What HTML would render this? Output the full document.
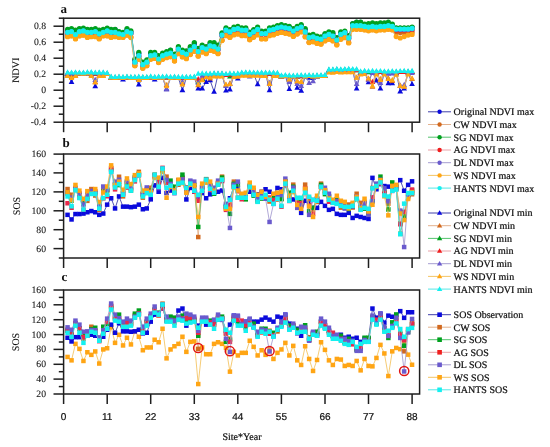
<!DOCTYPE html>
<html><head><meta charset="utf-8"><title>NDVI and SOS comparison</title>
<style>
html,body{margin:0;padding:0;background:#fff;}
body{width:550px;height:447px;overflow:hidden;}
svg{display:block;text-rendering:geometricPrecision;}
.yt{font-family:"Liberation Serif",serif;font-size:9.7px;fill:#111;stroke:#111;stroke-width:0.08px;text-anchor:end;}
.xt{font-family:"Liberation Sans",sans-serif;font-size:10px;fill:#111;stroke:#111;stroke-width:0.22px;text-anchor:middle;}
.lg{font-family:"Liberation Serif",serif;font-size:10px;fill:#111;stroke:#111;stroke-width:0.22px;}
.al{font-family:"Liberation Serif",serif;font-size:10px;fill:#111;stroke:#111;stroke-width:0.08px;text-anchor:middle;}
.xl{font-family:"Liberation Serif",serif;font-size:10px;fill:#111;stroke:#111;stroke-width:0.22px;text-anchor:middle;}
.pl{font-family:"Liberation Serif",serif;font-size:13px;font-weight:bold;fill:#111;}
</style></head>
<body>
<svg width="550" height="447" viewBox="0 0 550 447">
<g>
<rect width="550" height="447" fill="#fff"/>
<g>
<polyline points="67.6,73.4 71.5,82.0 75.5,73.5 79.4,73.7 83.4,73.7 87.4,73.3 91.3,73.3 95.3,86.2 99.2,73.5 103.2,73.4 107.2,73.9 111.1,77.8 115.1,78.0 119.0,77.8 123.0,79.5 127.0,77.6 130.9,77.9 134.9,78.0 138.8,84.5 142.8,77.9 146.8,77.9 150.7,77.5 154.7,79.6 158.6,77.9 162.6,77.7 166.6,89.0 170.5,78.0 174.5,77.8 178.4,77.9 182.4,90.3 186.4,77.9 190.3,78.1 194.3,77.7 198.2,88.4 202.2,88.4 206.2,81.9 210.1,80.3 214.1,91.7 218.0,74.4 222.0,74.4 226.0,90.6 229.9,89.5 233.9,74.7 237.8,78.6 241.8,73.6 245.8,73.5 249.7,75.1 253.7,73.7 257.6,84.2 261.6,73.8 265.6,73.7 269.5,90.3 273.5,73.8 277.4,73.9 281.4,76.4 285.4,76.1 289.3,89.1 293.3,76.6 297.2,87.8 301.2,90.8 305.2,76.4 309.1,77.7 313.1,78.1 317.0,76.3 321.0,76.2 325.0,76.0 328.9,70.4 332.9,70.5 336.8,70.0 340.8,70.4 344.8,70.1 348.7,70.0 352.7,70.1 356.6,88.6 360.6,72.4 364.6,71.9 368.5,82.3 372.5,71.9 376.4,80.5 380.4,88.6 384.4,72.4 388.3,83.2 392.3,83.2 396.2,72.5 400.2,91.4 404.2,88.6 408.1,72.3 412.1,84.1" fill="none" stroke="#2a2aa0" stroke-width="0.8" stroke-linejoin="round"/>
<g fill="#0a0adc"><path d="M67.6,70.2L70.4,75.4L64.7,75.4Z"/><path d="M71.5,78.8L74.4,84.0L68.7,84.0Z"/><path d="M75.5,70.3L78.3,75.5L72.6,75.5Z"/><path d="M79.4,70.4L82.3,75.6L76.6,75.6Z"/><path d="M83.4,70.5L86.3,75.7L80.5,75.7Z"/><path d="M87.4,70.1L90.2,75.3L84.5,75.3Z"/><path d="M91.3,70.1L94.2,75.3L88.5,75.3Z"/><path d="M95.3,83.0L98.1,88.2L92.4,88.2Z"/><path d="M99.2,70.2L102.1,75.4L96.4,75.4Z"/><path d="M103.2,70.2L106.1,75.4L100.3,75.4Z"/><path d="M107.2,70.7L110.0,75.9L104.3,75.9Z"/><path d="M111.1,74.6L114.0,79.8L108.3,79.8Z"/><path d="M115.1,74.8L117.9,80.0L112.2,80.0Z"/><path d="M119.0,74.6L121.9,79.8L116.2,79.8Z"/><path d="M123.0,76.3L125.9,81.5L120.1,81.5Z"/><path d="M127.0,74.4L129.8,79.6L124.1,79.6Z"/><path d="M130.9,74.7L133.8,79.9L128.1,79.9Z"/><path d="M134.9,74.8L137.7,80.0L132.0,80.0Z"/><path d="M138.8,81.3L141.7,86.5L136.0,86.5Z"/><path d="M142.8,74.7L145.7,79.9L139.9,79.9Z"/><path d="M146.8,74.7L149.6,79.9L143.9,79.9Z"/><path d="M150.7,74.3L153.6,79.5L147.9,79.5Z"/><path d="M154.7,76.3L157.5,81.5L151.8,81.5Z"/><path d="M158.6,74.6L161.5,79.8L155.8,79.8Z"/><path d="M162.6,74.5L165.5,79.7L159.7,79.7Z"/><path d="M166.6,85.8L169.4,91.0L163.7,91.0Z"/><path d="M170.5,74.8L173.4,80.0L167.7,80.0Z"/><path d="M174.5,74.6L177.3,79.8L171.6,79.8Z"/><path d="M178.4,74.7L181.3,79.9L175.6,79.9Z"/><path d="M182.4,87.1L185.3,92.3L179.5,92.3Z"/><path d="M186.4,74.7L189.2,79.9L183.5,79.9Z"/><path d="M190.3,74.8L193.2,80.0L187.5,80.0Z"/><path d="M194.3,74.5L197.1,79.7L191.4,79.7Z"/><path d="M198.2,85.2L201.1,90.4L195.4,90.4Z"/><path d="M202.2,85.2L205.1,90.4L199.3,90.4Z"/><path d="M206.2,78.7L209.0,83.9L203.3,83.9Z"/><path d="M210.1,77.1L213.0,82.3L207.3,82.3Z"/><path d="M214.1,88.5L216.9,93.7L211.2,93.7Z"/><path d="M218.0,71.2L220.9,76.4L215.2,76.4Z"/><path d="M222.0,71.2L224.9,76.4L219.1,76.4Z"/><path d="M226.0,87.4L228.8,92.6L223.1,92.6Z"/><path d="M229.9,86.3L232.8,91.5L227.1,91.5Z"/><path d="M233.9,71.5L236.7,76.7L231.0,76.7Z"/><path d="M237.8,75.4L240.7,80.6L235.0,80.6Z"/><path d="M241.8,70.4L244.7,75.6L238.9,75.6Z"/><path d="M245.8,70.3L248.6,75.5L242.9,75.5Z"/><path d="M249.7,71.9L252.6,77.1L246.9,77.1Z"/><path d="M253.7,70.4L256.5,75.6L250.8,75.6Z"/><path d="M257.6,81.0L260.5,86.2L254.8,86.2Z"/><path d="M261.6,70.6L264.5,75.8L258.7,75.8Z"/><path d="M265.6,70.5L268.4,75.7L262.7,75.7Z"/><path d="M269.5,87.1L272.4,92.3L266.7,92.3Z"/><path d="M273.5,70.6L276.3,75.8L270.6,75.8Z"/><path d="M277.4,70.7L280.3,75.9L274.6,75.9Z"/><path d="M281.4,73.2L284.3,78.4L278.5,78.4Z"/><path d="M285.4,72.9L288.2,78.1L282.5,78.1Z"/><path d="M289.3,85.9L292.2,91.1L286.5,91.1Z"/><path d="M293.3,73.4L296.1,78.6L290.4,78.6Z"/><path d="M297.2,84.6L300.1,89.8L294.4,89.8Z"/><path d="M301.2,87.6L304.1,92.8L298.3,92.8Z"/><path d="M305.2,73.2L308.0,78.4L302.3,78.4Z"/><path d="M309.1,74.5L312.0,79.7L306.3,79.7Z"/><path d="M313.1,74.9L315.9,80.1L310.2,80.1Z"/><path d="M317.0,73.1L319.9,78.3L314.2,78.3Z"/><path d="M321.0,72.9L323.9,78.1L318.1,78.1Z"/><path d="M325.0,72.8L327.8,78.0L322.1,78.0Z"/><path d="M328.9,67.2L331.8,72.4L326.1,72.4Z"/><path d="M332.9,67.3L335.7,72.5L330.0,72.5Z"/><path d="M336.8,66.7L339.7,71.9L334.0,71.9Z"/><path d="M340.8,67.2L343.7,72.4L337.9,72.4Z"/><path d="M344.8,66.9L347.6,72.1L341.9,72.1Z"/><path d="M348.7,66.8L351.6,72.0L345.9,72.0Z"/><path d="M352.7,66.9L355.5,72.1L349.8,72.1Z"/><path d="M356.6,85.4L359.5,90.6L353.8,90.6Z"/><path d="M360.6,69.2L363.5,74.4L357.7,74.4Z"/><path d="M364.6,68.7L367.4,73.9L361.7,73.9Z"/><path d="M368.5,79.1L371.4,84.3L365.7,84.3Z"/><path d="M372.5,68.7L375.3,73.9L369.6,73.9Z"/><path d="M376.4,77.3L379.3,82.5L373.6,82.5Z"/><path d="M380.4,85.4L383.3,90.6L377.5,90.6Z"/><path d="M384.4,69.2L387.2,74.4L381.5,74.4Z"/><path d="M388.3,80.0L391.2,85.2L385.5,85.2Z"/><path d="M392.3,80.0L395.1,85.2L389.4,85.2Z"/><path d="M396.2,69.3L399.1,74.5L393.4,74.5Z"/><path d="M400.2,88.2L403.1,93.4L397.3,93.4Z"/><path d="M404.2,85.4L407.0,90.6L401.3,90.6Z"/><path d="M408.1,69.0L411.0,74.2L405.3,74.2Z"/><path d="M412.1,80.9L414.9,86.1L409.2,86.1Z"/></g>
<polyline points="67.6,75.4 71.5,77.0 75.5,75.5 79.4,73.7 83.4,73.7 87.4,73.3 91.3,75.3 95.3,82.0 99.2,75.5 103.2,75.4 107.2,73.9 111.1,77.8 115.1,78.0 119.0,77.8 123.0,77.9 127.0,77.6 130.9,77.9 134.9,78.0 138.8,80.0 142.8,77.9 146.8,77.9 150.7,77.5 154.7,78.0 158.6,77.9 162.6,77.7 166.6,85.1 170.5,78.0 174.5,77.8 178.4,77.9 182.4,83.1 186.4,77.9 190.3,78.1 194.3,77.7 198.2,85.3 202.2,79.6 206.2,74.9 210.1,78.4 214.1,74.4 218.0,74.4 222.0,74.4 226.0,85.3 229.9,83.5 233.9,74.7 237.8,74.5 241.8,73.6 245.8,73.5 249.7,73.5 253.7,73.7 257.6,73.7 261.6,73.8 265.6,73.7 269.5,83.7 273.5,73.8 277.4,73.9 281.4,76.4 285.4,76.1 289.3,79.4 293.3,76.6 297.2,81.4 301.2,82.0 305.2,76.4 309.1,76.1 313.1,76.5 317.0,76.3 321.0,76.2 325.0,76.0 328.9,70.4 332.9,70.5 336.8,70.0 340.8,70.4 344.8,70.1 348.7,70.0 352.7,70.1 356.6,77.6 360.6,72.4 364.6,71.9 368.5,78.7 372.5,86.8 376.4,72.3 380.4,79.1 384.4,72.4 388.3,78.3 392.3,80.9 396.2,72.5 400.2,85.7 404.2,86.4 408.1,72.3 412.1,78.9" fill="none" stroke="#e0a880" stroke-width="0.8" stroke-linejoin="round"/>
<g fill="#d2691e"><path d="M67.6,72.2L70.4,77.4L64.7,77.4Z"/><path d="M71.5,73.8L74.4,79.0L68.7,79.0Z"/><path d="M75.5,72.3L78.3,77.5L72.6,77.5Z"/><path d="M79.4,70.4L82.3,75.6L76.6,75.6Z"/><path d="M83.4,70.5L86.3,75.7L80.5,75.7Z"/><path d="M87.4,70.1L90.2,75.3L84.5,75.3Z"/><path d="M91.3,72.1L94.2,77.3L88.5,77.3Z"/><path d="M95.3,78.8L98.1,84.0L92.4,84.0Z"/><path d="M99.2,72.2L102.1,77.4L96.4,77.4Z"/><path d="M103.2,72.2L106.1,77.4L100.3,77.4Z"/><path d="M107.2,70.7L110.0,75.9L104.3,75.9Z"/><path d="M111.1,74.6L114.0,79.8L108.3,79.8Z"/><path d="M115.1,74.8L117.9,80.0L112.2,80.0Z"/><path d="M119.0,74.6L121.9,79.8L116.2,79.8Z"/><path d="M123.0,74.7L125.9,79.9L120.1,79.9Z"/><path d="M127.0,74.4L129.8,79.6L124.1,79.6Z"/><path d="M130.9,74.7L133.8,79.9L128.1,79.9Z"/><path d="M134.9,74.8L137.7,80.0L132.0,80.0Z"/><path d="M138.8,76.8L141.7,82.0L136.0,82.0Z"/><path d="M142.8,74.7L145.7,79.9L139.9,79.9Z"/><path d="M146.8,74.7L149.6,79.9L143.9,79.9Z"/><path d="M150.7,74.3L153.6,79.5L147.9,79.5Z"/><path d="M154.7,74.7L157.5,79.9L151.8,79.9Z"/><path d="M158.6,74.6L161.5,79.8L155.8,79.8Z"/><path d="M162.6,74.5L165.5,79.7L159.7,79.7Z"/><path d="M166.6,81.9L169.4,87.1L163.7,87.1Z"/><path d="M170.5,74.8L173.4,80.0L167.7,80.0Z"/><path d="M174.5,74.6L177.3,79.8L171.6,79.8Z"/><path d="M178.4,74.7L181.3,79.9L175.6,79.9Z"/><path d="M182.4,79.9L185.3,85.1L179.5,85.1Z"/><path d="M186.4,74.7L189.2,79.9L183.5,79.9Z"/><path d="M190.3,74.8L193.2,80.0L187.5,80.0Z"/><path d="M194.3,74.5L197.1,79.7L191.4,79.7Z"/><path d="M198.2,82.0L201.1,87.2L195.4,87.2Z"/><path d="M202.2,76.4L205.1,81.6L199.3,81.6Z"/><path d="M206.2,71.6L209.0,76.8L203.3,76.8Z"/><path d="M210.1,75.2L213.0,80.4L207.3,80.4Z"/><path d="M214.1,71.1L216.9,76.3L211.2,76.3Z"/><path d="M218.0,71.2L220.9,76.4L215.2,76.4Z"/><path d="M222.0,71.2L224.9,76.4L219.1,76.4Z"/><path d="M226.0,82.1L228.8,87.3L223.1,87.3Z"/><path d="M229.9,80.3L232.8,85.5L227.1,85.5Z"/><path d="M233.9,71.5L236.7,76.7L231.0,76.7Z"/><path d="M237.8,71.3L240.7,76.5L235.0,76.5Z"/><path d="M241.8,70.4L244.7,75.6L238.9,75.6Z"/><path d="M245.8,70.3L248.6,75.5L242.9,75.5Z"/><path d="M249.7,70.3L252.6,75.5L246.9,75.5Z"/><path d="M253.7,70.4L256.5,75.6L250.8,75.6Z"/><path d="M257.6,70.4L260.5,75.6L254.8,75.6Z"/><path d="M261.6,70.6L264.5,75.8L258.7,75.8Z"/><path d="M265.6,70.5L268.4,75.7L262.7,75.7Z"/><path d="M269.5,80.4L272.4,85.6L266.7,85.6Z"/><path d="M273.5,70.6L276.3,75.8L270.6,75.8Z"/><path d="M277.4,70.7L280.3,75.9L274.6,75.9Z"/><path d="M281.4,73.2L284.3,78.4L278.5,78.4Z"/><path d="M285.4,72.9L288.2,78.1L282.5,78.1Z"/><path d="M289.3,76.2L292.2,81.4L286.5,81.4Z"/><path d="M293.3,73.4L296.1,78.6L290.4,78.6Z"/><path d="M297.2,78.2L300.1,83.4L294.4,83.4Z"/><path d="M301.2,78.8L304.1,84.0L298.3,84.0Z"/><path d="M305.2,73.2L308.0,78.4L302.3,78.4Z"/><path d="M309.1,72.9L312.0,78.1L306.3,78.1Z"/><path d="M313.1,73.3L315.9,78.5L310.2,78.5Z"/><path d="M317.0,73.1L319.9,78.3L314.2,78.3Z"/><path d="M321.0,72.9L323.9,78.1L318.1,78.1Z"/><path d="M325.0,72.8L327.8,78.0L322.1,78.0Z"/><path d="M328.9,67.2L331.8,72.4L326.1,72.4Z"/><path d="M332.9,67.3L335.7,72.5L330.0,72.5Z"/><path d="M336.8,66.7L339.7,71.9L334.0,71.9Z"/><path d="M340.8,67.2L343.7,72.4L337.9,72.4Z"/><path d="M344.8,66.9L347.6,72.1L341.9,72.1Z"/><path d="M348.7,66.8L351.6,72.0L345.9,72.0Z"/><path d="M352.7,66.9L355.5,72.1L349.8,72.1Z"/><path d="M356.6,74.4L359.5,79.6L353.8,79.6Z"/><path d="M360.6,69.2L363.5,74.4L357.7,74.4Z"/><path d="M364.6,68.7L367.4,73.9L361.7,73.9Z"/><path d="M368.5,75.4L371.4,80.6L365.7,80.6Z"/><path d="M372.5,83.5L375.3,88.7L369.6,88.7Z"/><path d="M376.4,69.1L379.3,74.3L373.6,74.3Z"/><path d="M380.4,75.9L383.3,81.1L377.5,81.1Z"/><path d="M384.4,69.2L387.2,74.4L381.5,74.4Z"/><path d="M388.3,75.0L391.2,80.2L385.5,80.2Z"/><path d="M392.3,77.7L395.1,82.9L389.4,82.9Z"/><path d="M396.2,69.3L399.1,74.5L393.4,74.5Z"/><path d="M400.2,82.4L403.1,87.6L397.3,87.6Z"/><path d="M404.2,83.2L407.0,88.4L401.3,88.4Z"/><path d="M408.1,69.0L411.0,74.2L405.3,74.2Z"/><path d="M412.1,75.7L414.9,80.9L409.2,80.9Z"/></g>
<polyline points="67.6,73.4 71.5,73.6 75.5,73.5 79.4,73.7 83.4,73.7 87.4,73.3 91.3,73.3 95.3,73.8 99.2,73.5 103.2,73.4 107.2,73.9 111.1,77.8 115.1,78.0 119.0,77.8 123.0,77.9 127.0,77.6 130.9,77.9 134.9,78.0 138.8,77.8 142.8,77.9 146.8,77.9 150.7,77.5 154.7,78.0 158.6,77.9 162.6,77.7 166.6,77.5 170.5,78.0 174.5,77.8 178.4,77.9 182.4,78.0 186.4,77.9 190.3,78.1 194.3,77.7 198.2,81.9 202.2,79.0 206.2,74.9 210.1,74.8 214.1,74.4 218.0,74.4 222.0,74.4 226.0,74.9 229.9,76.5 233.9,74.7 237.8,74.5 241.8,73.6 245.8,73.5 249.7,73.5 253.7,73.7 257.6,73.7 261.6,73.8 265.6,73.7 269.5,73.9 273.5,73.8 277.4,73.9 281.4,76.4 285.4,76.1 289.3,76.5 293.3,76.6 297.2,76.5 301.2,76.3 305.2,76.4 309.1,76.1 313.1,76.5 317.0,76.3 321.0,76.2 325.0,76.0 328.9,70.4 332.9,70.5 336.8,70.0 340.8,70.4 344.8,70.1 348.7,70.0 352.7,70.1 356.6,70.4 360.6,72.4 364.6,71.9 368.5,72.3 372.5,71.9 376.4,72.3 380.4,72.1 384.4,72.4 388.3,72.5 392.3,72.2 396.2,72.5 400.2,72.1 404.2,71.9 408.1,72.3 412.1,71.9" fill="none" stroke="#40bc5c" stroke-width="0.8" stroke-linejoin="round"/>
<g fill="#00a01e"><path d="M67.6,70.2L70.4,75.4L64.7,75.4Z"/><path d="M71.5,70.4L74.4,75.6L68.7,75.6Z"/><path d="M75.5,70.3L78.3,75.5L72.6,75.5Z"/><path d="M79.4,70.4L82.3,75.6L76.6,75.6Z"/><path d="M83.4,70.5L86.3,75.7L80.5,75.7Z"/><path d="M87.4,70.1L90.2,75.3L84.5,75.3Z"/><path d="M91.3,70.1L94.2,75.3L88.5,75.3Z"/><path d="M95.3,70.6L98.1,75.8L92.4,75.8Z"/><path d="M99.2,70.2L102.1,75.4L96.4,75.4Z"/><path d="M103.2,70.2L106.1,75.4L100.3,75.4Z"/><path d="M107.2,70.7L110.0,75.9L104.3,75.9Z"/><path d="M111.1,74.6L114.0,79.8L108.3,79.8Z"/><path d="M115.1,74.8L117.9,80.0L112.2,80.0Z"/><path d="M119.0,74.6L121.9,79.8L116.2,79.8Z"/><path d="M123.0,74.7L125.9,79.9L120.1,79.9Z"/><path d="M127.0,74.4L129.8,79.6L124.1,79.6Z"/><path d="M130.9,74.7L133.8,79.9L128.1,79.9Z"/><path d="M134.9,74.8L137.7,80.0L132.0,80.0Z"/><path d="M138.8,74.6L141.7,79.8L136.0,79.8Z"/><path d="M142.8,74.7L145.7,79.9L139.9,79.9Z"/><path d="M146.8,74.7L149.6,79.9L143.9,79.9Z"/><path d="M150.7,74.3L153.6,79.5L147.9,79.5Z"/><path d="M154.7,74.7L157.5,79.9L151.8,79.9Z"/><path d="M158.6,74.6L161.5,79.8L155.8,79.8Z"/><path d="M162.6,74.5L165.5,79.7L159.7,79.7Z"/><path d="M166.6,74.3L169.4,79.5L163.7,79.5Z"/><path d="M170.5,74.8L173.4,80.0L167.7,80.0Z"/><path d="M174.5,74.6L177.3,79.8L171.6,79.8Z"/><path d="M178.4,74.7L181.3,79.9L175.6,79.9Z"/><path d="M182.4,74.8L185.3,80.0L179.5,80.0Z"/><path d="M186.4,74.7L189.2,79.9L183.5,79.9Z"/><path d="M190.3,74.8L193.2,80.0L187.5,80.0Z"/><path d="M194.3,74.5L197.1,79.7L191.4,79.7Z"/><path d="M198.2,78.7L201.1,83.9L195.4,83.9Z"/><path d="M202.2,75.8L205.1,81.0L199.3,81.0Z"/><path d="M206.2,71.6L209.0,76.8L203.3,76.8Z"/><path d="M210.1,71.6L213.0,76.8L207.3,76.8Z"/><path d="M214.1,71.1L216.9,76.3L211.2,76.3Z"/><path d="M218.0,71.2L220.9,76.4L215.2,76.4Z"/><path d="M222.0,71.2L224.9,76.4L219.1,76.4Z"/><path d="M226.0,71.7L228.8,76.9L223.1,76.9Z"/><path d="M229.9,73.3L232.8,78.5L227.1,78.5Z"/><path d="M233.9,71.5L236.7,76.7L231.0,76.7Z"/><path d="M237.8,71.3L240.7,76.5L235.0,76.5Z"/><path d="M241.8,70.4L244.7,75.6L238.9,75.6Z"/><path d="M245.8,70.3L248.6,75.5L242.9,75.5Z"/><path d="M249.7,70.3L252.6,75.5L246.9,75.5Z"/><path d="M253.7,70.4L256.5,75.6L250.8,75.6Z"/><path d="M257.6,70.4L260.5,75.6L254.8,75.6Z"/><path d="M261.6,70.6L264.5,75.8L258.7,75.8Z"/><path d="M265.6,70.5L268.4,75.7L262.7,75.7Z"/><path d="M269.5,70.6L272.4,75.8L266.7,75.8Z"/><path d="M273.5,70.6L276.3,75.8L270.6,75.8Z"/><path d="M277.4,70.7L280.3,75.9L274.6,75.9Z"/><path d="M281.4,73.2L284.3,78.4L278.5,78.4Z"/><path d="M285.4,72.9L288.2,78.1L282.5,78.1Z"/><path d="M289.3,73.3L292.2,78.5L286.5,78.5Z"/><path d="M293.3,73.4L296.1,78.6L290.4,78.6Z"/><path d="M297.2,73.3L300.1,78.5L294.4,78.5Z"/><path d="M301.2,73.1L304.1,78.3L298.3,78.3Z"/><path d="M305.2,73.2L308.0,78.4L302.3,78.4Z"/><path d="M309.1,72.9L312.0,78.1L306.3,78.1Z"/><path d="M313.1,73.3L315.9,78.5L310.2,78.5Z"/><path d="M317.0,73.1L319.9,78.3L314.2,78.3Z"/><path d="M321.0,72.9L323.9,78.1L318.1,78.1Z"/><path d="M325.0,72.8L327.8,78.0L322.1,78.0Z"/><path d="M328.9,67.2L331.8,72.4L326.1,72.4Z"/><path d="M332.9,67.3L335.7,72.5L330.0,72.5Z"/><path d="M336.8,66.7L339.7,71.9L334.0,71.9Z"/><path d="M340.8,67.2L343.7,72.4L337.9,72.4Z"/><path d="M344.8,66.9L347.6,72.1L341.9,72.1Z"/><path d="M348.7,66.8L351.6,72.0L345.9,72.0Z"/><path d="M352.7,66.9L355.5,72.1L349.8,72.1Z"/><path d="M356.6,67.1L359.5,72.3L353.8,72.3Z"/><path d="M360.6,69.2L363.5,74.4L357.7,74.4Z"/><path d="M364.6,68.7L367.4,73.9L361.7,73.9Z"/><path d="M368.5,69.0L371.4,74.2L365.7,74.2Z"/><path d="M372.5,68.7L375.3,73.9L369.6,73.9Z"/><path d="M376.4,69.1L379.3,74.3L373.6,74.3Z"/><path d="M380.4,68.9L383.3,74.1L377.5,74.1Z"/><path d="M384.4,69.2L387.2,74.4L381.5,74.4Z"/><path d="M388.3,69.3L391.2,74.5L385.5,74.5Z"/><path d="M392.3,69.0L395.1,74.2L389.4,74.2Z"/><path d="M396.2,69.3L399.1,74.5L393.4,74.5Z"/><path d="M400.2,68.9L403.1,74.1L397.3,74.1Z"/><path d="M404.2,68.7L407.0,73.9L401.3,73.9Z"/><path d="M408.1,69.0L411.0,74.2L405.3,74.2Z"/><path d="M412.1,68.7L414.9,73.9L409.2,73.9Z"/></g>
<polyline points="67.6,73.4 71.5,73.6 75.5,73.5 79.4,73.7 83.4,73.7 87.4,73.3 91.3,73.3 95.3,73.8 99.2,73.5 103.2,73.4 107.2,73.9 111.1,77.8 115.1,78.0 119.0,77.8 123.0,77.9 127.0,77.6 130.9,77.9 134.9,78.0 138.8,77.8 142.8,77.9 146.8,77.9 150.7,77.5 154.7,78.0 158.6,77.9 162.6,77.7 166.6,77.5 170.5,78.0 174.5,77.8 178.4,77.9 182.4,78.0 186.4,77.9 190.3,78.1 194.3,77.7 198.2,79.2 202.2,78.0 206.2,74.9 210.1,74.8 214.1,74.4 218.0,74.4 222.0,74.4 226.0,74.9 229.9,74.6 233.9,74.7 237.8,74.5 241.8,73.6 245.8,73.5 249.7,73.5 253.7,73.7 257.6,73.7 261.6,73.8 265.6,73.7 269.5,73.9 273.5,73.8 277.4,73.9 281.4,76.4 285.4,76.1 289.3,76.5 293.3,76.6 297.2,76.5 301.2,76.3 305.2,76.4 309.1,76.1 313.1,76.5 317.0,76.3 321.0,76.2 325.0,76.0 328.9,70.4 332.9,70.5 336.8,70.0 340.8,70.4 344.8,70.1 348.7,70.0 352.7,70.1 356.6,70.4 360.6,72.4 364.6,71.9 368.5,79.5 372.5,82.0 376.4,72.3 380.4,72.1 384.4,72.4 388.3,72.5 392.3,72.2 396.2,72.5 400.2,72.1 404.2,71.9 408.1,72.3 412.1,71.9" fill="none" stroke="#e6969e" stroke-width="0.8" stroke-linejoin="round"/>
<g fill="#f01e1e"><path d="M67.6,70.2L70.4,75.4L64.7,75.4Z"/><path d="M71.5,70.4L74.4,75.6L68.7,75.6Z"/><path d="M75.5,70.3L78.3,75.5L72.6,75.5Z"/><path d="M79.4,70.4L82.3,75.6L76.6,75.6Z"/><path d="M83.4,70.5L86.3,75.7L80.5,75.7Z"/><path d="M87.4,70.1L90.2,75.3L84.5,75.3Z"/><path d="M91.3,70.1L94.2,75.3L88.5,75.3Z"/><path d="M95.3,70.6L98.1,75.8L92.4,75.8Z"/><path d="M99.2,70.2L102.1,75.4L96.4,75.4Z"/><path d="M103.2,70.2L106.1,75.4L100.3,75.4Z"/><path d="M107.2,70.7L110.0,75.9L104.3,75.9Z"/><path d="M111.1,74.6L114.0,79.8L108.3,79.8Z"/><path d="M115.1,74.8L117.9,80.0L112.2,80.0Z"/><path d="M119.0,74.6L121.9,79.8L116.2,79.8Z"/><path d="M123.0,74.7L125.9,79.9L120.1,79.9Z"/><path d="M127.0,74.4L129.8,79.6L124.1,79.6Z"/><path d="M130.9,74.7L133.8,79.9L128.1,79.9Z"/><path d="M134.9,74.8L137.7,80.0L132.0,80.0Z"/><path d="M138.8,74.6L141.7,79.8L136.0,79.8Z"/><path d="M142.8,74.7L145.7,79.9L139.9,79.9Z"/><path d="M146.8,74.7L149.6,79.9L143.9,79.9Z"/><path d="M150.7,74.3L153.6,79.5L147.9,79.5Z"/><path d="M154.7,74.7L157.5,79.9L151.8,79.9Z"/><path d="M158.6,74.6L161.5,79.8L155.8,79.8Z"/><path d="M162.6,74.5L165.5,79.7L159.7,79.7Z"/><path d="M166.6,74.3L169.4,79.5L163.7,79.5Z"/><path d="M170.5,74.8L173.4,80.0L167.7,80.0Z"/><path d="M174.5,74.6L177.3,79.8L171.6,79.8Z"/><path d="M178.4,74.7L181.3,79.9L175.6,79.9Z"/><path d="M182.4,74.8L185.3,80.0L179.5,80.0Z"/><path d="M186.4,74.7L189.2,79.9L183.5,79.9Z"/><path d="M190.3,74.8L193.2,80.0L187.5,80.0Z"/><path d="M194.3,74.5L197.1,79.7L191.4,79.7Z"/><path d="M198.2,76.0L201.1,81.2L195.4,81.2Z"/><path d="M202.2,74.8L205.1,80.0L199.3,80.0Z"/><path d="M206.2,71.6L209.0,76.8L203.3,76.8Z"/><path d="M210.1,71.6L213.0,76.8L207.3,76.8Z"/><path d="M214.1,71.1L216.9,76.3L211.2,76.3Z"/><path d="M218.0,71.2L220.9,76.4L215.2,76.4Z"/><path d="M222.0,71.2L224.9,76.4L219.1,76.4Z"/><path d="M226.0,71.7L228.8,76.9L223.1,76.9Z"/><path d="M229.9,71.3L232.8,76.5L227.1,76.5Z"/><path d="M233.9,71.5L236.7,76.7L231.0,76.7Z"/><path d="M237.8,71.3L240.7,76.5L235.0,76.5Z"/><path d="M241.8,70.4L244.7,75.6L238.9,75.6Z"/><path d="M245.8,70.3L248.6,75.5L242.9,75.5Z"/><path d="M249.7,70.3L252.6,75.5L246.9,75.5Z"/><path d="M253.7,70.4L256.5,75.6L250.8,75.6Z"/><path d="M257.6,70.4L260.5,75.6L254.8,75.6Z"/><path d="M261.6,70.6L264.5,75.8L258.7,75.8Z"/><path d="M265.6,70.5L268.4,75.7L262.7,75.7Z"/><path d="M269.5,70.6L272.4,75.8L266.7,75.8Z"/><path d="M273.5,70.6L276.3,75.8L270.6,75.8Z"/><path d="M277.4,70.7L280.3,75.9L274.6,75.9Z"/><path d="M281.4,73.2L284.3,78.4L278.5,78.4Z"/><path d="M285.4,72.9L288.2,78.1L282.5,78.1Z"/><path d="M289.3,73.3L292.2,78.5L286.5,78.5Z"/><path d="M293.3,73.4L296.1,78.6L290.4,78.6Z"/><path d="M297.2,73.3L300.1,78.5L294.4,78.5Z"/><path d="M301.2,73.1L304.1,78.3L298.3,78.3Z"/><path d="M305.2,73.2L308.0,78.4L302.3,78.4Z"/><path d="M309.1,72.9L312.0,78.1L306.3,78.1Z"/><path d="M313.1,73.3L315.9,78.5L310.2,78.5Z"/><path d="M317.0,73.1L319.9,78.3L314.2,78.3Z"/><path d="M321.0,72.9L323.9,78.1L318.1,78.1Z"/><path d="M325.0,72.8L327.8,78.0L322.1,78.0Z"/><path d="M328.9,67.2L331.8,72.4L326.1,72.4Z"/><path d="M332.9,67.3L335.7,72.5L330.0,72.5Z"/><path d="M336.8,66.7L339.7,71.9L334.0,71.9Z"/><path d="M340.8,67.2L343.7,72.4L337.9,72.4Z"/><path d="M344.8,66.9L347.6,72.1L341.9,72.1Z"/><path d="M348.7,66.8L351.6,72.0L345.9,72.0Z"/><path d="M352.7,66.9L355.5,72.1L349.8,72.1Z"/><path d="M356.6,67.1L359.5,72.3L353.8,72.3Z"/><path d="M360.6,69.2L363.5,74.4L357.7,74.4Z"/><path d="M364.6,68.7L367.4,73.9L361.7,73.9Z"/><path d="M368.5,76.3L371.4,81.5L365.7,81.5Z"/><path d="M372.5,78.8L375.3,84.0L369.6,84.0Z"/><path d="M376.4,69.1L379.3,74.3L373.6,74.3Z"/><path d="M380.4,68.9L383.3,74.1L377.5,74.1Z"/><path d="M384.4,69.2L387.2,74.4L381.5,74.4Z"/><path d="M388.3,69.3L391.2,74.5L385.5,74.5Z"/><path d="M392.3,69.0L395.1,74.2L389.4,74.2Z"/><path d="M396.2,69.3L399.1,74.5L393.4,74.5Z"/><path d="M400.2,68.9L403.1,74.1L397.3,74.1Z"/><path d="M404.2,68.7L407.0,73.9L401.3,73.9Z"/><path d="M408.1,69.0L411.0,74.2L405.3,74.2Z"/><path d="M412.1,68.7L414.9,73.9L409.2,73.9Z"/></g>
<polyline points="67.6,73.4 71.5,73.6 75.5,73.5 79.4,73.7 83.4,73.7 87.4,73.3 91.3,73.3 95.3,80.0 99.2,73.5 103.2,73.4 107.2,73.9 111.1,77.8 115.1,78.0 119.0,77.8 123.0,77.9 127.0,77.6 130.9,77.9 134.9,78.0 138.8,77.8 142.8,77.9 146.8,77.9 150.7,77.5 154.7,78.0 158.6,77.9 162.6,77.7 166.6,89.5 170.5,78.0 174.5,77.8 178.4,77.9 182.4,82.0 186.4,77.9 190.3,78.1 194.3,77.7 198.2,83.0 202.2,75.8 206.2,76.1 210.1,76.0 214.1,75.6 218.0,75.5 222.0,75.6 226.0,86.0 229.9,84.0 233.9,75.9 237.8,75.7 241.8,74.8 245.8,74.7 249.7,76.5 253.7,74.9 257.6,74.9 261.6,75.0 265.6,74.9 269.5,83.0 273.5,75.0 277.4,75.1 281.4,76.4 285.4,76.1 289.3,82.0 293.3,76.6 297.2,84.0 301.2,86.0 305.2,76.4 309.1,82.9 313.1,81.3 317.0,76.3 321.0,76.2 325.0,76.0 328.9,71.6 332.9,71.7 336.8,71.2 340.8,71.6 344.8,71.3 348.7,71.2 352.7,71.3 356.6,84.0 360.6,73.6 364.6,73.1 368.5,80.0 372.5,73.1 376.4,73.5 380.4,83.0 384.4,73.6 388.3,73.7 392.3,73.4 396.2,73.7 400.2,86.0 404.2,85.0 408.1,73.5 412.1,73.1" fill="none" stroke="#9c92cc" stroke-width="0.8" stroke-linejoin="round"/>
<g fill="#6a5acd"><path d="M67.6,70.2L70.4,75.4L64.7,75.4Z"/><path d="M71.5,70.4L74.4,75.6L68.7,75.6Z"/><path d="M75.5,70.3L78.3,75.5L72.6,75.5Z"/><path d="M79.4,70.4L82.3,75.6L76.6,75.6Z"/><path d="M83.4,70.5L86.3,75.7L80.5,75.7Z"/><path d="M87.4,70.1L90.2,75.3L84.5,75.3Z"/><path d="M91.3,70.1L94.2,75.3L88.5,75.3Z"/><path d="M95.3,76.8L98.1,82.0L92.4,82.0Z"/><path d="M99.2,70.2L102.1,75.4L96.4,75.4Z"/><path d="M103.2,70.2L106.1,75.4L100.3,75.4Z"/><path d="M107.2,70.7L110.0,75.9L104.3,75.9Z"/><path d="M111.1,74.6L114.0,79.8L108.3,79.8Z"/><path d="M115.1,74.8L117.9,80.0L112.2,80.0Z"/><path d="M119.0,74.6L121.9,79.8L116.2,79.8Z"/><path d="M123.0,74.7L125.9,79.9L120.1,79.9Z"/><path d="M127.0,74.4L129.8,79.6L124.1,79.6Z"/><path d="M130.9,74.7L133.8,79.9L128.1,79.9Z"/><path d="M134.9,74.8L137.7,80.0L132.0,80.0Z"/><path d="M138.8,74.6L141.7,79.8L136.0,79.8Z"/><path d="M142.8,74.7L145.7,79.9L139.9,79.9Z"/><path d="M146.8,74.7L149.6,79.9L143.9,79.9Z"/><path d="M150.7,74.3L153.6,79.5L147.9,79.5Z"/><path d="M154.7,74.7L157.5,79.9L151.8,79.9Z"/><path d="M158.6,74.6L161.5,79.8L155.8,79.8Z"/><path d="M162.6,74.5L165.5,79.7L159.7,79.7Z"/><path d="M166.6,86.3L169.4,91.5L163.7,91.5Z"/><path d="M170.5,74.8L173.4,80.0L167.7,80.0Z"/><path d="M174.5,74.6L177.3,79.8L171.6,79.8Z"/><path d="M178.4,74.7L181.3,79.9L175.6,79.9Z"/><path d="M182.4,78.8L185.3,84.0L179.5,84.0Z"/><path d="M186.4,74.7L189.2,79.9L183.5,79.9Z"/><path d="M190.3,74.8L193.2,80.0L187.5,80.0Z"/><path d="M194.3,74.5L197.1,79.7L191.4,79.7Z"/><path d="M198.2,79.8L201.1,85.0L195.4,85.0Z"/><path d="M202.2,72.5L205.1,77.7L199.3,77.7Z"/><path d="M206.2,72.8L209.0,78.0L203.3,78.0Z"/><path d="M210.1,72.8L213.0,78.0L207.3,78.0Z"/><path d="M214.1,72.3L216.9,77.5L211.2,77.5Z"/><path d="M218.0,72.3L220.9,77.5L215.2,77.5Z"/><path d="M222.0,72.4L224.9,77.6L219.1,77.6Z"/><path d="M226.0,82.8L228.8,88.0L223.1,88.0Z"/><path d="M229.9,80.8L232.8,86.0L227.1,86.0Z"/><path d="M233.9,72.7L236.7,77.9L231.0,77.9Z"/><path d="M237.8,72.5L240.7,77.7L235.0,77.7Z"/><path d="M241.8,71.6L244.7,76.8L238.9,76.8Z"/><path d="M245.8,71.5L248.6,76.7L242.9,76.7Z"/><path d="M249.7,73.3L252.6,78.5L246.9,78.5Z"/><path d="M253.7,71.6L256.5,76.8L250.8,76.8Z"/><path d="M257.6,71.6L260.5,76.8L254.8,76.8Z"/><path d="M261.6,71.8L264.5,77.0L258.7,77.0Z"/><path d="M265.6,71.7L268.4,76.9L262.7,76.9Z"/><path d="M269.5,79.8L272.4,85.0L266.7,85.0Z"/><path d="M273.5,71.8L276.3,77.0L270.6,77.0Z"/><path d="M277.4,71.9L280.3,77.1L274.6,77.1Z"/><path d="M281.4,73.2L284.3,78.4L278.5,78.4Z"/><path d="M285.4,72.9L288.2,78.1L282.5,78.1Z"/><path d="M289.3,78.8L292.2,84.0L286.5,84.0Z"/><path d="M293.3,73.4L296.1,78.6L290.4,78.6Z"/><path d="M297.2,80.8L300.1,86.0L294.4,86.0Z"/><path d="M301.2,82.8L304.1,88.0L298.3,88.0Z"/><path d="M305.2,73.2L308.0,78.4L302.3,78.4Z"/><path d="M309.1,79.7L312.0,84.9L306.3,84.9Z"/><path d="M313.1,78.1L315.9,83.3L310.2,83.3Z"/><path d="M317.0,73.1L319.9,78.3L314.2,78.3Z"/><path d="M321.0,72.9L323.9,78.1L318.1,78.1Z"/><path d="M325.0,72.8L327.8,78.0L322.1,78.0Z"/><path d="M328.9,68.4L331.8,73.6L326.1,73.6Z"/><path d="M332.9,68.5L335.7,73.7L330.0,73.7Z"/><path d="M336.8,67.9L339.7,73.1L334.0,73.1Z"/><path d="M340.8,68.4L343.7,73.6L337.9,73.6Z"/><path d="M344.8,68.1L347.6,73.3L341.9,73.3Z"/><path d="M348.7,68.0L351.6,73.2L345.9,73.2Z"/><path d="M352.7,68.1L355.5,73.3L349.8,73.3Z"/><path d="M356.6,80.8L359.5,86.0L353.8,86.0Z"/><path d="M360.6,70.4L363.5,75.6L357.7,75.6Z"/><path d="M364.6,69.9L367.4,75.1L361.7,75.1Z"/><path d="M368.5,76.8L371.4,82.0L365.7,82.0Z"/><path d="M372.5,69.9L375.3,75.1L369.6,75.1Z"/><path d="M376.4,70.3L379.3,75.5L373.6,75.5Z"/><path d="M380.4,79.8L383.3,85.0L377.5,85.0Z"/><path d="M384.4,70.4L387.2,75.6L381.5,75.6Z"/><path d="M388.3,70.5L391.2,75.7L385.5,75.7Z"/><path d="M392.3,70.2L395.1,75.4L389.4,75.4Z"/><path d="M396.2,70.5L399.1,75.7L393.4,75.7Z"/><path d="M400.2,82.8L403.1,88.0L397.3,88.0Z"/><path d="M404.2,81.8L407.0,87.0L401.3,87.0Z"/><path d="M408.1,70.2L411.0,75.4L405.3,75.4Z"/><path d="M412.1,69.9L414.9,75.1L409.2,75.1Z"/></g>
<polyline points="67.6,76.0 71.5,78.0 75.5,76.1 79.4,73.7 83.4,73.7 87.4,73.3 91.3,75.9 95.3,82.5 99.2,76.1 103.2,76.0 107.2,73.9 111.1,77.8 115.1,78.0 119.0,77.8 123.0,77.9 127.0,77.6 130.9,77.9 134.9,78.0 138.8,80.0 142.8,77.9 146.8,77.9 150.7,77.5 154.7,78.0 158.6,77.9 162.6,77.7 166.6,86.2 170.5,78.0 174.5,77.8 178.4,77.9 182.4,84.5 186.4,77.9 190.3,78.1 194.3,77.7 198.2,84.6 202.2,80.3 206.2,77.1 210.1,77.5 214.1,76.6 218.0,76.6 222.0,76.6 226.0,84.6 229.9,84.1 233.9,76.9 237.8,76.7 241.8,75.8 245.8,75.7 249.7,75.7 253.7,75.9 257.6,75.9 261.6,76.0 265.6,75.9 269.5,84.0 273.5,76.0 277.4,76.1 281.4,76.4 285.4,76.1 289.3,79.6 293.3,76.6 297.2,81.3 301.2,82.0 305.2,76.4 309.1,76.1 313.1,76.5 317.0,76.3 321.0,76.2 325.0,76.0 328.9,72.6 332.9,72.7 336.8,72.2 340.8,72.6 344.8,72.3 348.7,72.2 352.7,72.3 356.6,77.7 360.6,74.6 364.6,74.1 368.5,78.6 372.5,85.9 376.4,74.5 380.4,80.0 384.4,74.6 388.3,79.0 392.3,80.0 396.2,74.7 400.2,85.9 404.2,86.8 408.1,74.5 412.1,78.6" fill="none" stroke="#f2be52" stroke-width="0.8" stroke-linejoin="round"/>
<g fill="#ffa514"><path d="M67.6,72.8L70.4,78.0L64.7,78.0Z"/><path d="M71.5,74.8L74.4,80.0L68.7,80.0Z"/><path d="M75.5,72.9L78.3,78.1L72.6,78.1Z"/><path d="M79.4,70.4L82.3,75.6L76.6,75.6Z"/><path d="M83.4,70.5L86.3,75.7L80.5,75.7Z"/><path d="M87.4,70.1L90.2,75.3L84.5,75.3Z"/><path d="M91.3,72.7L94.2,77.9L88.5,77.9Z"/><path d="M95.3,79.3L98.1,84.5L92.4,84.5Z"/><path d="M99.2,72.8L102.1,78.0L96.4,78.0Z"/><path d="M103.2,72.8L106.1,78.0L100.3,78.0Z"/><path d="M107.2,70.7L110.0,75.9L104.3,75.9Z"/><path d="M111.1,74.6L114.0,79.8L108.3,79.8Z"/><path d="M115.1,74.8L117.9,80.0L112.2,80.0Z"/><path d="M119.0,74.6L121.9,79.8L116.2,79.8Z"/><path d="M123.0,74.7L125.9,79.9L120.1,79.9Z"/><path d="M127.0,74.4L129.8,79.6L124.1,79.6Z"/><path d="M130.9,74.7L133.8,79.9L128.1,79.9Z"/><path d="M134.9,74.8L137.7,80.0L132.0,80.0Z"/><path d="M138.8,76.8L141.7,82.0L136.0,82.0Z"/><path d="M142.8,74.7L145.7,79.9L139.9,79.9Z"/><path d="M146.8,74.7L149.6,79.9L143.9,79.9Z"/><path d="M150.7,74.3L153.6,79.5L147.9,79.5Z"/><path d="M154.7,74.7L157.5,79.9L151.8,79.9Z"/><path d="M158.6,74.6L161.5,79.8L155.8,79.8Z"/><path d="M162.6,74.5L165.5,79.7L159.7,79.7Z"/><path d="M166.6,83.0L169.4,88.2L163.7,88.2Z"/><path d="M170.5,74.8L173.4,80.0L167.7,80.0Z"/><path d="M174.5,74.6L177.3,79.8L171.6,79.8Z"/><path d="M178.4,74.7L181.3,79.9L175.6,79.9Z"/><path d="M182.4,81.3L185.3,86.5L179.5,86.5Z"/><path d="M186.4,74.7L189.2,79.9L183.5,79.9Z"/><path d="M190.3,74.8L193.2,80.0L187.5,80.0Z"/><path d="M194.3,74.5L197.1,79.7L191.4,79.7Z"/><path d="M198.2,81.4L201.1,86.6L195.4,86.6Z"/><path d="M202.2,77.1L205.1,82.3L199.3,82.3Z"/><path d="M206.2,73.8L209.0,79.0L203.3,79.0Z"/><path d="M210.1,74.3L213.0,79.5L207.3,79.5Z"/><path d="M214.1,73.3L216.9,78.5L211.2,78.5Z"/><path d="M218.0,73.4L220.9,78.6L215.2,78.6Z"/><path d="M222.0,73.4L224.9,78.6L219.1,78.6Z"/><path d="M226.0,81.4L228.8,86.6L223.1,86.6Z"/><path d="M229.9,80.9L232.8,86.1L227.1,86.1Z"/><path d="M233.9,73.7L236.7,78.9L231.0,78.9Z"/><path d="M237.8,73.5L240.7,78.7L235.0,78.7Z"/><path d="M241.8,72.6L244.7,77.8L238.9,77.8Z"/><path d="M245.8,72.5L248.6,77.7L242.9,77.7Z"/><path d="M249.7,72.5L252.6,77.7L246.9,77.7Z"/><path d="M253.7,72.6L256.5,77.8L250.8,77.8Z"/><path d="M257.6,72.6L260.5,77.8L254.8,77.8Z"/><path d="M261.6,72.8L264.5,78.0L258.7,78.0Z"/><path d="M265.6,72.7L268.4,77.9L262.7,77.9Z"/><path d="M269.5,80.8L272.4,86.0L266.7,86.0Z"/><path d="M273.5,72.8L276.3,78.0L270.6,78.0Z"/><path d="M277.4,72.9L280.3,78.1L274.6,78.1Z"/><path d="M281.4,73.2L284.3,78.4L278.5,78.4Z"/><path d="M285.4,72.9L288.2,78.1L282.5,78.1Z"/><path d="M289.3,76.4L292.2,81.6L286.5,81.6Z"/><path d="M293.3,73.4L296.1,78.6L290.4,78.6Z"/><path d="M297.2,78.1L300.1,83.3L294.4,83.3Z"/><path d="M301.2,78.8L304.1,84.0L298.3,84.0Z"/><path d="M305.2,73.2L308.0,78.4L302.3,78.4Z"/><path d="M309.1,72.9L312.0,78.1L306.3,78.1Z"/><path d="M313.1,73.3L315.9,78.5L310.2,78.5Z"/><path d="M317.0,73.1L319.9,78.3L314.2,78.3Z"/><path d="M321.0,72.9L323.9,78.1L318.1,78.1Z"/><path d="M325.0,72.8L327.8,78.0L322.1,78.0Z"/><path d="M328.9,69.4L331.8,74.6L326.1,74.6Z"/><path d="M332.9,69.5L335.7,74.7L330.0,74.7Z"/><path d="M336.8,68.9L339.7,74.1L334.0,74.1Z"/><path d="M340.8,69.4L343.7,74.6L337.9,74.6Z"/><path d="M344.8,69.1L347.6,74.3L341.9,74.3Z"/><path d="M348.7,69.0L351.6,74.2L345.9,74.2Z"/><path d="M352.7,69.1L355.5,74.3L349.8,74.3Z"/><path d="M356.6,74.5L359.5,79.7L353.8,79.7Z"/><path d="M360.6,71.4L363.5,76.6L357.7,76.6Z"/><path d="M364.6,70.9L367.4,76.1L361.7,76.1Z"/><path d="M368.5,75.4L371.4,80.6L365.7,80.6Z"/><path d="M372.5,82.7L375.3,87.9L369.6,87.9Z"/><path d="M376.4,71.3L379.3,76.5L373.6,76.5Z"/><path d="M380.4,76.8L383.3,82.0L377.5,82.0Z"/><path d="M384.4,71.4L387.2,76.6L381.5,76.6Z"/><path d="M388.3,75.8L391.2,81.0L385.5,81.0Z"/><path d="M392.3,76.8L395.1,82.0L389.4,82.0Z"/><path d="M396.2,71.5L399.1,76.7L393.4,76.7Z"/><path d="M400.2,82.7L403.1,87.9L397.3,87.9Z"/><path d="M404.2,83.6L407.0,88.8L401.3,88.8Z"/><path d="M408.1,71.2L411.0,76.4L405.3,76.4Z"/><path d="M412.1,75.4L414.9,80.6L409.2,80.6Z"/></g>
<polyline points="67.6,72.4 71.5,72.6 75.5,72.5 79.4,72.7 83.4,72.7 87.4,72.3 91.3,72.3 95.3,72.8 99.2,72.5 103.2,72.4 107.2,72.9 111.1,76.8 115.1,77.0 119.0,76.8 123.0,76.9 127.0,76.6 130.9,76.9 134.9,77.0 138.8,76.8 142.8,76.9 146.8,76.9 150.7,76.5 154.7,77.0 158.6,76.9 162.6,76.7 166.6,76.5 170.5,77.0 174.5,76.8 178.4,76.9 182.4,77.0 186.4,76.9 190.3,77.1 194.3,76.7 198.2,73.8 202.2,73.6 206.2,73.9 210.1,73.8 214.1,73.4 218.0,73.4 222.0,73.4 226.0,73.9 229.9,73.6 233.9,73.7 237.8,73.5 241.8,72.6 245.8,72.5 249.7,72.5 253.7,72.7 257.6,72.7 261.6,72.8 265.6,72.7 269.5,72.9 273.5,72.8 277.4,72.9 281.4,75.4 285.4,75.1 289.3,75.5 293.3,75.6 297.2,75.5 301.2,75.3 305.2,75.4 309.1,75.1 313.1,75.5 317.0,75.3 321.0,75.2 325.0,75.0 328.9,69.4 332.9,69.5 336.8,69.0 340.8,69.4 344.8,69.1 348.7,69.0 352.7,69.1 356.6,69.4 360.6,71.4 364.6,70.9 368.5,71.3 372.5,70.9 376.4,71.3 380.4,71.1 384.4,71.4 388.3,71.5 392.3,71.2 396.2,71.5 400.2,71.1 404.2,70.9 408.1,71.3 412.1,70.9" fill="none" stroke="#40e4e4" stroke-width="0.8" stroke-linejoin="round"/>
<g fill="#14f0f0"><path d="M67.6,69.2L70.4,74.4L64.7,74.4Z"/><path d="M71.5,69.4L74.4,74.6L68.7,74.6Z"/><path d="M75.5,69.3L78.3,74.5L72.6,74.5Z"/><path d="M79.4,69.4L82.3,74.6L76.6,74.6Z"/><path d="M83.4,69.5L86.3,74.7L80.5,74.7Z"/><path d="M87.4,69.1L90.2,74.3L84.5,74.3Z"/><path d="M91.3,69.1L94.2,74.3L88.5,74.3Z"/><path d="M95.3,69.6L98.1,74.8L92.4,74.8Z"/><path d="M99.2,69.2L102.1,74.4L96.4,74.4Z"/><path d="M103.2,69.2L106.1,74.4L100.3,74.4Z"/><path d="M107.2,69.7L110.0,74.9L104.3,74.9Z"/><path d="M111.1,73.6L114.0,78.8L108.3,78.8Z"/><path d="M115.1,73.8L117.9,79.0L112.2,79.0Z"/><path d="M119.0,73.6L121.9,78.8L116.2,78.8Z"/><path d="M123.0,73.7L125.9,78.9L120.1,78.9Z"/><path d="M127.0,73.4L129.8,78.6L124.1,78.6Z"/><path d="M130.9,73.7L133.8,78.9L128.1,78.9Z"/><path d="M134.9,73.8L137.7,79.0L132.0,79.0Z"/><path d="M138.8,73.6L141.7,78.8L136.0,78.8Z"/><path d="M142.8,73.7L145.7,78.9L139.9,78.9Z"/><path d="M146.8,73.7L149.6,78.9L143.9,78.9Z"/><path d="M150.7,73.3L153.6,78.5L147.9,78.5Z"/><path d="M154.7,73.7L157.5,78.9L151.8,78.9Z"/><path d="M158.6,73.6L161.5,78.8L155.8,78.8Z"/><path d="M162.6,73.5L165.5,78.7L159.7,78.7Z"/><path d="M166.6,73.3L169.4,78.5L163.7,78.5Z"/><path d="M170.5,73.8L173.4,79.0L167.7,79.0Z"/><path d="M174.5,73.6L177.3,78.8L171.6,78.8Z"/><path d="M178.4,73.7L181.3,78.9L175.6,78.9Z"/><path d="M182.4,73.8L185.3,79.0L179.5,79.0Z"/><path d="M186.4,73.7L189.2,78.9L183.5,78.9Z"/><path d="M190.3,73.8L193.2,79.0L187.5,79.0Z"/><path d="M194.3,73.5L197.1,78.7L191.4,78.7Z"/><path d="M198.2,70.6L201.1,75.8L195.4,75.8Z"/><path d="M202.2,70.3L205.1,75.5L199.3,75.5Z"/><path d="M206.2,70.6L209.0,75.8L203.3,75.8Z"/><path d="M210.1,70.6L213.0,75.8L207.3,75.8Z"/><path d="M214.1,70.1L216.9,75.3L211.2,75.3Z"/><path d="M218.0,70.2L220.9,75.4L215.2,75.4Z"/><path d="M222.0,70.2L224.9,75.4L219.1,75.4Z"/><path d="M226.0,70.7L228.8,75.9L223.1,75.9Z"/><path d="M229.9,70.3L232.8,75.5L227.1,75.5Z"/><path d="M233.9,70.5L236.7,75.7L231.0,75.7Z"/><path d="M237.8,70.3L240.7,75.5L235.0,75.5Z"/><path d="M241.8,69.4L244.7,74.6L238.9,74.6Z"/><path d="M245.8,69.3L248.6,74.5L242.9,74.5Z"/><path d="M249.7,69.3L252.6,74.5L246.9,74.5Z"/><path d="M253.7,69.4L256.5,74.6L250.8,74.6Z"/><path d="M257.6,69.4L260.5,74.6L254.8,74.6Z"/><path d="M261.6,69.6L264.5,74.8L258.7,74.8Z"/><path d="M265.6,69.5L268.4,74.7L262.7,74.7Z"/><path d="M269.5,69.6L272.4,74.8L266.7,74.8Z"/><path d="M273.5,69.6L276.3,74.8L270.6,74.8Z"/><path d="M277.4,69.7L280.3,74.9L274.6,74.9Z"/><path d="M281.4,72.2L284.3,77.4L278.5,77.4Z"/><path d="M285.4,71.9L288.2,77.1L282.5,77.1Z"/><path d="M289.3,72.3L292.2,77.5L286.5,77.5Z"/><path d="M293.3,72.4L296.1,77.6L290.4,77.6Z"/><path d="M297.2,72.3L300.1,77.5L294.4,77.5Z"/><path d="M301.2,72.1L304.1,77.3L298.3,77.3Z"/><path d="M305.2,72.2L308.0,77.4L302.3,77.4Z"/><path d="M309.1,71.9L312.0,77.1L306.3,77.1Z"/><path d="M313.1,72.3L315.9,77.5L310.2,77.5Z"/><path d="M317.0,72.1L319.9,77.3L314.2,77.3Z"/><path d="M321.0,71.9L323.9,77.1L318.1,77.1Z"/><path d="M325.0,71.8L327.8,77.0L322.1,77.0Z"/><path d="M328.9,66.2L331.8,71.4L326.1,71.4Z"/><path d="M332.9,66.3L335.7,71.5L330.0,71.5Z"/><path d="M336.8,65.7L339.7,70.9L334.0,70.9Z"/><path d="M340.8,66.2L343.7,71.4L337.9,71.4Z"/><path d="M344.8,65.9L347.6,71.1L341.9,71.1Z"/><path d="M348.7,65.8L351.6,71.0L345.9,71.0Z"/><path d="M352.7,65.9L355.5,71.1L349.8,71.1Z"/><path d="M356.6,66.1L359.5,71.3L353.8,71.3Z"/><path d="M360.6,68.2L363.5,73.4L357.7,73.4Z"/><path d="M364.6,67.7L367.4,72.9L361.7,72.9Z"/><path d="M368.5,68.0L371.4,73.2L365.7,73.2Z"/><path d="M372.5,67.7L375.3,72.9L369.6,72.9Z"/><path d="M376.4,68.1L379.3,73.3L373.6,73.3Z"/><path d="M380.4,67.9L383.3,73.1L377.5,73.1Z"/><path d="M384.4,68.2L387.2,73.4L381.5,73.4Z"/><path d="M388.3,68.3L391.2,73.5L385.5,73.5Z"/><path d="M392.3,68.0L395.1,73.2L389.4,73.2Z"/><path d="M396.2,68.3L399.1,73.5L393.4,73.5Z"/><path d="M400.2,67.9L403.1,73.1L397.3,73.1Z"/><path d="M404.2,67.7L407.0,72.9L401.3,72.9Z"/><path d="M408.1,68.0L411.0,73.2L405.3,73.2Z"/><path d="M412.1,67.7L414.9,72.9L409.2,72.9Z"/></g>
<polyline points="67.6,30.6 71.5,29.9 75.5,31.3 79.4,29.9 83.4,29.2 87.4,30.6 91.3,30.6 95.3,29.9 99.2,31.3 103.2,30.6 107.2,29.2 111.1,30.6 115.1,29.7 119.0,32.8 123.0,33.5 127.0,29.9 130.9,32.1 134.9,60.2 138.8,53.6 142.8,63.4 146.8,61.0 150.7,53.6 154.7,53.6 158.6,56.9 162.6,54.4 166.6,52.8 170.5,50.3 174.5,55.3 178.4,47.9 182.4,51.2 186.4,52.0 190.3,47.9 194.3,43.8 198.2,49.5 202.2,46.2 206.2,47.9 210.1,43.8 214.1,43.8 218.0,46.2 222.0,34.0 226.0,29.1 229.9,30.8 233.9,28.3 237.8,27.5 241.8,29.1 245.8,29.1 249.7,33.2 253.7,30.8 257.6,28.3 261.6,32.4 265.6,32.4 269.5,29.1 273.5,28.3 277.4,26.7 281.4,25.9 285.4,26.7 289.3,27.5 293.3,29.9 297.2,27.5 301.2,25.7 305.2,29.8 309.1,36.3 313.1,35.5 317.0,37.2 321.0,38.0 325.0,34.7 328.9,33.1 332.9,33.9 336.8,38.8 340.8,33.1 344.8,32.2 348.7,36.7 352.7,23.8 356.6,22.3 360.6,22.3 364.6,25.4 368.5,24.7 372.5,24.0 376.4,24.7 380.4,24.0 384.4,24.0 388.3,23.2 392.3,25.4 396.2,28.4 400.2,28.4 404.2,28.4 408.1,28.4 412.1,27.7" fill="none" stroke="#2a2aa0" stroke-width="0.8" stroke-linejoin="round"/>
<g fill="#0a0adc"><circle cx="67.6" cy="30.6" r="2.60"/><circle cx="71.5" cy="29.9" r="2.60"/><circle cx="75.5" cy="31.3" r="2.60"/><circle cx="79.4" cy="29.9" r="2.60"/><circle cx="83.4" cy="29.2" r="2.60"/><circle cx="87.4" cy="30.6" r="2.60"/><circle cx="91.3" cy="30.6" r="2.60"/><circle cx="95.3" cy="29.9" r="2.60"/><circle cx="99.2" cy="31.3" r="2.60"/><circle cx="103.2" cy="30.6" r="2.60"/><circle cx="107.2" cy="29.2" r="2.60"/><circle cx="111.1" cy="30.6" r="2.60"/><circle cx="115.1" cy="29.7" r="2.60"/><circle cx="119.0" cy="32.8" r="2.60"/><circle cx="123.0" cy="33.5" r="2.60"/><circle cx="127.0" cy="29.9" r="2.60"/><circle cx="130.9" cy="32.1" r="2.60"/><circle cx="134.9" cy="60.2" r="2.60"/><circle cx="138.8" cy="53.6" r="2.60"/><circle cx="142.8" cy="63.4" r="2.60"/><circle cx="146.8" cy="61.0" r="2.60"/><circle cx="150.7" cy="53.6" r="2.60"/><circle cx="154.7" cy="53.6" r="2.60"/><circle cx="158.6" cy="56.9" r="2.60"/><circle cx="162.6" cy="54.4" r="2.60"/><circle cx="166.6" cy="52.8" r="2.60"/><circle cx="170.5" cy="50.3" r="2.60"/><circle cx="174.5" cy="55.3" r="2.60"/><circle cx="178.4" cy="47.9" r="2.60"/><circle cx="182.4" cy="51.2" r="2.60"/><circle cx="186.4" cy="52.0" r="2.60"/><circle cx="190.3" cy="47.9" r="2.60"/><circle cx="194.3" cy="43.8" r="2.60"/><circle cx="198.2" cy="49.5" r="2.60"/><circle cx="202.2" cy="46.2" r="2.60"/><circle cx="206.2" cy="47.9" r="2.60"/><circle cx="210.1" cy="43.8" r="2.60"/><circle cx="214.1" cy="43.8" r="2.60"/><circle cx="218.0" cy="46.2" r="2.60"/><circle cx="222.0" cy="34.0" r="2.60"/><circle cx="226.0" cy="29.1" r="2.60"/><circle cx="229.9" cy="30.8" r="2.60"/><circle cx="233.9" cy="28.3" r="2.60"/><circle cx="237.8" cy="27.5" r="2.60"/><circle cx="241.8" cy="29.1" r="2.60"/><circle cx="245.8" cy="29.1" r="2.60"/><circle cx="249.7" cy="33.2" r="2.60"/><circle cx="253.7" cy="30.8" r="2.60"/><circle cx="257.6" cy="28.3" r="2.60"/><circle cx="261.6" cy="32.4" r="2.60"/><circle cx="265.6" cy="32.4" r="2.60"/><circle cx="269.5" cy="29.1" r="2.60"/><circle cx="273.5" cy="28.3" r="2.60"/><circle cx="277.4" cy="26.7" r="2.60"/><circle cx="281.4" cy="25.9" r="2.60"/><circle cx="285.4" cy="26.7" r="2.60"/><circle cx="289.3" cy="27.5" r="2.60"/><circle cx="293.3" cy="29.9" r="2.60"/><circle cx="297.2" cy="27.5" r="2.60"/><circle cx="301.2" cy="25.7" r="2.60"/><circle cx="305.2" cy="29.8" r="2.60"/><circle cx="309.1" cy="36.3" r="2.60"/><circle cx="313.1" cy="35.5" r="2.60"/><circle cx="317.0" cy="37.2" r="2.60"/><circle cx="321.0" cy="38.0" r="2.60"/><circle cx="325.0" cy="34.7" r="2.60"/><circle cx="328.9" cy="33.1" r="2.60"/><circle cx="332.9" cy="33.9" r="2.60"/><circle cx="336.8" cy="38.8" r="2.60"/><circle cx="340.8" cy="33.1" r="2.60"/><circle cx="344.8" cy="32.2" r="2.60"/><circle cx="348.7" cy="36.7" r="2.60"/><circle cx="352.7" cy="23.8" r="2.60"/><circle cx="356.6" cy="22.3" r="2.60"/><circle cx="360.6" cy="22.3" r="2.60"/><circle cx="364.6" cy="25.4" r="2.60"/><circle cx="368.5" cy="24.7" r="2.60"/><circle cx="372.5" cy="24.0" r="2.60"/><circle cx="376.4" cy="24.7" r="2.60"/><circle cx="380.4" cy="24.0" r="2.60"/><circle cx="384.4" cy="24.0" r="2.60"/><circle cx="388.3" cy="23.2" r="2.60"/><circle cx="392.3" cy="25.4" r="2.60"/><circle cx="396.2" cy="28.4" r="2.60"/><circle cx="400.2" cy="28.4" r="2.60"/><circle cx="404.2" cy="28.4" r="2.60"/><circle cx="408.1" cy="28.4" r="2.60"/><circle cx="412.1" cy="27.7" r="2.60"/></g>
<polyline points="67.6,36.3 71.5,35.6 75.5,38.5 79.4,35.6 83.4,34.8 87.4,37.0 91.3,36.3 95.3,36.3 99.2,38.5 103.2,35.6 107.2,35.6 111.1,37.0 115.1,36.3 119.0,37.0 123.0,37.0 127.0,34.8 130.9,37.0 134.9,65.4 138.8,58.9 142.8,67.9 146.8,65.4 150.7,58.9 154.7,58.1 158.6,62.2 162.6,58.9 166.6,57.3 170.5,56.4 174.5,60.7 178.4,53.3 182.4,56.6 186.4,58.3 190.3,54.2 194.3,50.9 198.2,55.8 202.2,51.7 206.2,53.3 210.1,50.1 214.1,50.9 218.0,53.3 222.0,40.2 226.0,35.3 229.9,37.0 233.9,34.5 237.8,33.7 241.8,35.3 245.8,35.3 249.7,39.4 253.7,37.0 257.6,34.5 261.6,38.6 265.6,38.6 269.5,35.3 273.5,34.5 277.4,32.9 281.4,32.1 285.4,32.9 289.3,33.7 293.3,36.1 297.2,33.7 301.2,31.6 305.2,36.5 309.1,42.2 313.1,41.4 317.0,43.0 321.0,43.8 325.0,40.6 328.9,38.9 332.9,40.6 336.8,44.6 340.8,38.9 344.8,37.3 348.7,42.5 352.7,28.9 356.6,28.9 360.6,28.9 364.6,29.6 368.5,30.4 372.5,29.6 376.4,30.4 380.4,29.6 384.4,29.6 388.3,28.9 392.3,29.6 396.2,32.6 400.2,32.6 404.2,32.6 408.1,32.6 412.1,31.9" fill="none" stroke="#e0a880" stroke-width="0.8" stroke-linejoin="round"/>
<g fill="#d2691e"><circle cx="67.6" cy="36.3" r="2.60"/><circle cx="71.5" cy="35.6" r="2.60"/><circle cx="75.5" cy="38.5" r="2.60"/><circle cx="79.4" cy="35.6" r="2.60"/><circle cx="83.4" cy="34.8" r="2.60"/><circle cx="87.4" cy="37.0" r="2.60"/><circle cx="91.3" cy="36.3" r="2.60"/><circle cx="95.3" cy="36.3" r="2.60"/><circle cx="99.2" cy="38.5" r="2.60"/><circle cx="103.2" cy="35.6" r="2.60"/><circle cx="107.2" cy="35.6" r="2.60"/><circle cx="111.1" cy="37.0" r="2.60"/><circle cx="115.1" cy="36.3" r="2.60"/><circle cx="119.0" cy="37.0" r="2.60"/><circle cx="123.0" cy="37.0" r="2.60"/><circle cx="127.0" cy="34.8" r="2.60"/><circle cx="130.9" cy="37.0" r="2.60"/><circle cx="134.9" cy="65.4" r="2.60"/><circle cx="138.8" cy="58.9" r="2.60"/><circle cx="142.8" cy="67.9" r="2.60"/><circle cx="146.8" cy="65.4" r="2.60"/><circle cx="150.7" cy="58.9" r="2.60"/><circle cx="154.7" cy="58.1" r="2.60"/><circle cx="158.6" cy="62.2" r="2.60"/><circle cx="162.6" cy="58.9" r="2.60"/><circle cx="166.6" cy="57.3" r="2.60"/><circle cx="170.5" cy="56.4" r="2.60"/><circle cx="174.5" cy="60.7" r="2.60"/><circle cx="178.4" cy="53.3" r="2.60"/><circle cx="182.4" cy="56.6" r="2.60"/><circle cx="186.4" cy="58.3" r="2.60"/><circle cx="190.3" cy="54.2" r="2.60"/><circle cx="194.3" cy="50.9" r="2.60"/><circle cx="198.2" cy="55.8" r="2.60"/><circle cx="202.2" cy="51.7" r="2.60"/><circle cx="206.2" cy="53.3" r="2.60"/><circle cx="210.1" cy="50.1" r="2.60"/><circle cx="214.1" cy="50.9" r="2.60"/><circle cx="218.0" cy="53.3" r="2.60"/><circle cx="222.0" cy="40.2" r="2.60"/><circle cx="226.0" cy="35.3" r="2.60"/><circle cx="229.9" cy="37.0" r="2.60"/><circle cx="233.9" cy="34.5" r="2.60"/><circle cx="237.8" cy="33.7" r="2.60"/><circle cx="241.8" cy="35.3" r="2.60"/><circle cx="245.8" cy="35.3" r="2.60"/><circle cx="249.7" cy="39.4" r="2.60"/><circle cx="253.7" cy="37.0" r="2.60"/><circle cx="257.6" cy="34.5" r="2.60"/><circle cx="261.6" cy="38.6" r="2.60"/><circle cx="265.6" cy="38.6" r="2.60"/><circle cx="269.5" cy="35.3" r="2.60"/><circle cx="273.5" cy="34.5" r="2.60"/><circle cx="277.4" cy="32.9" r="2.60"/><circle cx="281.4" cy="32.1" r="2.60"/><circle cx="285.4" cy="32.9" r="2.60"/><circle cx="289.3" cy="33.7" r="2.60"/><circle cx="293.3" cy="36.1" r="2.60"/><circle cx="297.2" cy="33.7" r="2.60"/><circle cx="301.2" cy="31.6" r="2.60"/><circle cx="305.2" cy="36.5" r="2.60"/><circle cx="309.1" cy="42.2" r="2.60"/><circle cx="313.1" cy="41.4" r="2.60"/><circle cx="317.0" cy="43.0" r="2.60"/><circle cx="321.0" cy="43.8" r="2.60"/><circle cx="325.0" cy="40.6" r="2.60"/><circle cx="328.9" cy="38.9" r="2.60"/><circle cx="332.9" cy="40.6" r="2.60"/><circle cx="336.8" cy="44.6" r="2.60"/><circle cx="340.8" cy="38.9" r="2.60"/><circle cx="344.8" cy="37.3" r="2.60"/><circle cx="348.7" cy="42.5" r="2.60"/><circle cx="352.7" cy="28.9" r="2.60"/><circle cx="356.6" cy="28.9" r="2.60"/><circle cx="360.6" cy="28.9" r="2.60"/><circle cx="364.6" cy="29.6" r="2.60"/><circle cx="368.5" cy="30.4" r="2.60"/><circle cx="372.5" cy="29.6" r="2.60"/><circle cx="376.4" cy="30.4" r="2.60"/><circle cx="380.4" cy="29.6" r="2.60"/><circle cx="384.4" cy="29.6" r="2.60"/><circle cx="388.3" cy="28.9" r="2.60"/><circle cx="392.3" cy="29.6" r="2.60"/><circle cx="396.2" cy="32.6" r="2.60"/><circle cx="400.2" cy="32.6" r="2.60"/><circle cx="404.2" cy="32.6" r="2.60"/><circle cx="408.1" cy="32.6" r="2.60"/><circle cx="412.1" cy="31.9" r="2.60"/></g>
<polyline points="67.6,29.4 71.5,28.7 75.5,30.1 79.4,28.7 83.4,28.0 87.4,29.4 91.3,29.4 95.3,28.7 99.2,30.1 103.2,29.4 107.2,28.0 111.1,29.4 115.1,29.4 119.0,31.6 123.0,32.3 127.0,28.7 130.9,30.9 134.9,59.0 138.8,52.4 142.8,62.2 146.8,59.8 150.7,52.4 154.7,52.4 158.6,55.7 162.6,53.2 166.6,51.6 170.5,50.0 174.5,54.1 178.4,46.7 182.4,50.0 186.4,50.8 190.3,46.7 194.3,42.6 198.2,48.3 202.2,45.0 206.2,46.7 210.1,42.6 214.1,42.6 218.0,45.0 222.0,32.8 226.0,27.9 229.9,29.6 233.9,27.1 237.8,26.3 241.8,27.9 245.8,27.9 249.7,32.0 253.7,29.6 257.6,27.1 261.6,31.2 265.6,31.2 269.5,27.9 273.5,27.1 277.4,25.5 281.4,24.7 285.4,25.5 289.3,26.3 293.3,28.7 297.2,26.3 301.2,24.5 305.2,28.6 309.1,35.1 313.1,34.3 317.0,36.0 321.0,36.8 325.0,33.5 328.9,31.9 332.9,32.7 336.8,37.6 340.8,31.9 344.8,31.0 348.7,35.5 352.7,23.5 356.6,22.0 360.6,22.0 364.6,24.2 368.5,23.5 372.5,22.8 376.4,23.5 380.4,22.8 384.4,22.8 388.3,22.0 392.3,24.2 396.2,27.8 400.2,27.8 404.2,27.8 408.1,27.8 412.1,27.1" fill="none" stroke="#40bc5c" stroke-width="0.8" stroke-linejoin="round"/>
<g fill="#00a01e"><circle cx="67.6" cy="29.4" r="2.60"/><circle cx="71.5" cy="28.7" r="2.60"/><circle cx="75.5" cy="30.1" r="2.60"/><circle cx="79.4" cy="28.7" r="2.60"/><circle cx="83.4" cy="28.0" r="2.60"/><circle cx="87.4" cy="29.4" r="2.60"/><circle cx="91.3" cy="29.4" r="2.60"/><circle cx="95.3" cy="28.7" r="2.60"/><circle cx="99.2" cy="30.1" r="2.60"/><circle cx="103.2" cy="29.4" r="2.60"/><circle cx="107.2" cy="28.0" r="2.60"/><circle cx="111.1" cy="29.4" r="2.60"/><circle cx="115.1" cy="29.4" r="2.60"/><circle cx="119.0" cy="31.6" r="2.60"/><circle cx="123.0" cy="32.3" r="2.60"/><circle cx="127.0" cy="28.7" r="2.60"/><circle cx="130.9" cy="30.9" r="2.60"/><circle cx="134.9" cy="59.0" r="2.60"/><circle cx="138.8" cy="52.4" r="2.60"/><circle cx="142.8" cy="62.2" r="2.60"/><circle cx="146.8" cy="59.8" r="2.60"/><circle cx="150.7" cy="52.4" r="2.60"/><circle cx="154.7" cy="52.4" r="2.60"/><circle cx="158.6" cy="55.7" r="2.60"/><circle cx="162.6" cy="53.2" r="2.60"/><circle cx="166.6" cy="51.6" r="2.60"/><circle cx="170.5" cy="50.0" r="2.60"/><circle cx="174.5" cy="54.1" r="2.60"/><circle cx="178.4" cy="46.7" r="2.60"/><circle cx="182.4" cy="50.0" r="2.60"/><circle cx="186.4" cy="50.8" r="2.60"/><circle cx="190.3" cy="46.7" r="2.60"/><circle cx="194.3" cy="42.6" r="2.60"/><circle cx="198.2" cy="48.3" r="2.60"/><circle cx="202.2" cy="45.0" r="2.60"/><circle cx="206.2" cy="46.7" r="2.60"/><circle cx="210.1" cy="42.6" r="2.60"/><circle cx="214.1" cy="42.6" r="2.60"/><circle cx="218.0" cy="45.0" r="2.60"/><circle cx="222.0" cy="32.8" r="2.60"/><circle cx="226.0" cy="27.9" r="2.60"/><circle cx="229.9" cy="29.6" r="2.60"/><circle cx="233.9" cy="27.1" r="2.60"/><circle cx="237.8" cy="26.3" r="2.60"/><circle cx="241.8" cy="27.9" r="2.60"/><circle cx="245.8" cy="27.9" r="2.60"/><circle cx="249.7" cy="32.0" r="2.60"/><circle cx="253.7" cy="29.6" r="2.60"/><circle cx="257.6" cy="27.1" r="2.60"/><circle cx="261.6" cy="31.2" r="2.60"/><circle cx="265.6" cy="31.2" r="2.60"/><circle cx="269.5" cy="27.9" r="2.60"/><circle cx="273.5" cy="27.1" r="2.60"/><circle cx="277.4" cy="25.5" r="2.60"/><circle cx="281.4" cy="24.7" r="2.60"/><circle cx="285.4" cy="25.5" r="2.60"/><circle cx="289.3" cy="26.3" r="2.60"/><circle cx="293.3" cy="28.7" r="2.60"/><circle cx="297.2" cy="26.3" r="2.60"/><circle cx="301.2" cy="24.5" r="2.60"/><circle cx="305.2" cy="28.6" r="2.60"/><circle cx="309.1" cy="35.1" r="2.60"/><circle cx="313.1" cy="34.3" r="2.60"/><circle cx="317.0" cy="36.0" r="2.60"/><circle cx="321.0" cy="36.8" r="2.60"/><circle cx="325.0" cy="33.5" r="2.60"/><circle cx="328.9" cy="31.9" r="2.60"/><circle cx="332.9" cy="32.7" r="2.60"/><circle cx="336.8" cy="37.6" r="2.60"/><circle cx="340.8" cy="31.9" r="2.60"/><circle cx="344.8" cy="31.0" r="2.60"/><circle cx="348.7" cy="35.5" r="2.60"/><circle cx="352.7" cy="23.5" r="2.60"/><circle cx="356.6" cy="22.0" r="2.60"/><circle cx="360.6" cy="22.0" r="2.60"/><circle cx="364.6" cy="24.2" r="2.60"/><circle cx="368.5" cy="23.5" r="2.60"/><circle cx="372.5" cy="22.8" r="2.60"/><circle cx="376.4" cy="23.5" r="2.60"/><circle cx="380.4" cy="22.8" r="2.60"/><circle cx="384.4" cy="22.8" r="2.60"/><circle cx="388.3" cy="22.0" r="2.60"/><circle cx="392.3" cy="24.2" r="2.60"/><circle cx="396.2" cy="27.8" r="2.60"/><circle cx="400.2" cy="27.8" r="2.60"/><circle cx="404.2" cy="27.8" r="2.60"/><circle cx="408.1" cy="27.8" r="2.60"/><circle cx="412.1" cy="27.1" r="2.60"/></g>
<polyline points="67.6,32.9 71.5,32.2 75.5,35.1 79.4,32.2 83.4,31.5 87.4,32.9 91.3,32.9 95.3,32.2 99.2,34.4 103.2,32.9 107.2,31.5 111.1,32.9 115.1,32.9 119.0,34.4 123.0,35.1 127.0,32.2 130.9,33.6 134.9,62.8 138.8,56.3 142.8,65.3 146.8,62.8 150.7,56.3 154.7,55.5 158.6,59.6 162.6,56.3 166.6,54.7 170.5,53.8 174.5,57.1 178.4,49.7 182.4,53.0 186.4,54.7 190.3,50.6 194.3,47.3 198.2,52.2 202.2,48.1 206.2,49.7 210.1,46.5 214.1,47.3 218.0,49.7 222.0,35.7 226.0,30.8 229.9,32.5 233.9,30.0 237.8,29.2 241.8,30.8 245.8,30.8 249.7,34.9 253.7,32.5 257.6,30.0 261.6,34.1 265.6,34.1 269.5,30.8 273.5,30.0 277.4,28.4 281.4,27.6 285.4,28.4 289.3,29.2 293.3,31.6 297.2,29.2 301.2,27.6 305.2,32.5 309.1,38.2 313.1,37.4 317.0,39.0 321.0,39.8 325.0,36.6 328.9,34.9 332.9,36.6 336.8,40.6 340.8,34.9 344.8,33.3 348.7,38.5 352.7,26.3 356.6,26.3 360.6,26.3 364.6,27.0 368.5,27.7 372.5,27.0 376.4,27.7 380.4,27.0 384.4,27.0 388.3,26.3 392.3,27.0 396.2,30.0 400.2,30.0 404.2,30.0 408.1,30.0 412.1,29.3" fill="none" stroke="#e6969e" stroke-width="0.8" stroke-linejoin="round"/>
<g fill="#f01e1e"><circle cx="67.6" cy="32.9" r="2.60"/><circle cx="71.5" cy="32.2" r="2.60"/><circle cx="75.5" cy="35.1" r="2.60"/><circle cx="79.4" cy="32.2" r="2.60"/><circle cx="83.4" cy="31.5" r="2.60"/><circle cx="87.4" cy="32.9" r="2.60"/><circle cx="91.3" cy="32.9" r="2.60"/><circle cx="95.3" cy="32.2" r="2.60"/><circle cx="99.2" cy="34.4" r="2.60"/><circle cx="103.2" cy="32.9" r="2.60"/><circle cx="107.2" cy="31.5" r="2.60"/><circle cx="111.1" cy="32.9" r="2.60"/><circle cx="115.1" cy="32.9" r="2.60"/><circle cx="119.0" cy="34.4" r="2.60"/><circle cx="123.0" cy="35.1" r="2.60"/><circle cx="127.0" cy="32.2" r="2.60"/><circle cx="130.9" cy="33.6" r="2.60"/><circle cx="134.9" cy="62.8" r="2.60"/><circle cx="138.8" cy="56.3" r="2.60"/><circle cx="142.8" cy="65.3" r="2.60"/><circle cx="146.8" cy="62.8" r="2.60"/><circle cx="150.7" cy="56.3" r="2.60"/><circle cx="154.7" cy="55.5" r="2.60"/><circle cx="158.6" cy="59.6" r="2.60"/><circle cx="162.6" cy="56.3" r="2.60"/><circle cx="166.6" cy="54.7" r="2.60"/><circle cx="170.5" cy="53.8" r="2.60"/><circle cx="174.5" cy="57.1" r="2.60"/><circle cx="178.4" cy="49.7" r="2.60"/><circle cx="182.4" cy="53.0" r="2.60"/><circle cx="186.4" cy="54.7" r="2.60"/><circle cx="190.3" cy="50.6" r="2.60"/><circle cx="194.3" cy="47.3" r="2.60"/><circle cx="198.2" cy="52.2" r="2.60"/><circle cx="202.2" cy="48.1" r="2.60"/><circle cx="206.2" cy="49.7" r="2.60"/><circle cx="210.1" cy="46.5" r="2.60"/><circle cx="214.1" cy="47.3" r="2.60"/><circle cx="218.0" cy="49.7" r="2.60"/><circle cx="222.0" cy="35.7" r="2.60"/><circle cx="226.0" cy="30.8" r="2.60"/><circle cx="229.9" cy="32.5" r="2.60"/><circle cx="233.9" cy="30.0" r="2.60"/><circle cx="237.8" cy="29.2" r="2.60"/><circle cx="241.8" cy="30.8" r="2.60"/><circle cx="245.8" cy="30.8" r="2.60"/><circle cx="249.7" cy="34.9" r="2.60"/><circle cx="253.7" cy="32.5" r="2.60"/><circle cx="257.6" cy="30.0" r="2.60"/><circle cx="261.6" cy="34.1" r="2.60"/><circle cx="265.6" cy="34.1" r="2.60"/><circle cx="269.5" cy="30.8" r="2.60"/><circle cx="273.5" cy="30.0" r="2.60"/><circle cx="277.4" cy="28.4" r="2.60"/><circle cx="281.4" cy="27.6" r="2.60"/><circle cx="285.4" cy="28.4" r="2.60"/><circle cx="289.3" cy="29.2" r="2.60"/><circle cx="293.3" cy="31.6" r="2.60"/><circle cx="297.2" cy="29.2" r="2.60"/><circle cx="301.2" cy="27.6" r="2.60"/><circle cx="305.2" cy="32.5" r="2.60"/><circle cx="309.1" cy="38.2" r="2.60"/><circle cx="313.1" cy="37.4" r="2.60"/><circle cx="317.0" cy="39.0" r="2.60"/><circle cx="321.0" cy="39.8" r="2.60"/><circle cx="325.0" cy="36.6" r="2.60"/><circle cx="328.9" cy="34.9" r="2.60"/><circle cx="332.9" cy="36.6" r="2.60"/><circle cx="336.8" cy="40.6" r="2.60"/><circle cx="340.8" cy="34.9" r="2.60"/><circle cx="344.8" cy="33.3" r="2.60"/><circle cx="348.7" cy="38.5" r="2.60"/><circle cx="352.7" cy="26.3" r="2.60"/><circle cx="356.6" cy="26.3" r="2.60"/><circle cx="360.6" cy="26.3" r="2.60"/><circle cx="364.6" cy="27.0" r="2.60"/><circle cx="368.5" cy="27.7" r="2.60"/><circle cx="372.5" cy="27.0" r="2.60"/><circle cx="376.4" cy="27.7" r="2.60"/><circle cx="380.4" cy="27.0" r="2.60"/><circle cx="384.4" cy="27.0" r="2.60"/><circle cx="388.3" cy="26.3" r="2.60"/><circle cx="392.3" cy="27.0" r="2.60"/><circle cx="396.2" cy="30.0" r="2.60"/><circle cx="400.2" cy="30.0" r="2.60"/><circle cx="404.2" cy="30.0" r="2.60"/><circle cx="408.1" cy="30.0" r="2.60"/><circle cx="412.1" cy="29.3" r="2.60"/></g>
<polyline points="67.6,32.6 71.5,31.9 75.5,34.8 79.4,31.9 83.4,31.2 87.4,32.6 91.3,32.6 95.3,31.9 99.2,34.1 103.2,32.6 107.2,31.2 111.1,32.6 115.1,32.6 119.0,34.1 123.0,34.8 127.0,31.9 130.9,33.3 134.9,62.5 138.8,56.0 142.8,65.0 146.8,62.5 150.7,56.0 154.7,55.2 158.6,59.3 162.6,56.0 166.6,54.4 170.5,53.5 174.5,56.8 178.4,49.4 182.4,52.7 186.4,54.4 190.3,50.3 194.3,47.0 198.2,51.9 202.2,47.8 206.2,49.4 210.1,46.2 214.1,47.0 218.0,49.4 222.0,35.4 226.0,30.5 229.9,32.2 233.9,29.7 237.8,28.9 241.8,30.5 245.8,30.5 249.7,34.6 253.7,32.2 257.6,29.7 261.6,33.8 265.6,33.8 269.5,30.5 273.5,29.7 277.4,28.1 281.4,27.3 285.4,28.1 289.3,28.9 293.3,31.3 297.2,28.9 301.2,27.3 305.2,32.2 309.1,37.9 313.1,37.1 317.0,38.7 321.0,39.5 325.0,36.3 328.9,34.6 332.9,36.3 336.8,40.3 340.8,34.6 344.8,33.0 348.7,38.2 352.7,26.0 356.6,26.0 360.6,26.0 364.6,26.7 368.5,27.4 372.5,26.7 376.4,27.4 380.4,26.7 384.4,26.7 388.3,26.0 392.3,26.7 396.2,29.5 400.2,29.5 404.2,29.5 408.1,29.5 412.1,28.8" fill="none" stroke="#9c92cc" stroke-width="0.8" stroke-linejoin="round"/>
<g fill="#6a5acd"><circle cx="67.6" cy="32.6" r="2.60"/><circle cx="71.5" cy="31.9" r="2.60"/><circle cx="75.5" cy="34.8" r="2.60"/><circle cx="79.4" cy="31.9" r="2.60"/><circle cx="83.4" cy="31.2" r="2.60"/><circle cx="87.4" cy="32.6" r="2.60"/><circle cx="91.3" cy="32.6" r="2.60"/><circle cx="95.3" cy="31.9" r="2.60"/><circle cx="99.2" cy="34.1" r="2.60"/><circle cx="103.2" cy="32.6" r="2.60"/><circle cx="107.2" cy="31.2" r="2.60"/><circle cx="111.1" cy="32.6" r="2.60"/><circle cx="115.1" cy="32.6" r="2.60"/><circle cx="119.0" cy="34.1" r="2.60"/><circle cx="123.0" cy="34.8" r="2.60"/><circle cx="127.0" cy="31.9" r="2.60"/><circle cx="130.9" cy="33.3" r="2.60"/><circle cx="134.9" cy="62.5" r="2.60"/><circle cx="138.8" cy="56.0" r="2.60"/><circle cx="142.8" cy="65.0" r="2.60"/><circle cx="146.8" cy="62.5" r="2.60"/><circle cx="150.7" cy="56.0" r="2.60"/><circle cx="154.7" cy="55.2" r="2.60"/><circle cx="158.6" cy="59.3" r="2.60"/><circle cx="162.6" cy="56.0" r="2.60"/><circle cx="166.6" cy="54.4" r="2.60"/><circle cx="170.5" cy="53.5" r="2.60"/><circle cx="174.5" cy="56.8" r="2.60"/><circle cx="178.4" cy="49.4" r="2.60"/><circle cx="182.4" cy="52.7" r="2.60"/><circle cx="186.4" cy="54.4" r="2.60"/><circle cx="190.3" cy="50.3" r="2.60"/><circle cx="194.3" cy="47.0" r="2.60"/><circle cx="198.2" cy="51.9" r="2.60"/><circle cx="202.2" cy="47.8" r="2.60"/><circle cx="206.2" cy="49.4" r="2.60"/><circle cx="210.1" cy="46.2" r="2.60"/><circle cx="214.1" cy="47.0" r="2.60"/><circle cx="218.0" cy="49.4" r="2.60"/><circle cx="222.0" cy="35.4" r="2.60"/><circle cx="226.0" cy="30.5" r="2.60"/><circle cx="229.9" cy="32.2" r="2.60"/><circle cx="233.9" cy="29.7" r="2.60"/><circle cx="237.8" cy="28.9" r="2.60"/><circle cx="241.8" cy="30.5" r="2.60"/><circle cx="245.8" cy="30.5" r="2.60"/><circle cx="249.7" cy="34.6" r="2.60"/><circle cx="253.7" cy="32.2" r="2.60"/><circle cx="257.6" cy="29.7" r="2.60"/><circle cx="261.6" cy="33.8" r="2.60"/><circle cx="265.6" cy="33.8" r="2.60"/><circle cx="269.5" cy="30.5" r="2.60"/><circle cx="273.5" cy="29.7" r="2.60"/><circle cx="277.4" cy="28.1" r="2.60"/><circle cx="281.4" cy="27.3" r="2.60"/><circle cx="285.4" cy="28.1" r="2.60"/><circle cx="289.3" cy="28.9" r="2.60"/><circle cx="293.3" cy="31.3" r="2.60"/><circle cx="297.2" cy="28.9" r="2.60"/><circle cx="301.2" cy="27.3" r="2.60"/><circle cx="305.2" cy="32.2" r="2.60"/><circle cx="309.1" cy="37.9" r="2.60"/><circle cx="313.1" cy="37.1" r="2.60"/><circle cx="317.0" cy="38.7" r="2.60"/><circle cx="321.0" cy="39.5" r="2.60"/><circle cx="325.0" cy="36.3" r="2.60"/><circle cx="328.9" cy="34.6" r="2.60"/><circle cx="332.9" cy="36.3" r="2.60"/><circle cx="336.8" cy="40.3" r="2.60"/><circle cx="340.8" cy="34.6" r="2.60"/><circle cx="344.8" cy="33.0" r="2.60"/><circle cx="348.7" cy="38.2" r="2.60"/><circle cx="352.7" cy="26.0" r="2.60"/><circle cx="356.6" cy="26.0" r="2.60"/><circle cx="360.6" cy="26.0" r="2.60"/><circle cx="364.6" cy="26.7" r="2.60"/><circle cx="368.5" cy="27.4" r="2.60"/><circle cx="372.5" cy="26.7" r="2.60"/><circle cx="376.4" cy="27.4" r="2.60"/><circle cx="380.4" cy="26.7" r="2.60"/><circle cx="384.4" cy="26.7" r="2.60"/><circle cx="388.3" cy="26.0" r="2.60"/><circle cx="392.3" cy="26.7" r="2.60"/><circle cx="396.2" cy="29.5" r="2.60"/><circle cx="400.2" cy="29.5" r="2.60"/><circle cx="404.2" cy="29.5" r="2.60"/><circle cx="408.1" cy="29.5" r="2.60"/><circle cx="412.1" cy="28.8" r="2.60"/></g>
<polyline points="67.6,36.7 71.5,36.0 75.5,38.9 79.4,36.0 83.4,35.2 87.4,37.4 91.3,36.7 95.3,36.7 99.2,38.9 103.2,36.0 107.2,36.0 111.1,37.4 115.1,36.7 119.0,37.4 123.0,37.4 127.0,35.2 130.9,37.4 134.9,65.8 138.8,59.3 142.8,68.3 146.8,65.8 150.7,59.3 154.7,58.5 158.6,62.6 162.6,59.3 166.6,57.7 170.5,56.8 174.5,61.1 178.4,53.7 182.4,57.0 186.4,58.7 190.3,54.6 194.3,51.3 198.2,56.2 202.2,52.1 206.2,53.7 210.1,50.5 214.1,51.3 218.0,53.7 222.0,40.6 226.0,35.7 229.9,37.4 233.9,34.9 237.8,34.1 241.8,35.7 245.8,35.7 249.7,39.8 253.7,37.4 257.6,34.9 261.6,39.0 265.6,39.0 269.5,35.7 273.5,34.9 277.4,33.3 281.4,32.5 285.4,33.3 289.3,34.1 293.3,36.5 297.2,34.1 301.2,32.0 305.2,36.9 309.1,42.6 313.1,41.8 317.0,43.4 321.0,44.2 325.0,41.0 328.9,39.3 332.9,41.0 336.8,45.0 340.8,39.3 344.8,37.7 348.7,42.9 352.7,29.3 356.6,29.3 360.6,29.3 364.6,30.0 368.5,30.8 372.5,30.0 376.4,30.8 380.4,30.0 384.4,30.0 388.3,29.3 392.3,30.0 396.2,36.6 400.2,38.0 404.2,36.6 408.1,35.1 412.1,34.4" fill="none" stroke="#f2be52" stroke-width="0.8" stroke-linejoin="round"/>
<g fill="#ffa514"><circle cx="67.6" cy="36.7" r="2.60"/><circle cx="71.5" cy="36.0" r="2.60"/><circle cx="75.5" cy="38.9" r="2.60"/><circle cx="79.4" cy="36.0" r="2.60"/><circle cx="83.4" cy="35.2" r="2.60"/><circle cx="87.4" cy="37.4" r="2.60"/><circle cx="91.3" cy="36.7" r="2.60"/><circle cx="95.3" cy="36.7" r="2.60"/><circle cx="99.2" cy="38.9" r="2.60"/><circle cx="103.2" cy="36.0" r="2.60"/><circle cx="107.2" cy="36.0" r="2.60"/><circle cx="111.1" cy="37.4" r="2.60"/><circle cx="115.1" cy="36.7" r="2.60"/><circle cx="119.0" cy="37.4" r="2.60"/><circle cx="123.0" cy="37.4" r="2.60"/><circle cx="127.0" cy="35.2" r="2.60"/><circle cx="130.9" cy="37.4" r="2.60"/><circle cx="134.9" cy="65.8" r="2.60"/><circle cx="138.8" cy="59.3" r="2.60"/><circle cx="142.8" cy="68.3" r="2.60"/><circle cx="146.8" cy="65.8" r="2.60"/><circle cx="150.7" cy="59.3" r="2.60"/><circle cx="154.7" cy="58.5" r="2.60"/><circle cx="158.6" cy="62.6" r="2.60"/><circle cx="162.6" cy="59.3" r="2.60"/><circle cx="166.6" cy="57.7" r="2.60"/><circle cx="170.5" cy="56.8" r="2.60"/><circle cx="174.5" cy="61.1" r="2.60"/><circle cx="178.4" cy="53.7" r="2.60"/><circle cx="182.4" cy="57.0" r="2.60"/><circle cx="186.4" cy="58.7" r="2.60"/><circle cx="190.3" cy="54.6" r="2.60"/><circle cx="194.3" cy="51.3" r="2.60"/><circle cx="198.2" cy="56.2" r="2.60"/><circle cx="202.2" cy="52.1" r="2.60"/><circle cx="206.2" cy="53.7" r="2.60"/><circle cx="210.1" cy="50.5" r="2.60"/><circle cx="214.1" cy="51.3" r="2.60"/><circle cx="218.0" cy="53.7" r="2.60"/><circle cx="222.0" cy="40.6" r="2.60"/><circle cx="226.0" cy="35.7" r="2.60"/><circle cx="229.9" cy="37.4" r="2.60"/><circle cx="233.9" cy="34.9" r="2.60"/><circle cx="237.8" cy="34.1" r="2.60"/><circle cx="241.8" cy="35.7" r="2.60"/><circle cx="245.8" cy="35.7" r="2.60"/><circle cx="249.7" cy="39.8" r="2.60"/><circle cx="253.7" cy="37.4" r="2.60"/><circle cx="257.6" cy="34.9" r="2.60"/><circle cx="261.6" cy="39.0" r="2.60"/><circle cx="265.6" cy="39.0" r="2.60"/><circle cx="269.5" cy="35.7" r="2.60"/><circle cx="273.5" cy="34.9" r="2.60"/><circle cx="277.4" cy="33.3" r="2.60"/><circle cx="281.4" cy="32.5" r="2.60"/><circle cx="285.4" cy="33.3" r="2.60"/><circle cx="289.3" cy="34.1" r="2.60"/><circle cx="293.3" cy="36.5" r="2.60"/><circle cx="297.2" cy="34.1" r="2.60"/><circle cx="301.2" cy="32.0" r="2.60"/><circle cx="305.2" cy="36.9" r="2.60"/><circle cx="309.1" cy="42.6" r="2.60"/><circle cx="313.1" cy="41.8" r="2.60"/><circle cx="317.0" cy="43.4" r="2.60"/><circle cx="321.0" cy="44.2" r="2.60"/><circle cx="325.0" cy="41.0" r="2.60"/><circle cx="328.9" cy="39.3" r="2.60"/><circle cx="332.9" cy="41.0" r="2.60"/><circle cx="336.8" cy="45.0" r="2.60"/><circle cx="340.8" cy="39.3" r="2.60"/><circle cx="344.8" cy="37.7" r="2.60"/><circle cx="348.7" cy="42.9" r="2.60"/><circle cx="352.7" cy="29.3" r="2.60"/><circle cx="356.6" cy="29.3" r="2.60"/><circle cx="360.6" cy="29.3" r="2.60"/><circle cx="364.6" cy="30.0" r="2.60"/><circle cx="368.5" cy="30.8" r="2.60"/><circle cx="372.5" cy="30.0" r="2.60"/><circle cx="376.4" cy="30.8" r="2.60"/><circle cx="380.4" cy="30.0" r="2.60"/><circle cx="384.4" cy="30.0" r="2.60"/><circle cx="388.3" cy="29.3" r="2.60"/><circle cx="392.3" cy="30.0" r="2.60"/><circle cx="396.2" cy="36.6" r="2.60"/><circle cx="400.2" cy="38.0" r="2.60"/><circle cx="404.2" cy="36.6" r="2.60"/><circle cx="408.1" cy="35.1" r="2.60"/><circle cx="412.1" cy="34.4" r="2.60"/></g>
<polyline points="67.6,32.3 71.5,31.6 75.5,34.5 79.4,31.6 83.4,30.9 87.4,32.3 91.3,32.3 95.3,31.6 99.2,33.8 103.2,32.3 107.2,30.9 111.1,32.3 115.1,32.3 119.0,33.8 123.0,34.5 127.0,31.6 130.9,33.0 134.9,62.2 138.8,55.7 142.8,64.7 146.8,62.2 150.7,55.7 154.7,54.9 158.6,59.0 162.6,55.7 166.6,54.1 170.5,53.2 174.5,56.5 178.4,49.1 182.4,52.4 186.4,54.1 190.3,50.0 194.3,46.7 198.2,51.6 202.2,47.5 206.2,49.1 210.1,45.9 214.1,46.7 218.0,49.1 222.0,35.1 226.0,30.2 229.9,31.9 233.9,29.4 237.8,28.6 241.8,30.2 245.8,30.2 249.7,34.3 253.7,31.9 257.6,29.4 261.6,33.5 265.6,33.5 269.5,30.2 273.5,29.4 277.4,27.8 281.4,27.0 285.4,27.8 289.3,28.6 293.3,31.0 297.2,28.6 301.2,27.0 305.2,31.9 309.1,37.6 313.1,36.8 317.0,38.4 321.0,39.2 325.0,36.0 328.9,34.3 332.9,36.0 336.8,40.0 340.8,34.3 344.8,32.7 348.7,37.9 352.7,25.7 356.6,25.7 360.6,25.7 364.6,26.4 368.5,27.1 372.5,26.4 376.4,27.1 380.4,26.4 384.4,26.4 388.3,25.7 392.3,26.4 396.2,29.0 400.2,29.0 404.2,29.0 408.1,29.0 412.1,28.3" fill="none" stroke="#40e4e4" stroke-width="0.8" stroke-linejoin="round"/>
<g fill="#14f0f0"><circle cx="67.6" cy="32.3" r="2.60"/><circle cx="71.5" cy="31.6" r="2.60"/><circle cx="75.5" cy="34.5" r="2.60"/><circle cx="79.4" cy="31.6" r="2.60"/><circle cx="83.4" cy="30.9" r="2.60"/><circle cx="87.4" cy="32.3" r="2.60"/><circle cx="91.3" cy="32.3" r="2.60"/><circle cx="95.3" cy="31.6" r="2.60"/><circle cx="99.2" cy="33.8" r="2.60"/><circle cx="103.2" cy="32.3" r="2.60"/><circle cx="107.2" cy="30.9" r="2.60"/><circle cx="111.1" cy="32.3" r="2.60"/><circle cx="115.1" cy="32.3" r="2.60"/><circle cx="119.0" cy="33.8" r="2.60"/><circle cx="123.0" cy="34.5" r="2.60"/><circle cx="127.0" cy="31.6" r="2.60"/><circle cx="130.9" cy="33.0" r="2.60"/><circle cx="134.9" cy="62.2" r="2.60"/><circle cx="138.8" cy="55.7" r="2.60"/><circle cx="142.8" cy="64.7" r="2.60"/><circle cx="146.8" cy="62.2" r="2.60"/><circle cx="150.7" cy="55.7" r="2.60"/><circle cx="154.7" cy="54.9" r="2.60"/><circle cx="158.6" cy="59.0" r="2.60"/><circle cx="162.6" cy="55.7" r="2.60"/><circle cx="166.6" cy="54.1" r="2.60"/><circle cx="170.5" cy="53.2" r="2.60"/><circle cx="174.5" cy="56.5" r="2.60"/><circle cx="178.4" cy="49.1" r="2.60"/><circle cx="182.4" cy="52.4" r="2.60"/><circle cx="186.4" cy="54.1" r="2.60"/><circle cx="190.3" cy="50.0" r="2.60"/><circle cx="194.3" cy="46.7" r="2.60"/><circle cx="198.2" cy="51.6" r="2.60"/><circle cx="202.2" cy="47.5" r="2.60"/><circle cx="206.2" cy="49.1" r="2.60"/><circle cx="210.1" cy="45.9" r="2.60"/><circle cx="214.1" cy="46.7" r="2.60"/><circle cx="218.0" cy="49.1" r="2.60"/><circle cx="222.0" cy="35.1" r="2.60"/><circle cx="226.0" cy="30.2" r="2.60"/><circle cx="229.9" cy="31.9" r="2.60"/><circle cx="233.9" cy="29.4" r="2.60"/><circle cx="237.8" cy="28.6" r="2.60"/><circle cx="241.8" cy="30.2" r="2.60"/><circle cx="245.8" cy="30.2" r="2.60"/><circle cx="249.7" cy="34.3" r="2.60"/><circle cx="253.7" cy="31.9" r="2.60"/><circle cx="257.6" cy="29.4" r="2.60"/><circle cx="261.6" cy="33.5" r="2.60"/><circle cx="265.6" cy="33.5" r="2.60"/><circle cx="269.5" cy="30.2" r="2.60"/><circle cx="273.5" cy="29.4" r="2.60"/><circle cx="277.4" cy="27.8" r="2.60"/><circle cx="281.4" cy="27.0" r="2.60"/><circle cx="285.4" cy="27.8" r="2.60"/><circle cx="289.3" cy="28.6" r="2.60"/><circle cx="293.3" cy="31.0" r="2.60"/><circle cx="297.2" cy="28.6" r="2.60"/><circle cx="301.2" cy="27.0" r="2.60"/><circle cx="305.2" cy="31.9" r="2.60"/><circle cx="309.1" cy="37.6" r="2.60"/><circle cx="313.1" cy="36.8" r="2.60"/><circle cx="317.0" cy="38.4" r="2.60"/><circle cx="321.0" cy="39.2" r="2.60"/><circle cx="325.0" cy="36.0" r="2.60"/><circle cx="328.9" cy="34.3" r="2.60"/><circle cx="332.9" cy="36.0" r="2.60"/><circle cx="336.8" cy="40.0" r="2.60"/><circle cx="340.8" cy="34.3" r="2.60"/><circle cx="344.8" cy="32.7" r="2.60"/><circle cx="348.7" cy="37.9" r="2.60"/><circle cx="352.7" cy="25.7" r="2.60"/><circle cx="356.6" cy="25.7" r="2.60"/><circle cx="360.6" cy="25.7" r="2.60"/><circle cx="364.6" cy="26.4" r="2.60"/><circle cx="368.5" cy="27.1" r="2.60"/><circle cx="372.5" cy="26.4" r="2.60"/><circle cx="376.4" cy="27.1" r="2.60"/><circle cx="380.4" cy="26.4" r="2.60"/><circle cx="384.4" cy="26.4" r="2.60"/><circle cx="388.3" cy="25.7" r="2.60"/><circle cx="392.3" cy="26.4" r="2.60"/><circle cx="396.2" cy="29.0" r="2.60"/><circle cx="400.2" cy="29.0" r="2.60"/><circle cx="404.2" cy="29.0" r="2.60"/><circle cx="408.1" cy="29.0" r="2.60"/><circle cx="412.1" cy="28.3" r="2.60"/></g>
</g>
<rect x="63.6" y="18.2" width="356.0" height="104.0" fill="none" stroke="#1e1e1e" stroke-width="1.5"/>
<line x1="63.6" y1="122.2" x2="63.6" y2="132.2" stroke="#1e1e1e" stroke-width="1.5"/>
<line x1="107.2" y1="122.2" x2="107.2" y2="132.2" stroke="#1e1e1e" stroke-width="1.5"/>
<line x1="150.7" y1="122.2" x2="150.7" y2="132.2" stroke="#1e1e1e" stroke-width="1.5"/>
<line x1="194.3" y1="122.2" x2="194.3" y2="132.2" stroke="#1e1e1e" stroke-width="1.5"/>
<line x1="237.8" y1="122.2" x2="237.8" y2="132.2" stroke="#1e1e1e" stroke-width="1.5"/>
<line x1="281.4" y1="122.2" x2="281.4" y2="132.2" stroke="#1e1e1e" stroke-width="1.5"/>
<line x1="325.0" y1="122.2" x2="325.0" y2="132.2" stroke="#1e1e1e" stroke-width="1.5"/>
<line x1="368.5" y1="122.2" x2="368.5" y2="132.2" stroke="#1e1e1e" stroke-width="1.5"/>
<line x1="412.1" y1="122.2" x2="412.1" y2="132.2" stroke="#1e1e1e" stroke-width="1.5"/>
<line x1="53.5" y1="26.2" x2="63.6" y2="26.2" stroke="#1e1e1e" stroke-width="1.5"/>
<text x="46.0" y="29.2" class="yt">0.8</text>
<line x1="53.5" y1="42.2" x2="63.6" y2="42.2" stroke="#1e1e1e" stroke-width="1.5"/>
<text x="46.0" y="45.2" class="yt">0.6</text>
<line x1="53.5" y1="58.2" x2="63.6" y2="58.2" stroke="#1e1e1e" stroke-width="1.5"/>
<text x="46.0" y="61.2" class="yt">0.4</text>
<line x1="53.5" y1="74.2" x2="63.6" y2="74.2" stroke="#1e1e1e" stroke-width="1.5"/>
<text x="46.0" y="77.2" class="yt">0.2</text>
<line x1="53.5" y1="90.2" x2="63.6" y2="90.2" stroke="#1e1e1e" stroke-width="1.5"/>
<text x="46.0" y="93.2" class="yt">0</text>
<line x1="53.5" y1="106.2" x2="63.6" y2="106.2" stroke="#1e1e1e" stroke-width="1.5"/>
<text x="46.0" y="109.2" class="yt">-0.2</text>
<line x1="53.5" y1="122.2" x2="63.6" y2="122.2" stroke="#1e1e1e" stroke-width="1.5"/>
<text x="46.0" y="125.2" class="yt">-0.4</text>
<line x1="58.8" y1="18.2" x2="63.6" y2="18.2" stroke="#1e1e1e" stroke-width="1.5"/>
<line x1="58.8" y1="34.2" x2="63.6" y2="34.2" stroke="#1e1e1e" stroke-width="1.5"/>
<line x1="58.8" y1="50.2" x2="63.6" y2="50.2" stroke="#1e1e1e" stroke-width="1.5"/>
<line x1="58.8" y1="66.2" x2="63.6" y2="66.2" stroke="#1e1e1e" stroke-width="1.5"/>
<line x1="58.8" y1="82.2" x2="63.6" y2="82.2" stroke="#1e1e1e" stroke-width="1.5"/>
<line x1="58.8" y1="98.2" x2="63.6" y2="98.2" stroke="#1e1e1e" stroke-width="1.5"/>
<line x1="58.8" y1="114.2" x2="63.6" y2="114.2" stroke="#1e1e1e" stroke-width="1.5"/>
<text x="60.4" y="13.0" class="pl">a</text>
<text transform="translate(19.3,70.2) rotate(-90)" class="al">NDVI</text>
<g>
<polyline points="67.6,214.8 71.5,219.5 75.5,214.1 79.4,214.1 83.4,213.6 87.4,212.3 91.3,211.0 95.3,212.3 99.2,214.8 103.2,213.6 107.2,204.6 111.1,198.2 115.1,208.4 119.0,196.4 123.0,206.7 127.0,206.7 130.9,207.2 134.9,206.7 138.8,204.6 142.8,209.2 146.8,208.4 150.7,199.4 154.7,185.4 158.6,191.7 162.6,177.7 166.6,193.1 170.5,190.5 174.5,191.8 178.4,180.3 182.4,177.7 186.4,199.5 190.3,188.0 194.3,191.8 198.2,199.5 202.2,193.1 206.2,198.2 210.1,194.4 214.1,193.1 218.0,191.8 222.0,190.5 226.0,205.9 229.9,198.2 233.9,186.7 237.8,188.0 241.8,196.9 245.8,194.4 249.7,191.8 253.7,194.4 257.6,194.4 261.6,191.8 265.6,189.2 269.5,191.8 273.5,194.4 277.4,188.0 281.4,189.2 285.4,185.4 289.3,196.9 293.3,199.5 297.2,203.3 301.2,212.9 305.2,200.8 309.1,201.8 313.1,207.8 317.0,207.8 321.0,201.8 325.0,205.8 328.9,209.9 332.9,208.9 336.8,213.9 340.8,214.9 344.8,214.9 348.7,212.9 352.7,217.9 356.6,215.9 360.6,216.9 364.6,217.9 368.5,218.9 372.5,177.8 376.4,189.2 380.4,184.1 384.4,186.0 388.3,186.7 392.3,187.2 396.2,186.1 400.2,180.1 404.2,190.7 408.1,184.8 412.1,181.3" fill="none" stroke="#2a2aa0" stroke-width="0.8" stroke-linejoin="round"/>
<g fill="#0a0adc"><rect x="65.3" y="212.6" width="4.5" height="4.5"/><rect x="69.3" y="217.2" width="4.5" height="4.5"/><rect x="73.2" y="211.8" width="4.5" height="4.5"/><rect x="77.2" y="211.8" width="4.5" height="4.5"/><rect x="81.2" y="211.3" width="4.5" height="4.5"/><rect x="85.1" y="210.0" width="4.5" height="4.5"/><rect x="89.1" y="208.8" width="4.5" height="4.5"/><rect x="93.0" y="210.0" width="4.5" height="4.5"/><rect x="97.0" y="212.6" width="4.5" height="4.5"/><rect x="101.0" y="211.3" width="4.5" height="4.5"/><rect x="104.9" y="202.4" width="4.5" height="4.5"/><rect x="108.9" y="196.0" width="4.5" height="4.5"/><rect x="112.8" y="206.2" width="4.5" height="4.5"/><rect x="116.8" y="194.2" width="4.5" height="4.5"/><rect x="120.8" y="204.4" width="4.5" height="4.5"/><rect x="124.7" y="204.4" width="4.5" height="4.5"/><rect x="128.7" y="204.9" width="4.5" height="4.5"/><rect x="132.6" y="204.4" width="4.5" height="4.5"/><rect x="136.6" y="202.4" width="4.5" height="4.5"/><rect x="140.6" y="207.0" width="4.5" height="4.5"/><rect x="144.5" y="206.2" width="4.5" height="4.5"/><rect x="148.5" y="197.1" width="4.5" height="4.5"/><rect x="152.4" y="183.1" width="4.5" height="4.5"/><rect x="156.4" y="189.5" width="4.5" height="4.5"/><rect x="160.3" y="175.5" width="4.5" height="4.5"/><rect x="164.3" y="190.8" width="4.5" height="4.5"/><rect x="168.3" y="188.3" width="4.5" height="4.5"/><rect x="172.2" y="189.5" width="4.5" height="4.5"/><rect x="176.2" y="178.0" width="4.5" height="4.5"/><rect x="180.2" y="175.5" width="4.5" height="4.5"/><rect x="184.1" y="197.2" width="4.5" height="4.5"/><rect x="188.1" y="185.7" width="4.5" height="4.5"/><rect x="192.0" y="189.5" width="4.5" height="4.5"/><rect x="196.0" y="197.2" width="4.5" height="4.5"/><rect x="199.9" y="190.8" width="4.5" height="4.5"/><rect x="203.9" y="196.0" width="4.5" height="4.5"/><rect x="207.9" y="192.1" width="4.5" height="4.5"/><rect x="211.8" y="190.8" width="4.5" height="4.5"/><rect x="215.8" y="189.5" width="4.5" height="4.5"/><rect x="219.8" y="188.3" width="4.5" height="4.5"/><rect x="223.7" y="203.6" width="4.5" height="4.5"/><rect x="227.7" y="196.0" width="4.5" height="4.5"/><rect x="231.6" y="184.4" width="4.5" height="4.5"/><rect x="235.6" y="185.7" width="4.5" height="4.5"/><rect x="239.5" y="194.7" width="4.5" height="4.5"/><rect x="243.5" y="192.1" width="4.5" height="4.5"/><rect x="247.5" y="189.5" width="4.5" height="4.5"/><rect x="251.4" y="192.1" width="4.5" height="4.5"/><rect x="255.4" y="192.1" width="4.5" height="4.5"/><rect x="259.4" y="189.5" width="4.5" height="4.5"/><rect x="263.3" y="187.0" width="4.5" height="4.5"/><rect x="267.3" y="189.5" width="4.5" height="4.5"/><rect x="271.2" y="192.1" width="4.5" height="4.5"/><rect x="275.2" y="185.7" width="4.5" height="4.5"/><rect x="279.2" y="187.0" width="4.5" height="4.5"/><rect x="283.1" y="183.1" width="4.5" height="4.5"/><rect x="287.1" y="194.7" width="4.5" height="4.5"/><rect x="291.0" y="197.2" width="4.5" height="4.5"/><rect x="295.0" y="201.1" width="4.5" height="4.5"/><rect x="298.9" y="210.6" width="4.5" height="4.5"/><rect x="302.9" y="198.5" width="4.5" height="4.5"/><rect x="306.9" y="199.6" width="4.5" height="4.5"/><rect x="310.8" y="205.6" width="4.5" height="4.5"/><rect x="314.8" y="205.6" width="4.5" height="4.5"/><rect x="318.8" y="199.6" width="4.5" height="4.5"/><rect x="322.7" y="203.6" width="4.5" height="4.5"/><rect x="326.7" y="207.6" width="4.5" height="4.5"/><rect x="330.6" y="206.6" width="4.5" height="4.5"/><rect x="334.6" y="211.6" width="4.5" height="4.5"/><rect x="338.6" y="212.6" width="4.5" height="4.5"/><rect x="342.5" y="212.6" width="4.5" height="4.5"/><rect x="346.5" y="210.6" width="4.5" height="4.5"/><rect x="350.4" y="215.7" width="4.5" height="4.5"/><rect x="354.4" y="213.6" width="4.5" height="4.5"/><rect x="358.4" y="214.7" width="4.5" height="4.5"/><rect x="362.3" y="215.7" width="4.5" height="4.5"/><rect x="366.3" y="216.7" width="4.5" height="4.5"/><rect x="370.2" y="175.6" width="4.5" height="4.5"/><rect x="374.2" y="187.0" width="4.5" height="4.5"/><rect x="378.2" y="181.9" width="4.5" height="4.5"/><rect x="382.1" y="183.8" width="4.5" height="4.5"/><rect x="386.1" y="184.4" width="4.5" height="4.5"/><rect x="390.0" y="184.9" width="4.5" height="4.5"/><rect x="394.0" y="183.8" width="4.5" height="4.5"/><rect x="398.0" y="177.9" width="4.5" height="4.5"/><rect x="401.9" y="188.5" width="4.5" height="4.5"/><rect x="405.9" y="182.6" width="4.5" height="4.5"/><rect x="409.8" y="179.1" width="4.5" height="4.5"/></g>
<polyline points="67.6,189.1 71.5,194.8 75.5,190.1 79.4,197.6 83.4,202.3 87.4,200.9 91.3,189.1 95.3,195.6 99.2,210.0 103.2,190.2 107.2,190.8 111.1,168.0 115.1,184.0 119.0,176.8 123.0,196.4 127.0,183.0 130.9,187.1 134.9,178.8 138.8,171.9 142.8,197.7 146.8,191.7 150.7,187.7 154.7,174.6 158.6,182.8 162.6,170.0 166.6,176.6 170.5,184.7 174.5,191.5 178.4,184.7 182.4,178.4 186.4,189.1 190.3,183.2 194.3,187.4 198.2,237.0 202.2,187.8 206.2,182.1 210.1,185.4 214.1,190.9 218.0,183.3 222.0,176.6 226.0,206.9 229.9,205.8 233.9,181.7 237.8,197.6 241.8,197.5 245.8,196.2 249.7,187.5 253.7,190.4 257.6,199.0 261.6,195.8 265.6,197.9 269.5,201.5 273.5,198.8 277.4,199.6 281.4,199.2 285.4,181.8 289.3,196.6 293.3,184.7 297.2,198.6 301.2,204.1 305.2,184.7 309.1,198.6 313.1,209.8 317.0,201.9 321.0,183.7 325.0,191.3 328.9,196.7 332.9,202.6 336.8,199.1 340.8,207.6 344.8,206.0 348.7,204.5 352.7,207.5 356.6,193.8 360.6,202.8 364.6,201.9 368.5,212.3 372.5,188.0 376.4,186.4 380.4,180.1 384.4,193.6 388.3,203.6 392.3,188.0 396.2,189.2 400.2,223.4 404.2,214.2 408.1,197.2 412.1,194.2" fill="none" stroke="#e0a880" stroke-width="0.8" stroke-linejoin="round"/>
<g fill="#d2691e"><rect x="65.3" y="186.8" width="4.5" height="4.5"/><rect x="69.3" y="192.5" width="4.5" height="4.5"/><rect x="73.2" y="187.8" width="4.5" height="4.5"/><rect x="77.2" y="195.4" width="4.5" height="4.5"/><rect x="81.2" y="200.0" width="4.5" height="4.5"/><rect x="85.1" y="198.6" width="4.5" height="4.5"/><rect x="89.1" y="186.8" width="4.5" height="4.5"/><rect x="93.0" y="193.3" width="4.5" height="4.5"/><rect x="97.0" y="207.7" width="4.5" height="4.5"/><rect x="101.0" y="187.9" width="4.5" height="4.5"/><rect x="104.9" y="188.6" width="4.5" height="4.5"/><rect x="108.9" y="165.7" width="4.5" height="4.5"/><rect x="112.8" y="181.7" width="4.5" height="4.5"/><rect x="116.8" y="174.5" width="4.5" height="4.5"/><rect x="120.8" y="194.1" width="4.5" height="4.5"/><rect x="124.7" y="180.7" width="4.5" height="4.5"/><rect x="128.7" y="184.8" width="4.5" height="4.5"/><rect x="132.6" y="176.6" width="4.5" height="4.5"/><rect x="136.6" y="169.6" width="4.5" height="4.5"/><rect x="140.6" y="195.4" width="4.5" height="4.5"/><rect x="144.5" y="189.5" width="4.5" height="4.5"/><rect x="148.5" y="185.5" width="4.5" height="4.5"/><rect x="152.4" y="172.3" width="4.5" height="4.5"/><rect x="156.4" y="180.6" width="4.5" height="4.5"/><rect x="160.3" y="167.8" width="4.5" height="4.5"/><rect x="164.3" y="174.4" width="4.5" height="4.5"/><rect x="168.3" y="182.4" width="4.5" height="4.5"/><rect x="172.2" y="189.2" width="4.5" height="4.5"/><rect x="176.2" y="182.5" width="4.5" height="4.5"/><rect x="180.2" y="176.2" width="4.5" height="4.5"/><rect x="184.1" y="186.9" width="4.5" height="4.5"/><rect x="188.1" y="180.9" width="4.5" height="4.5"/><rect x="192.0" y="185.2" width="4.5" height="4.5"/><rect x="196.0" y="234.8" width="4.5" height="4.5"/><rect x="199.9" y="185.6" width="4.5" height="4.5"/><rect x="203.9" y="179.8" width="4.5" height="4.5"/><rect x="207.9" y="183.1" width="4.5" height="4.5"/><rect x="211.8" y="188.6" width="4.5" height="4.5"/><rect x="215.8" y="181.0" width="4.5" height="4.5"/><rect x="219.8" y="174.4" width="4.5" height="4.5"/><rect x="223.7" y="204.7" width="4.5" height="4.5"/><rect x="227.7" y="203.6" width="4.5" height="4.5"/><rect x="231.6" y="179.4" width="4.5" height="4.5"/><rect x="235.6" y="195.4" width="4.5" height="4.5"/><rect x="239.5" y="195.3" width="4.5" height="4.5"/><rect x="243.5" y="193.9" width="4.5" height="4.5"/><rect x="247.5" y="185.3" width="4.5" height="4.5"/><rect x="251.4" y="188.2" width="4.5" height="4.5"/><rect x="255.4" y="196.8" width="4.5" height="4.5"/><rect x="259.4" y="193.5" width="4.5" height="4.5"/><rect x="263.3" y="195.6" width="4.5" height="4.5"/><rect x="267.3" y="199.3" width="4.5" height="4.5"/><rect x="271.2" y="196.6" width="4.5" height="4.5"/><rect x="275.2" y="197.3" width="4.5" height="4.5"/><rect x="279.2" y="196.9" width="4.5" height="4.5"/><rect x="283.1" y="179.6" width="4.5" height="4.5"/><rect x="287.1" y="194.4" width="4.5" height="4.5"/><rect x="291.0" y="182.4" width="4.5" height="4.5"/><rect x="295.0" y="196.3" width="4.5" height="4.5"/><rect x="298.9" y="201.8" width="4.5" height="4.5"/><rect x="302.9" y="182.4" width="4.5" height="4.5"/><rect x="306.9" y="196.3" width="4.5" height="4.5"/><rect x="310.8" y="207.6" width="4.5" height="4.5"/><rect x="314.8" y="199.6" width="4.5" height="4.5"/><rect x="318.8" y="181.4" width="4.5" height="4.5"/><rect x="322.7" y="189.1" width="4.5" height="4.5"/><rect x="326.7" y="194.5" width="4.5" height="4.5"/><rect x="330.6" y="200.3" width="4.5" height="4.5"/><rect x="334.6" y="196.8" width="4.5" height="4.5"/><rect x="338.6" y="205.4" width="4.5" height="4.5"/><rect x="342.5" y="203.8" width="4.5" height="4.5"/><rect x="346.5" y="202.3" width="4.5" height="4.5"/><rect x="350.4" y="205.3" width="4.5" height="4.5"/><rect x="354.4" y="191.5" width="4.5" height="4.5"/><rect x="358.4" y="200.6" width="4.5" height="4.5"/><rect x="362.3" y="199.7" width="4.5" height="4.5"/><rect x="366.3" y="210.0" width="4.5" height="4.5"/><rect x="370.2" y="185.7" width="4.5" height="4.5"/><rect x="374.2" y="184.1" width="4.5" height="4.5"/><rect x="378.2" y="177.8" width="4.5" height="4.5"/><rect x="382.1" y="191.3" width="4.5" height="4.5"/><rect x="386.1" y="201.4" width="4.5" height="4.5"/><rect x="390.0" y="185.8" width="4.5" height="4.5"/><rect x="394.0" y="186.9" width="4.5" height="4.5"/><rect x="398.0" y="221.1" width="4.5" height="4.5"/><rect x="401.9" y="211.9" width="4.5" height="4.5"/><rect x="405.9" y="195.0" width="4.5" height="4.5"/><rect x="409.8" y="192.0" width="4.5" height="4.5"/></g>
<polyline points="67.6,193.1 71.5,200.7 75.5,188.8 79.4,194.9 83.4,203.6 87.4,197.0 91.3,192.1 95.3,192.7 99.2,204.5 103.2,191.9 107.2,189.9 111.1,170.1 115.1,184.9 119.0,185.1 123.0,191.3 127.0,182.7 130.9,190.5 134.9,177.1 138.8,174.5 142.8,194.5 146.8,192.8 150.7,190.8 154.7,175.5 158.6,180.6 162.6,170.8 166.6,182.6 170.5,180.7 174.5,186.7 178.4,183.1 182.4,174.6 186.4,189.4 190.3,183.7 194.3,184.8 198.2,227.0 202.2,187.4 206.2,179.2 210.1,185.9 214.1,193.8 218.0,184.5 222.0,177.7 226.0,207.2 229.9,213.9 233.9,183.9 237.8,184.6 241.8,195.9 245.8,199.3 249.7,185.7 253.7,195.6 257.6,201.4 261.6,198.6 265.6,195.2 269.5,199.5 273.5,197.5 277.4,197.7 281.4,198.9 285.4,181.2 289.3,192.7 293.3,186.7 297.2,203.1 301.2,198.9 305.2,189.2 309.1,211.2 313.1,207.8 317.0,198.7 321.0,184.9 325.0,194.2 328.9,196.2 332.9,201.5 336.8,199.7 340.8,203.0 344.8,203.5 348.7,209.0 352.7,206.1 356.6,199.1 360.6,207.3 364.6,208.7 368.5,213.4 372.5,201.3 376.4,185.4 380.4,176.6 384.4,191.5 388.3,209.5 392.3,182.5 396.2,187.0 400.2,233.8 404.2,216.5 408.1,195.2 412.1,190.5" fill="none" stroke="#40bc5c" stroke-width="0.8" stroke-linejoin="round"/>
<g fill="#00a01e"><rect x="65.3" y="190.9" width="4.5" height="4.5"/><rect x="69.3" y="198.4" width="4.5" height="4.5"/><rect x="73.2" y="186.6" width="4.5" height="4.5"/><rect x="77.2" y="192.6" width="4.5" height="4.5"/><rect x="81.2" y="201.3" width="4.5" height="4.5"/><rect x="85.1" y="194.8" width="4.5" height="4.5"/><rect x="89.1" y="189.8" width="4.5" height="4.5"/><rect x="93.0" y="190.4" width="4.5" height="4.5"/><rect x="97.0" y="202.3" width="4.5" height="4.5"/><rect x="101.0" y="189.6" width="4.5" height="4.5"/><rect x="104.9" y="187.6" width="4.5" height="4.5"/><rect x="108.9" y="167.8" width="4.5" height="4.5"/><rect x="112.8" y="182.7" width="4.5" height="4.5"/><rect x="116.8" y="182.8" width="4.5" height="4.5"/><rect x="120.8" y="189.1" width="4.5" height="4.5"/><rect x="124.7" y="180.4" width="4.5" height="4.5"/><rect x="128.7" y="188.3" width="4.5" height="4.5"/><rect x="132.6" y="174.8" width="4.5" height="4.5"/><rect x="136.6" y="172.2" width="4.5" height="4.5"/><rect x="140.6" y="192.2" width="4.5" height="4.5"/><rect x="144.5" y="190.6" width="4.5" height="4.5"/><rect x="148.5" y="188.5" width="4.5" height="4.5"/><rect x="152.4" y="173.2" width="4.5" height="4.5"/><rect x="156.4" y="178.3" width="4.5" height="4.5"/><rect x="160.3" y="168.6" width="4.5" height="4.5"/><rect x="164.3" y="180.4" width="4.5" height="4.5"/><rect x="168.3" y="178.4" width="4.5" height="4.5"/><rect x="172.2" y="184.5" width="4.5" height="4.5"/><rect x="176.2" y="180.8" width="4.5" height="4.5"/><rect x="180.2" y="172.4" width="4.5" height="4.5"/><rect x="184.1" y="187.1" width="4.5" height="4.5"/><rect x="188.1" y="181.4" width="4.5" height="4.5"/><rect x="192.0" y="182.6" width="4.5" height="4.5"/><rect x="196.0" y="224.7" width="4.5" height="4.5"/><rect x="199.9" y="185.1" width="4.5" height="4.5"/><rect x="203.9" y="176.9" width="4.5" height="4.5"/><rect x="207.9" y="183.6" width="4.5" height="4.5"/><rect x="211.8" y="191.5" width="4.5" height="4.5"/><rect x="215.8" y="182.3" width="4.5" height="4.5"/><rect x="219.8" y="175.4" width="4.5" height="4.5"/><rect x="223.7" y="205.0" width="4.5" height="4.5"/><rect x="227.7" y="211.6" width="4.5" height="4.5"/><rect x="231.6" y="181.6" width="4.5" height="4.5"/><rect x="235.6" y="182.3" width="4.5" height="4.5"/><rect x="239.5" y="193.7" width="4.5" height="4.5"/><rect x="243.5" y="197.1" width="4.5" height="4.5"/><rect x="247.5" y="183.4" width="4.5" height="4.5"/><rect x="251.4" y="193.4" width="4.5" height="4.5"/><rect x="255.4" y="199.1" width="4.5" height="4.5"/><rect x="259.4" y="196.3" width="4.5" height="4.5"/><rect x="263.3" y="193.0" width="4.5" height="4.5"/><rect x="267.3" y="197.2" width="4.5" height="4.5"/><rect x="271.2" y="195.3" width="4.5" height="4.5"/><rect x="275.2" y="195.5" width="4.5" height="4.5"/><rect x="279.2" y="196.7" width="4.5" height="4.5"/><rect x="283.1" y="178.9" width="4.5" height="4.5"/><rect x="287.1" y="190.5" width="4.5" height="4.5"/><rect x="291.0" y="184.5" width="4.5" height="4.5"/><rect x="295.0" y="200.8" width="4.5" height="4.5"/><rect x="298.9" y="196.6" width="4.5" height="4.5"/><rect x="302.9" y="186.9" width="4.5" height="4.5"/><rect x="306.9" y="208.9" width="4.5" height="4.5"/><rect x="310.8" y="205.6" width="4.5" height="4.5"/><rect x="314.8" y="196.4" width="4.5" height="4.5"/><rect x="318.8" y="182.7" width="4.5" height="4.5"/><rect x="322.7" y="191.9" width="4.5" height="4.5"/><rect x="326.7" y="193.9" width="4.5" height="4.5"/><rect x="330.6" y="199.2" width="4.5" height="4.5"/><rect x="334.6" y="197.4" width="4.5" height="4.5"/><rect x="338.6" y="200.8" width="4.5" height="4.5"/><rect x="342.5" y="201.2" width="4.5" height="4.5"/><rect x="346.5" y="206.7" width="4.5" height="4.5"/><rect x="350.4" y="203.9" width="4.5" height="4.5"/><rect x="354.4" y="196.9" width="4.5" height="4.5"/><rect x="358.4" y="205.1" width="4.5" height="4.5"/><rect x="362.3" y="206.4" width="4.5" height="4.5"/><rect x="366.3" y="211.1" width="4.5" height="4.5"/><rect x="370.2" y="199.0" width="4.5" height="4.5"/><rect x="374.2" y="183.1" width="4.5" height="4.5"/><rect x="378.2" y="174.4" width="4.5" height="4.5"/><rect x="382.1" y="189.3" width="4.5" height="4.5"/><rect x="386.1" y="207.2" width="4.5" height="4.5"/><rect x="390.0" y="180.2" width="4.5" height="4.5"/><rect x="394.0" y="184.8" width="4.5" height="4.5"/><rect x="398.0" y="231.6" width="4.5" height="4.5"/><rect x="401.9" y="214.3" width="4.5" height="4.5"/><rect x="405.9" y="193.0" width="4.5" height="4.5"/><rect x="409.8" y="188.3" width="4.5" height="4.5"/></g>
<polyline points="67.6,203.3 71.5,207.8 75.5,188.7 79.4,193.8 83.4,209.7 87.4,194.6 91.3,192.2 95.3,191.3 99.2,206.2 103.2,198.4 107.2,196.3 111.1,168.6 115.1,189.3 119.0,181.5 123.0,193.5 127.0,187.6 130.9,189.1 134.9,181.4 138.8,175.4 142.8,194.0 146.8,189.6 150.7,191.6 154.7,175.2 158.6,182.1 162.6,167.9 166.6,182.8 170.5,184.2 174.5,190.2 178.4,181.4 182.4,180.1 186.4,187.3 190.3,182.6 194.3,191.5 198.2,200.8 202.2,190.6 206.2,179.6 210.1,189.5 214.1,190.8 218.0,182.7 222.0,181.2 226.0,209.9 229.9,204.8 233.9,185.6 237.8,191.2 241.8,199.3 245.8,194.7 249.7,186.6 253.7,190.9 257.6,197.8 261.6,196.6 265.6,196.3 269.5,197.5 273.5,199.9 277.4,194.8 281.4,206.7 285.4,185.4 289.3,200.9 293.3,188.3 297.2,203.3 301.2,203.4 305.2,188.4 309.1,205.5 313.1,214.0 317.0,199.1 321.0,186.8 325.0,190.3 328.9,201.8 332.9,201.7 336.8,203.4 340.8,204.1 344.8,204.9 348.7,207.0 352.7,204.1 356.6,197.0 360.6,209.5 364.6,204.5 368.5,210.8 372.5,197.4 376.4,184.4 380.4,183.5 384.4,192.8 388.3,200.4 392.3,186.2 396.2,188.6 400.2,224.3 404.2,211.8 408.1,193.7 412.1,189.5" fill="none" stroke="#e6969e" stroke-width="0.8" stroke-linejoin="round"/>
<g fill="#e8284b"><rect x="65.3" y="201.0" width="4.5" height="4.5"/><rect x="69.3" y="205.5" width="4.5" height="4.5"/><rect x="73.2" y="186.5" width="4.5" height="4.5"/><rect x="77.2" y="191.5" width="4.5" height="4.5"/><rect x="81.2" y="207.5" width="4.5" height="4.5"/><rect x="85.1" y="192.3" width="4.5" height="4.5"/><rect x="89.1" y="189.9" width="4.5" height="4.5"/><rect x="93.0" y="189.0" width="4.5" height="4.5"/><rect x="97.0" y="203.9" width="4.5" height="4.5"/><rect x="101.0" y="196.1" width="4.5" height="4.5"/><rect x="104.9" y="194.0" width="4.5" height="4.5"/><rect x="108.9" y="166.3" width="4.5" height="4.5"/><rect x="112.8" y="187.1" width="4.5" height="4.5"/><rect x="116.8" y="179.2" width="4.5" height="4.5"/><rect x="120.8" y="191.3" width="4.5" height="4.5"/><rect x="124.7" y="185.3" width="4.5" height="4.5"/><rect x="128.7" y="186.8" width="4.5" height="4.5"/><rect x="132.6" y="179.1" width="4.5" height="4.5"/><rect x="136.6" y="173.1" width="4.5" height="4.5"/><rect x="140.6" y="191.8" width="4.5" height="4.5"/><rect x="144.5" y="187.4" width="4.5" height="4.5"/><rect x="148.5" y="189.4" width="4.5" height="4.5"/><rect x="152.4" y="173.0" width="4.5" height="4.5"/><rect x="156.4" y="179.8" width="4.5" height="4.5"/><rect x="160.3" y="165.6" width="4.5" height="4.5"/><rect x="164.3" y="180.6" width="4.5" height="4.5"/><rect x="168.3" y="182.0" width="4.5" height="4.5"/><rect x="172.2" y="187.9" width="4.5" height="4.5"/><rect x="176.2" y="179.2" width="4.5" height="4.5"/><rect x="180.2" y="177.9" width="4.5" height="4.5"/><rect x="184.1" y="185.0" width="4.5" height="4.5"/><rect x="188.1" y="180.3" width="4.5" height="4.5"/><rect x="192.0" y="189.3" width="4.5" height="4.5"/><rect x="196.0" y="198.5" width="4.5" height="4.5"/><rect x="199.9" y="188.3" width="4.5" height="4.5"/><rect x="203.9" y="177.3" width="4.5" height="4.5"/><rect x="207.9" y="187.3" width="4.5" height="4.5"/><rect x="211.8" y="188.5" width="4.5" height="4.5"/><rect x="215.8" y="180.5" width="4.5" height="4.5"/><rect x="219.8" y="178.9" width="4.5" height="4.5"/><rect x="223.7" y="207.6" width="4.5" height="4.5"/><rect x="227.7" y="202.5" width="4.5" height="4.5"/><rect x="231.6" y="183.3" width="4.5" height="4.5"/><rect x="235.6" y="188.9" width="4.5" height="4.5"/><rect x="239.5" y="197.0" width="4.5" height="4.5"/><rect x="243.5" y="192.4" width="4.5" height="4.5"/><rect x="247.5" y="184.4" width="4.5" height="4.5"/><rect x="251.4" y="188.6" width="4.5" height="4.5"/><rect x="255.4" y="195.5" width="4.5" height="4.5"/><rect x="259.4" y="194.3" width="4.5" height="4.5"/><rect x="263.3" y="194.1" width="4.5" height="4.5"/><rect x="267.3" y="195.3" width="4.5" height="4.5"/><rect x="271.2" y="197.7" width="4.5" height="4.5"/><rect x="275.2" y="192.6" width="4.5" height="4.5"/><rect x="279.2" y="204.4" width="4.5" height="4.5"/><rect x="283.1" y="183.2" width="4.5" height="4.5"/><rect x="287.1" y="198.7" width="4.5" height="4.5"/><rect x="291.0" y="186.0" width="4.5" height="4.5"/><rect x="295.0" y="201.0" width="4.5" height="4.5"/><rect x="298.9" y="201.1" width="4.5" height="4.5"/><rect x="302.9" y="186.1" width="4.5" height="4.5"/><rect x="306.9" y="203.2" width="4.5" height="4.5"/><rect x="310.8" y="211.7" width="4.5" height="4.5"/><rect x="314.8" y="196.9" width="4.5" height="4.5"/><rect x="318.8" y="184.6" width="4.5" height="4.5"/><rect x="322.7" y="188.0" width="4.5" height="4.5"/><rect x="326.7" y="199.5" width="4.5" height="4.5"/><rect x="330.6" y="199.4" width="4.5" height="4.5"/><rect x="334.6" y="201.1" width="4.5" height="4.5"/><rect x="338.6" y="201.8" width="4.5" height="4.5"/><rect x="342.5" y="202.7" width="4.5" height="4.5"/><rect x="346.5" y="204.7" width="4.5" height="4.5"/><rect x="350.4" y="201.9" width="4.5" height="4.5"/><rect x="354.4" y="194.7" width="4.5" height="4.5"/><rect x="358.4" y="207.2" width="4.5" height="4.5"/><rect x="362.3" y="202.2" width="4.5" height="4.5"/><rect x="366.3" y="208.6" width="4.5" height="4.5"/><rect x="370.2" y="195.1" width="4.5" height="4.5"/><rect x="374.2" y="182.1" width="4.5" height="4.5"/><rect x="378.2" y="181.2" width="4.5" height="4.5"/><rect x="382.1" y="190.6" width="4.5" height="4.5"/><rect x="386.1" y="198.2" width="4.5" height="4.5"/><rect x="390.0" y="183.9" width="4.5" height="4.5"/><rect x="394.0" y="186.3" width="4.5" height="4.5"/><rect x="398.0" y="222.0" width="4.5" height="4.5"/><rect x="401.9" y="209.6" width="4.5" height="4.5"/><rect x="405.9" y="191.4" width="4.5" height="4.5"/><rect x="409.8" y="187.3" width="4.5" height="4.5"/></g>
<polyline points="67.6,193.4 71.5,197.7 75.5,187.9 79.4,193.5 83.4,204.7 87.4,194.4 91.3,191.0 95.3,193.4 99.2,205.9 103.2,186.6 107.2,189.6 111.1,171.7 115.1,181.7 119.0,179.8 123.0,193.1 127.0,181.3 130.9,187.6 134.9,178.3 138.8,174.8 142.8,193.5 146.8,187.4 150.7,194.3 154.7,176.7 158.6,188.0 162.6,168.9 166.6,179.9 170.5,184.0 174.5,193.3 178.4,182.8 182.4,179.4 186.4,191.7 190.3,180.7 194.3,181.7 198.2,195.8 202.2,186.9 206.2,181.7 210.1,186.0 214.1,187.7 218.0,180.7 222.0,180.2 226.0,203.8 229.9,228.0 233.9,184.7 237.8,181.7 241.8,196.9 245.8,196.7 249.7,186.4 253.7,192.1 257.6,199.1 261.6,195.0 265.6,198.8 269.5,221.9 273.5,203.8 277.4,196.2 281.4,195.0 285.4,178.7 289.3,196.8 293.3,187.6 297.2,207.8 301.2,205.4 305.2,192.8 309.1,214.9 313.1,199.9 317.0,198.7 321.0,187.1 325.0,187.7 328.9,193.8 332.9,202.7 336.8,201.0 340.8,204.0 344.8,208.5 348.7,207.8 352.7,206.4 356.6,196.4 360.6,206.5 364.6,203.6 368.5,214.9 372.5,201.3 376.4,183.7 380.4,179.7 384.4,188.4 388.3,201.3 392.3,191.0 396.2,188.3 400.2,210.7 404.2,247.0 408.1,195.5 412.1,192.9" fill="none" stroke="#9c92cc" stroke-width="0.8" stroke-linejoin="round"/>
<g fill="#6a5acd"><rect x="65.3" y="191.2" width="4.5" height="4.5"/><rect x="69.3" y="195.4" width="4.5" height="4.5"/><rect x="73.2" y="185.6" width="4.5" height="4.5"/><rect x="77.2" y="191.3" width="4.5" height="4.5"/><rect x="81.2" y="202.4" width="4.5" height="4.5"/><rect x="85.1" y="192.2" width="4.5" height="4.5"/><rect x="89.1" y="188.7" width="4.5" height="4.5"/><rect x="93.0" y="191.2" width="4.5" height="4.5"/><rect x="97.0" y="203.6" width="4.5" height="4.5"/><rect x="101.0" y="184.3" width="4.5" height="4.5"/><rect x="104.9" y="187.4" width="4.5" height="4.5"/><rect x="108.9" y="169.4" width="4.5" height="4.5"/><rect x="112.8" y="179.4" width="4.5" height="4.5"/><rect x="116.8" y="177.5" width="4.5" height="4.5"/><rect x="120.8" y="190.9" width="4.5" height="4.5"/><rect x="124.7" y="179.1" width="4.5" height="4.5"/><rect x="128.7" y="185.3" width="4.5" height="4.5"/><rect x="132.6" y="176.0" width="4.5" height="4.5"/><rect x="136.6" y="172.6" width="4.5" height="4.5"/><rect x="140.6" y="191.3" width="4.5" height="4.5"/><rect x="144.5" y="185.2" width="4.5" height="4.5"/><rect x="148.5" y="192.1" width="4.5" height="4.5"/><rect x="152.4" y="174.5" width="4.5" height="4.5"/><rect x="156.4" y="185.8" width="4.5" height="4.5"/><rect x="160.3" y="166.6" width="4.5" height="4.5"/><rect x="164.3" y="177.7" width="4.5" height="4.5"/><rect x="168.3" y="181.7" width="4.5" height="4.5"/><rect x="172.2" y="191.0" width="4.5" height="4.5"/><rect x="176.2" y="180.6" width="4.5" height="4.5"/><rect x="180.2" y="177.2" width="4.5" height="4.5"/><rect x="184.1" y="189.5" width="4.5" height="4.5"/><rect x="188.1" y="178.4" width="4.5" height="4.5"/><rect x="192.0" y="179.4" width="4.5" height="4.5"/><rect x="196.0" y="193.5" width="4.5" height="4.5"/><rect x="199.9" y="184.6" width="4.5" height="4.5"/><rect x="203.9" y="179.5" width="4.5" height="4.5"/><rect x="207.9" y="183.7" width="4.5" height="4.5"/><rect x="211.8" y="185.5" width="4.5" height="4.5"/><rect x="215.8" y="178.4" width="4.5" height="4.5"/><rect x="219.8" y="178.0" width="4.5" height="4.5"/><rect x="223.7" y="201.6" width="4.5" height="4.5"/><rect x="227.7" y="225.7" width="4.5" height="4.5"/><rect x="231.6" y="182.5" width="4.5" height="4.5"/><rect x="235.6" y="179.4" width="4.5" height="4.5"/><rect x="239.5" y="194.7" width="4.5" height="4.5"/><rect x="243.5" y="194.5" width="4.5" height="4.5"/><rect x="247.5" y="184.1" width="4.5" height="4.5"/><rect x="251.4" y="189.9" width="4.5" height="4.5"/><rect x="255.4" y="196.9" width="4.5" height="4.5"/><rect x="259.4" y="192.8" width="4.5" height="4.5"/><rect x="263.3" y="196.5" width="4.5" height="4.5"/><rect x="267.3" y="219.7" width="4.5" height="4.5"/><rect x="271.2" y="201.6" width="4.5" height="4.5"/><rect x="275.2" y="193.9" width="4.5" height="4.5"/><rect x="279.2" y="192.8" width="4.5" height="4.5"/><rect x="283.1" y="176.4" width="4.5" height="4.5"/><rect x="287.1" y="194.6" width="4.5" height="4.5"/><rect x="291.0" y="185.4" width="4.5" height="4.5"/><rect x="295.0" y="205.6" width="4.5" height="4.5"/><rect x="298.9" y="203.1" width="4.5" height="4.5"/><rect x="302.9" y="190.5" width="4.5" height="4.5"/><rect x="306.9" y="212.6" width="4.5" height="4.5"/><rect x="310.8" y="197.7" width="4.5" height="4.5"/><rect x="314.8" y="196.4" width="4.5" height="4.5"/><rect x="318.8" y="184.8" width="4.5" height="4.5"/><rect x="322.7" y="185.5" width="4.5" height="4.5"/><rect x="326.7" y="191.5" width="4.5" height="4.5"/><rect x="330.6" y="200.5" width="4.5" height="4.5"/><rect x="334.6" y="198.7" width="4.5" height="4.5"/><rect x="338.6" y="201.8" width="4.5" height="4.5"/><rect x="342.5" y="206.3" width="4.5" height="4.5"/><rect x="346.5" y="205.6" width="4.5" height="4.5"/><rect x="350.4" y="204.2" width="4.5" height="4.5"/><rect x="354.4" y="194.2" width="4.5" height="4.5"/><rect x="358.4" y="204.3" width="4.5" height="4.5"/><rect x="362.3" y="201.4" width="4.5" height="4.5"/><rect x="366.3" y="212.6" width="4.5" height="4.5"/><rect x="370.2" y="199.0" width="4.5" height="4.5"/><rect x="374.2" y="181.4" width="4.5" height="4.5"/><rect x="378.2" y="177.5" width="4.5" height="4.5"/><rect x="382.1" y="186.1" width="4.5" height="4.5"/><rect x="386.1" y="199.0" width="4.5" height="4.5"/><rect x="390.0" y="188.7" width="4.5" height="4.5"/><rect x="394.0" y="186.0" width="4.5" height="4.5"/><rect x="398.0" y="208.4" width="4.5" height="4.5"/><rect x="401.9" y="244.8" width="4.5" height="4.5"/><rect x="405.9" y="193.3" width="4.5" height="4.5"/><rect x="409.8" y="190.6" width="4.5" height="4.5"/></g>
<polyline points="67.6,192.3 71.5,200.1 75.5,185.0 79.4,190.7 83.4,198.9 87.4,191.2 91.3,193.6 95.3,189.1 99.2,202.1 103.2,192.5 107.2,186.6 111.1,165.3 115.1,185.1 119.0,181.7 123.0,189.9 127.0,178.4 130.9,184.1 134.9,175.1 138.8,173.3 142.8,190.7 146.8,190.5 150.7,192.1 154.7,177.6 158.6,177.6 162.6,171.6 166.6,197.8 170.5,187.0 174.5,190.5 178.4,179.7 182.4,183.2 186.4,192.7 190.3,184.7 194.3,185.5 198.2,216.9 202.2,183.7 206.2,182.7 210.1,181.7 214.1,190.8 218.0,183.8 222.0,179.7 226.0,208.7 229.9,208.9 233.9,187.5 237.8,190.6 241.8,193.8 245.8,192.7 249.7,182.7 253.7,187.7 257.6,194.8 261.6,191.7 265.6,196.7 269.5,198.9 273.5,193.8 277.4,192.7 281.4,191.7 285.4,181.7 289.3,195.7 293.3,192.0 297.2,204.9 301.2,208.9 305.2,188.8 309.1,206.5 313.1,216.9 317.0,195.8 321.0,187.1 325.0,190.2 328.9,198.5 332.9,199.8 336.8,195.8 340.8,200.8 344.8,201.8 348.7,208.3 352.7,202.8 356.6,196.7 360.6,208.1 364.6,198.8 368.5,211.4 372.5,204.8 376.4,186.5 380.4,180.2 384.4,196.3 388.3,215.4 392.3,185.9 396.2,184.8 400.2,213.5 404.2,220.1 408.1,198.9 412.1,192.2" fill="none" stroke="#f2be52" stroke-width="0.8" stroke-linejoin="round"/>
<g fill="#ffa514"><rect x="65.3" y="190.1" width="4.5" height="4.5"/><rect x="69.3" y="197.9" width="4.5" height="4.5"/><rect x="73.2" y="182.7" width="4.5" height="4.5"/><rect x="77.2" y="188.4" width="4.5" height="4.5"/><rect x="81.2" y="196.6" width="4.5" height="4.5"/><rect x="85.1" y="188.9" width="4.5" height="4.5"/><rect x="89.1" y="191.4" width="4.5" height="4.5"/><rect x="93.0" y="186.8" width="4.5" height="4.5"/><rect x="97.0" y="199.9" width="4.5" height="4.5"/><rect x="101.0" y="190.2" width="4.5" height="4.5"/><rect x="104.9" y="184.3" width="4.5" height="4.5"/><rect x="108.9" y="163.1" width="4.5" height="4.5"/><rect x="112.8" y="182.8" width="4.5" height="4.5"/><rect x="116.8" y="179.4" width="4.5" height="4.5"/><rect x="120.8" y="187.6" width="4.5" height="4.5"/><rect x="124.7" y="176.2" width="4.5" height="4.5"/><rect x="128.7" y="181.9" width="4.5" height="4.5"/><rect x="132.6" y="172.9" width="4.5" height="4.5"/><rect x="136.6" y="171.0" width="4.5" height="4.5"/><rect x="140.6" y="188.4" width="4.5" height="4.5"/><rect x="144.5" y="188.3" width="4.5" height="4.5"/><rect x="148.5" y="189.8" width="4.5" height="4.5"/><rect x="152.4" y="175.4" width="4.5" height="4.5"/><rect x="156.4" y="175.4" width="4.5" height="4.5"/><rect x="160.3" y="169.4" width="4.5" height="4.5"/><rect x="164.3" y="195.5" width="4.5" height="4.5"/><rect x="168.3" y="184.7" width="4.5" height="4.5"/><rect x="172.2" y="188.3" width="4.5" height="4.5"/><rect x="176.2" y="177.4" width="4.5" height="4.5"/><rect x="180.2" y="180.9" width="4.5" height="4.5"/><rect x="184.1" y="190.5" width="4.5" height="4.5"/><rect x="188.1" y="182.5" width="4.5" height="4.5"/><rect x="192.0" y="183.2" width="4.5" height="4.5"/><rect x="196.0" y="214.7" width="4.5" height="4.5"/><rect x="199.9" y="181.4" width="4.5" height="4.5"/><rect x="203.9" y="180.4" width="4.5" height="4.5"/><rect x="207.9" y="179.4" width="4.5" height="4.5"/><rect x="211.8" y="188.6" width="4.5" height="4.5"/><rect x="215.8" y="181.5" width="4.5" height="4.5"/><rect x="219.8" y="177.5" width="4.5" height="4.5"/><rect x="223.7" y="206.5" width="4.5" height="4.5"/><rect x="227.7" y="206.6" width="4.5" height="4.5"/><rect x="231.6" y="185.3" width="4.5" height="4.5"/><rect x="235.6" y="188.3" width="4.5" height="4.5"/><rect x="239.5" y="191.5" width="4.5" height="4.5"/><rect x="243.5" y="190.5" width="4.5" height="4.5"/><rect x="247.5" y="180.4" width="4.5" height="4.5"/><rect x="251.4" y="185.5" width="4.5" height="4.5"/><rect x="255.4" y="192.5" width="4.5" height="4.5"/><rect x="259.4" y="189.5" width="4.5" height="4.5"/><rect x="263.3" y="194.4" width="4.5" height="4.5"/><rect x="267.3" y="196.6" width="4.5" height="4.5"/><rect x="271.2" y="191.5" width="4.5" height="4.5"/><rect x="275.2" y="190.5" width="4.5" height="4.5"/><rect x="279.2" y="189.5" width="4.5" height="4.5"/><rect x="283.1" y="179.4" width="4.5" height="4.5"/><rect x="287.1" y="193.4" width="4.5" height="4.5"/><rect x="291.0" y="189.8" width="4.5" height="4.5"/><rect x="295.0" y="202.7" width="4.5" height="4.5"/><rect x="298.9" y="206.6" width="4.5" height="4.5"/><rect x="302.9" y="186.5" width="4.5" height="4.5"/><rect x="306.9" y="204.2" width="4.5" height="4.5"/><rect x="310.8" y="214.7" width="4.5" height="4.5"/><rect x="314.8" y="193.5" width="4.5" height="4.5"/><rect x="318.8" y="184.9" width="4.5" height="4.5"/><rect x="322.7" y="187.9" width="4.5" height="4.5"/><rect x="326.7" y="196.2" width="4.5" height="4.5"/><rect x="330.6" y="197.5" width="4.5" height="4.5"/><rect x="334.6" y="193.5" width="4.5" height="4.5"/><rect x="338.6" y="198.5" width="4.5" height="4.5"/><rect x="342.5" y="199.6" width="4.5" height="4.5"/><rect x="346.5" y="206.1" width="4.5" height="4.5"/><rect x="350.4" y="200.6" width="4.5" height="4.5"/><rect x="354.4" y="194.5" width="4.5" height="4.5"/><rect x="358.4" y="205.9" width="4.5" height="4.5"/><rect x="362.3" y="196.5" width="4.5" height="4.5"/><rect x="366.3" y="209.2" width="4.5" height="4.5"/><rect x="370.2" y="202.5" width="4.5" height="4.5"/><rect x="374.2" y="184.2" width="4.5" height="4.5"/><rect x="378.2" y="177.9" width="4.5" height="4.5"/><rect x="382.1" y="194.0" width="4.5" height="4.5"/><rect x="386.1" y="213.1" width="4.5" height="4.5"/><rect x="390.0" y="183.6" width="4.5" height="4.5"/><rect x="394.0" y="182.6" width="4.5" height="4.5"/><rect x="398.0" y="211.3" width="4.5" height="4.5"/><rect x="401.9" y="217.8" width="4.5" height="4.5"/><rect x="405.9" y="196.7" width="4.5" height="4.5"/><rect x="409.8" y="189.9" width="4.5" height="4.5"/></g>
<polyline points="67.6,196.4 71.5,206.2 75.5,190.2 79.4,198.1 83.4,209.5 87.4,198.9 91.3,194.0 95.3,194.0 99.2,208.7 103.2,198.1 107.2,194.8 111.1,171.9 115.1,187.4 119.0,184.1 123.0,194.8 127.0,186.6 130.9,190.7 134.9,180.0 138.8,175.1 142.8,196.4 146.8,193.1 150.7,194.8 154.7,174.6 158.6,186.7 162.6,168.6 166.6,187.7 170.5,185.7 174.5,192.7 178.4,183.7 182.4,182.7 186.4,187.7 190.3,183.7 194.3,190.7 198.2,194.8 202.2,190.7 206.2,179.7 210.1,188.7 214.1,192.7 218.0,184.7 222.0,179.7 226.0,206.8 229.9,199.8 233.9,186.7 237.8,197.8 241.8,197.8 245.8,197.8 249.7,186.7 253.7,194.8 257.6,201.8 261.6,197.8 265.6,194.8 269.5,199.8 273.5,203.8 277.4,198.8 281.4,205.8 285.4,183.7 289.3,200.8 293.3,190.7 297.2,197.8 301.2,197.8 305.2,192.7 309.1,196.8 313.1,199.8 317.0,200.8 321.0,186.7 325.0,192.7 328.9,199.8 332.9,202.8 336.8,203.8 340.8,205.8 344.8,206.8 348.7,206.8 352.7,205.8 356.6,198.8 360.6,209.9 364.6,207.8 368.5,208.9 372.5,188.4 376.4,186.0 380.4,182.5 384.4,195.4 388.3,196.6 392.3,190.7 396.2,189.5 400.2,234.1 404.2,203.6 408.1,193.1 412.1,193.1" fill="none" stroke="#40e4e4" stroke-width="0.8" stroke-linejoin="round"/>
<g fill="#14f0f0"><rect x="65.3" y="194.2" width="4.5" height="4.5"/><rect x="69.3" y="204.0" width="4.5" height="4.5"/><rect x="73.2" y="187.9" width="4.5" height="4.5"/><rect x="77.2" y="195.8" width="4.5" height="4.5"/><rect x="81.2" y="207.3" width="4.5" height="4.5"/><rect x="85.1" y="196.6" width="4.5" height="4.5"/><rect x="89.1" y="191.7" width="4.5" height="4.5"/><rect x="93.0" y="191.7" width="4.5" height="4.5"/><rect x="97.0" y="206.4" width="4.5" height="4.5"/><rect x="101.0" y="195.8" width="4.5" height="4.5"/><rect x="104.9" y="192.5" width="4.5" height="4.5"/><rect x="108.9" y="169.6" width="4.5" height="4.5"/><rect x="112.8" y="185.2" width="4.5" height="4.5"/><rect x="116.8" y="181.9" width="4.5" height="4.5"/><rect x="120.8" y="192.5" width="4.5" height="4.5"/><rect x="124.7" y="184.3" width="4.5" height="4.5"/><rect x="128.7" y="188.4" width="4.5" height="4.5"/><rect x="132.6" y="177.8" width="4.5" height="4.5"/><rect x="136.6" y="172.9" width="4.5" height="4.5"/><rect x="140.6" y="194.2" width="4.5" height="4.5"/><rect x="144.5" y="190.9" width="4.5" height="4.5"/><rect x="148.5" y="192.5" width="4.5" height="4.5"/><rect x="152.4" y="172.4" width="4.5" height="4.5"/><rect x="156.4" y="184.5" width="4.5" height="4.5"/><rect x="160.3" y="166.3" width="4.5" height="4.5"/><rect x="164.3" y="185.5" width="4.5" height="4.5"/><rect x="168.3" y="183.4" width="4.5" height="4.5"/><rect x="172.2" y="190.5" width="4.5" height="4.5"/><rect x="176.2" y="181.4" width="4.5" height="4.5"/><rect x="180.2" y="180.4" width="4.5" height="4.5"/><rect x="184.1" y="185.5" width="4.5" height="4.5"/><rect x="188.1" y="181.4" width="4.5" height="4.5"/><rect x="192.0" y="188.5" width="4.5" height="4.5"/><rect x="196.0" y="192.5" width="4.5" height="4.5"/><rect x="199.9" y="188.5" width="4.5" height="4.5"/><rect x="203.9" y="177.4" width="4.5" height="4.5"/><rect x="207.9" y="186.5" width="4.5" height="4.5"/><rect x="211.8" y="190.5" width="4.5" height="4.5"/><rect x="215.8" y="182.4" width="4.5" height="4.5"/><rect x="219.8" y="177.4" width="4.5" height="4.5"/><rect x="223.7" y="204.6" width="4.5" height="4.5"/><rect x="227.7" y="197.5" width="4.5" height="4.5"/><rect x="231.6" y="184.5" width="4.5" height="4.5"/><rect x="235.6" y="195.5" width="4.5" height="4.5"/><rect x="239.5" y="195.5" width="4.5" height="4.5"/><rect x="243.5" y="195.5" width="4.5" height="4.5"/><rect x="247.5" y="184.5" width="4.5" height="4.5"/><rect x="251.4" y="192.5" width="4.5" height="4.5"/><rect x="255.4" y="199.6" width="4.5" height="4.5"/><rect x="259.4" y="195.5" width="4.5" height="4.5"/><rect x="263.3" y="192.5" width="4.5" height="4.5"/><rect x="267.3" y="197.5" width="4.5" height="4.5"/><rect x="271.2" y="201.6" width="4.5" height="4.5"/><rect x="275.2" y="196.5" width="4.5" height="4.5"/><rect x="279.2" y="203.6" width="4.5" height="4.5"/><rect x="283.1" y="181.4" width="4.5" height="4.5"/><rect x="287.1" y="198.5" width="4.5" height="4.5"/><rect x="291.0" y="188.5" width="4.5" height="4.5"/><rect x="295.0" y="195.5" width="4.5" height="4.5"/><rect x="298.9" y="195.5" width="4.5" height="4.5"/><rect x="302.9" y="190.5" width="4.5" height="4.5"/><rect x="306.9" y="194.5" width="4.5" height="4.5"/><rect x="310.8" y="197.5" width="4.5" height="4.5"/><rect x="314.8" y="198.5" width="4.5" height="4.5"/><rect x="318.8" y="184.5" width="4.5" height="4.5"/><rect x="322.7" y="190.5" width="4.5" height="4.5"/><rect x="326.7" y="197.5" width="4.5" height="4.5"/><rect x="330.6" y="200.6" width="4.5" height="4.5"/><rect x="334.6" y="201.6" width="4.5" height="4.5"/><rect x="338.6" y="203.6" width="4.5" height="4.5"/><rect x="342.5" y="204.6" width="4.5" height="4.5"/><rect x="346.5" y="204.6" width="4.5" height="4.5"/><rect x="350.4" y="203.6" width="4.5" height="4.5"/><rect x="354.4" y="196.5" width="4.5" height="4.5"/><rect x="358.4" y="207.6" width="4.5" height="4.5"/><rect x="362.3" y="205.6" width="4.5" height="4.5"/><rect x="366.3" y="206.6" width="4.5" height="4.5"/><rect x="370.2" y="186.1" width="4.5" height="4.5"/><rect x="374.2" y="183.8" width="4.5" height="4.5"/><rect x="378.2" y="180.2" width="4.5" height="4.5"/><rect x="382.1" y="193.2" width="4.5" height="4.5"/><rect x="386.1" y="194.3" width="4.5" height="4.5"/><rect x="390.0" y="188.5" width="4.5" height="4.5"/><rect x="394.0" y="187.3" width="4.5" height="4.5"/><rect x="398.0" y="231.9" width="4.5" height="4.5"/><rect x="401.9" y="201.4" width="4.5" height="4.5"/><rect x="405.9" y="190.8" width="4.5" height="4.5"/><rect x="409.8" y="190.8" width="4.5" height="4.5"/></g>
</g>
<rect x="63.6" y="154.0" width="356.0" height="104.0" fill="none" stroke="#1e1e1e" stroke-width="1.5"/>
<line x1="63.6" y1="258.0" x2="63.6" y2="268.0" stroke="#1e1e1e" stroke-width="1.5"/>
<line x1="107.2" y1="258.0" x2="107.2" y2="268.0" stroke="#1e1e1e" stroke-width="1.5"/>
<line x1="150.7" y1="258.0" x2="150.7" y2="268.0" stroke="#1e1e1e" stroke-width="1.5"/>
<line x1="194.3" y1="258.0" x2="194.3" y2="268.0" stroke="#1e1e1e" stroke-width="1.5"/>
<line x1="237.8" y1="258.0" x2="237.8" y2="268.0" stroke="#1e1e1e" stroke-width="1.5"/>
<line x1="281.4" y1="258.0" x2="281.4" y2="268.0" stroke="#1e1e1e" stroke-width="1.5"/>
<line x1="325.0" y1="258.0" x2="325.0" y2="268.0" stroke="#1e1e1e" stroke-width="1.5"/>
<line x1="368.5" y1="258.0" x2="368.5" y2="268.0" stroke="#1e1e1e" stroke-width="1.5"/>
<line x1="412.1" y1="258.0" x2="412.1" y2="268.0" stroke="#1e1e1e" stroke-width="1.5"/>
<line x1="53.5" y1="154.1" x2="63.6" y2="154.1" stroke="#1e1e1e" stroke-width="1.5"/>
<text x="46.0" y="157.1" class="yt">160</text>
<line x1="53.5" y1="172.9" x2="63.6" y2="172.9" stroke="#1e1e1e" stroke-width="1.5"/>
<text x="46.0" y="175.9" class="yt">140</text>
<line x1="53.5" y1="191.9" x2="63.6" y2="191.9" stroke="#1e1e1e" stroke-width="1.5"/>
<text x="46.0" y="194.9" class="yt">120</text>
<line x1="53.5" y1="210.8" x2="63.6" y2="210.8" stroke="#1e1e1e" stroke-width="1.5"/>
<text x="46.0" y="213.8" class="yt">100</text>
<line x1="53.5" y1="229.7" x2="63.6" y2="229.7" stroke="#1e1e1e" stroke-width="1.5"/>
<text x="46.0" y="232.7" class="yt">80</text>
<line x1="53.5" y1="248.6" x2="63.6" y2="248.6" stroke="#1e1e1e" stroke-width="1.5"/>
<text x="46.0" y="251.6" class="yt">60</text>
<line x1="58.8" y1="163.5" x2="63.6" y2="163.5" stroke="#1e1e1e" stroke-width="1.5"/>
<line x1="58.8" y1="182.4" x2="63.6" y2="182.4" stroke="#1e1e1e" stroke-width="1.5"/>
<line x1="58.8" y1="201.3" x2="63.6" y2="201.3" stroke="#1e1e1e" stroke-width="1.5"/>
<line x1="58.8" y1="220.2" x2="63.6" y2="220.2" stroke="#1e1e1e" stroke-width="1.5"/>
<line x1="58.8" y1="239.1" x2="63.6" y2="239.1" stroke="#1e1e1e" stroke-width="1.5"/>
<line x1="58.8" y1="258.0" x2="63.6" y2="258.0" stroke="#1e1e1e" stroke-width="1.5"/>
<text x="62.6" y="147.3" class="pl">b</text>
<text transform="translate(19.6,206) rotate(-90)" class="al">SOS</text>
<g>
<polyline points="67.6,356.9 71.5,360.3 75.5,343.8 79.4,348.9 83.4,360.9 87.4,352.3 91.3,354.9 95.3,351.5 99.2,363.5 103.2,349.5 107.2,348.2 111.1,327.3 115.1,342.8 119.0,334.8 123.0,345.4 127.0,337.8 130.9,344.4 134.9,331.3 138.8,336.8 142.8,350.3 146.8,347.4 150.7,347.4 154.7,339.8 158.6,342.2 162.6,328.7 166.6,358.3 170.5,349.5 174.5,346.2 178.4,343.8 182.4,336.8 186.4,351.9 190.3,341.8 194.3,341.4 198.2,384.1 202.2,347.4 206.2,354.3 210.1,354.3 214.1,343.8 218.0,342.2 222.0,343.8 226.0,347.8 229.9,371.6 233.9,351.9 237.8,355.5 241.8,352.9 245.8,352.9 249.7,340.8 253.7,346.8 257.6,355.5 261.6,350.3 265.6,354.9 269.5,349.5 273.5,358.9 277.4,352.9 281.4,349.5 285.4,342.8 289.3,355.5 293.3,345.8 297.2,360.3 301.2,365.0 305.2,346.2 309.1,358.9 313.1,371.0 317.0,359.9 321.0,342.2 325.0,349.9 328.9,360.3 332.9,365.0 336.8,358.9 340.8,359.5 344.8,366.0 348.7,365.0 352.7,366.0 356.6,360.9 360.6,370.4 364.6,358.9 368.5,366.0 372.5,366.4 376.4,357.9 380.4,344.8 384.4,353.5 388.3,376.0 392.3,351.3 396.2,348.0 400.2,349.1 404.2,342.4 408.1,354.7 412.1,364.7" fill="none" stroke="#f2be52" stroke-width="0.8" stroke-linejoin="round"/>
<g fill="#ffa514"><rect x="65.3" y="354.7" width="4.5" height="4.5"/><rect x="69.3" y="358.1" width="4.5" height="4.5"/><rect x="73.2" y="341.6" width="4.5" height="4.5"/><rect x="77.2" y="346.6" width="4.5" height="4.5"/><rect x="81.2" y="358.7" width="4.5" height="4.5"/><rect x="85.1" y="350.0" width="4.5" height="4.5"/><rect x="89.1" y="352.6" width="4.5" height="4.5"/><rect x="93.0" y="349.2" width="4.5" height="4.5"/><rect x="97.0" y="361.3" width="4.5" height="4.5"/><rect x="101.0" y="347.2" width="4.5" height="4.5"/><rect x="104.9" y="346.0" width="4.5" height="4.5"/><rect x="108.9" y="325.1" width="4.5" height="4.5"/><rect x="112.8" y="340.6" width="4.5" height="4.5"/><rect x="116.8" y="332.5" width="4.5" height="4.5"/><rect x="120.8" y="343.2" width="4.5" height="4.5"/><rect x="124.7" y="335.5" width="4.5" height="4.5"/><rect x="128.7" y="342.2" width="4.5" height="4.5"/><rect x="132.6" y="329.1" width="4.5" height="4.5"/><rect x="136.6" y="334.5" width="4.5" height="4.5"/><rect x="140.6" y="348.0" width="4.5" height="4.5"/><rect x="144.5" y="345.2" width="4.5" height="4.5"/><rect x="148.5" y="345.2" width="4.5" height="4.5"/><rect x="152.4" y="337.5" width="4.5" height="4.5"/><rect x="156.4" y="340.0" width="4.5" height="4.5"/><rect x="160.3" y="326.5" width="4.5" height="4.5"/><rect x="164.3" y="356.1" width="4.5" height="4.5"/><rect x="168.3" y="347.2" width="4.5" height="4.5"/><rect x="172.2" y="344.0" width="4.5" height="4.5"/><rect x="176.2" y="341.6" width="4.5" height="4.5"/><rect x="180.2" y="334.5" width="4.5" height="4.5"/><rect x="184.1" y="349.6" width="4.5" height="4.5"/><rect x="188.1" y="339.6" width="4.5" height="4.5"/><rect x="192.0" y="339.2" width="4.5" height="4.5"/><rect x="196.0" y="381.8" width="4.5" height="4.5"/><rect x="199.9" y="345.2" width="4.5" height="4.5"/><rect x="203.9" y="352.0" width="4.5" height="4.5"/><rect x="207.9" y="352.0" width="4.5" height="4.5"/><rect x="211.8" y="341.6" width="4.5" height="4.5"/><rect x="215.8" y="340.0" width="4.5" height="4.5"/><rect x="219.8" y="341.6" width="4.5" height="4.5"/><rect x="223.7" y="345.6" width="4.5" height="4.5"/><rect x="227.7" y="369.4" width="4.5" height="4.5"/><rect x="231.6" y="349.6" width="4.5" height="4.5"/><rect x="235.6" y="353.2" width="4.5" height="4.5"/><rect x="239.5" y="350.6" width="4.5" height="4.5"/><rect x="243.5" y="350.6" width="4.5" height="4.5"/><rect x="247.5" y="338.5" width="4.5" height="4.5"/><rect x="251.4" y="344.6" width="4.5" height="4.5"/><rect x="255.4" y="353.2" width="4.5" height="4.5"/><rect x="259.4" y="348.0" width="4.5" height="4.5"/><rect x="263.3" y="352.6" width="4.5" height="4.5"/><rect x="267.3" y="347.2" width="4.5" height="4.5"/><rect x="271.2" y="356.7" width="4.5" height="4.5"/><rect x="275.2" y="350.6" width="4.5" height="4.5"/><rect x="279.2" y="347.2" width="4.5" height="4.5"/><rect x="283.1" y="340.6" width="4.5" height="4.5"/><rect x="287.1" y="353.2" width="4.5" height="4.5"/><rect x="291.0" y="343.6" width="4.5" height="4.5"/><rect x="295.0" y="358.1" width="4.5" height="4.5"/><rect x="298.9" y="362.7" width="4.5" height="4.5"/><rect x="302.9" y="344.0" width="4.5" height="4.5"/><rect x="306.9" y="356.7" width="4.5" height="4.5"/><rect x="310.8" y="368.7" width="4.5" height="4.5"/><rect x="314.8" y="357.7" width="4.5" height="4.5"/><rect x="318.8" y="340.0" width="4.5" height="4.5"/><rect x="322.7" y="347.6" width="4.5" height="4.5"/><rect x="326.7" y="358.1" width="4.5" height="4.5"/><rect x="330.6" y="362.7" width="4.5" height="4.5"/><rect x="334.6" y="356.7" width="4.5" height="4.5"/><rect x="338.6" y="357.3" width="4.5" height="4.5"/><rect x="342.5" y="363.7" width="4.5" height="4.5"/><rect x="346.5" y="362.7" width="4.5" height="4.5"/><rect x="350.4" y="363.7" width="4.5" height="4.5"/><rect x="354.4" y="358.7" width="4.5" height="4.5"/><rect x="358.4" y="368.1" width="4.5" height="4.5"/><rect x="362.3" y="356.7" width="4.5" height="4.5"/><rect x="366.3" y="363.7" width="4.5" height="4.5"/><rect x="370.2" y="364.1" width="4.5" height="4.5"/><rect x="374.2" y="355.7" width="4.5" height="4.5"/><rect x="378.2" y="342.6" width="4.5" height="4.5"/><rect x="382.1" y="351.2" width="4.5" height="4.5"/><rect x="386.1" y="373.8" width="4.5" height="4.5"/><rect x="390.0" y="349.1" width="4.5" height="4.5"/><rect x="394.0" y="345.7" width="4.5" height="4.5"/><rect x="398.0" y="346.9" width="4.5" height="4.5"/><rect x="401.9" y="340.2" width="4.5" height="4.5"/><rect x="405.9" y="352.4" width="4.5" height="4.5"/><rect x="409.8" y="362.5" width="4.5" height="4.5"/></g>
<polyline points="67.6,337.8 71.5,341.4 75.5,337.2 79.4,337.2 83.4,336.8 87.4,335.8 91.3,334.8 95.3,335.8 99.2,337.8 103.2,336.8 107.2,329.7 111.1,324.7 115.1,332.7 119.0,323.3 123.0,331.3 127.0,331.3 130.9,331.7 134.9,331.3 138.8,329.7 142.8,333.3 146.8,332.7 150.7,321.7 154.7,314.6 158.6,313.6 162.6,308.6 166.6,320.7 170.5,318.7 174.5,319.7 178.4,310.6 182.4,308.6 186.4,325.7 190.3,316.6 194.3,319.7 198.2,325.7 202.2,320.7 206.2,324.7 210.1,321.7 214.1,320.7 218.0,319.7 222.0,318.7 226.0,330.7 229.9,324.7 233.9,315.6 237.8,316.6 241.8,323.7 245.8,321.7 249.7,319.7 253.7,321.7 257.6,321.7 261.6,319.7 265.6,317.6 269.5,319.7 273.5,321.7 277.4,316.6 281.4,317.6 285.4,314.6 289.3,323.7 293.3,325.7 297.2,328.7 301.2,335.8 305.2,330.7 309.1,338.2 313.1,332.7 317.0,333.8 321.0,321.7 325.0,327.7 328.9,330.7 332.9,333.8 336.8,335.8 340.8,334.8 344.8,337.8 348.7,336.8 352.7,338.8 356.6,337.8 360.6,341.8 364.6,338.8 368.5,338.8 372.5,308.6 376.4,317.6 380.4,313.6 384.4,322.7 388.3,315.6 392.3,316.7 396.2,315.2 400.2,311.1 404.2,317.8 408.1,312.3 412.1,312.3" fill="none" stroke="#2a2aa0" stroke-width="0.8" stroke-linejoin="round"/>
<g fill="#0a0adc"><rect x="65.3" y="335.5" width="4.5" height="4.5"/><rect x="69.3" y="339.2" width="4.5" height="4.5"/><rect x="73.2" y="334.9" width="4.5" height="4.5"/><rect x="77.2" y="334.9" width="4.5" height="4.5"/><rect x="81.2" y="334.5" width="4.5" height="4.5"/><rect x="85.1" y="333.5" width="4.5" height="4.5"/><rect x="89.1" y="332.5" width="4.5" height="4.5"/><rect x="93.0" y="333.5" width="4.5" height="4.5"/><rect x="97.0" y="335.5" width="4.5" height="4.5"/><rect x="101.0" y="334.5" width="4.5" height="4.5"/><rect x="104.9" y="327.5" width="4.5" height="4.5"/><rect x="108.9" y="322.4" width="4.5" height="4.5"/><rect x="112.8" y="330.5" width="4.5" height="4.5"/><rect x="116.8" y="321.0" width="4.5" height="4.5"/><rect x="120.8" y="329.1" width="4.5" height="4.5"/><rect x="124.7" y="329.1" width="4.5" height="4.5"/><rect x="128.7" y="329.5" width="4.5" height="4.5"/><rect x="132.6" y="329.1" width="4.5" height="4.5"/><rect x="136.6" y="327.5" width="4.5" height="4.5"/><rect x="140.6" y="331.1" width="4.5" height="4.5"/><rect x="144.5" y="330.5" width="4.5" height="4.5"/><rect x="148.5" y="319.4" width="4.5" height="4.5"/><rect x="152.4" y="312.4" width="4.5" height="4.5"/><rect x="156.4" y="311.4" width="4.5" height="4.5"/><rect x="160.3" y="306.3" width="4.5" height="4.5"/><rect x="164.3" y="318.4" width="4.5" height="4.5"/><rect x="168.3" y="316.4" width="4.5" height="4.5"/><rect x="172.2" y="317.4" width="4.5" height="4.5"/><rect x="176.2" y="308.3" width="4.5" height="4.5"/><rect x="180.2" y="306.3" width="4.5" height="4.5"/><rect x="184.1" y="323.4" width="4.5" height="4.5"/><rect x="188.1" y="314.4" width="4.5" height="4.5"/><rect x="192.0" y="317.4" width="4.5" height="4.5"/><rect x="196.0" y="323.4" width="4.5" height="4.5"/><rect x="199.9" y="318.4" width="4.5" height="4.5"/><rect x="203.9" y="322.4" width="4.5" height="4.5"/><rect x="207.9" y="319.4" width="4.5" height="4.5"/><rect x="211.8" y="318.4" width="4.5" height="4.5"/><rect x="215.8" y="317.4" width="4.5" height="4.5"/><rect x="219.8" y="316.4" width="4.5" height="4.5"/><rect x="223.7" y="328.5" width="4.5" height="4.5"/><rect x="227.7" y="322.4" width="4.5" height="4.5"/><rect x="231.6" y="313.4" width="4.5" height="4.5"/><rect x="235.6" y="314.4" width="4.5" height="4.5"/><rect x="239.5" y="321.4" width="4.5" height="4.5"/><rect x="243.5" y="319.4" width="4.5" height="4.5"/><rect x="247.5" y="317.4" width="4.5" height="4.5"/><rect x="251.4" y="319.4" width="4.5" height="4.5"/><rect x="255.4" y="319.4" width="4.5" height="4.5"/><rect x="259.4" y="317.4" width="4.5" height="4.5"/><rect x="263.3" y="315.4" width="4.5" height="4.5"/><rect x="267.3" y="317.4" width="4.5" height="4.5"/><rect x="271.2" y="319.4" width="4.5" height="4.5"/><rect x="275.2" y="314.4" width="4.5" height="4.5"/><rect x="279.2" y="315.4" width="4.5" height="4.5"/><rect x="283.1" y="312.4" width="4.5" height="4.5"/><rect x="287.1" y="321.4" width="4.5" height="4.5"/><rect x="291.0" y="323.4" width="4.5" height="4.5"/><rect x="295.0" y="326.5" width="4.5" height="4.5"/><rect x="298.9" y="333.5" width="4.5" height="4.5"/><rect x="302.9" y="328.5" width="4.5" height="4.5"/><rect x="306.9" y="335.9" width="4.5" height="4.5"/><rect x="310.8" y="330.5" width="4.5" height="4.5"/><rect x="314.8" y="331.5" width="4.5" height="4.5"/><rect x="318.8" y="319.4" width="4.5" height="4.5"/><rect x="322.7" y="325.5" width="4.5" height="4.5"/><rect x="326.7" y="328.5" width="4.5" height="4.5"/><rect x="330.6" y="331.5" width="4.5" height="4.5"/><rect x="334.6" y="333.5" width="4.5" height="4.5"/><rect x="338.6" y="332.5" width="4.5" height="4.5"/><rect x="342.5" y="335.5" width="4.5" height="4.5"/><rect x="346.5" y="334.5" width="4.5" height="4.5"/><rect x="350.4" y="336.5" width="4.5" height="4.5"/><rect x="354.4" y="335.5" width="4.5" height="4.5"/><rect x="358.4" y="339.6" width="4.5" height="4.5"/><rect x="362.3" y="336.5" width="4.5" height="4.5"/><rect x="366.3" y="336.5" width="4.5" height="4.5"/><rect x="370.2" y="306.3" width="4.5" height="4.5"/><rect x="374.2" y="315.4" width="4.5" height="4.5"/><rect x="378.2" y="311.4" width="4.5" height="4.5"/><rect x="382.1" y="320.4" width="4.5" height="4.5"/><rect x="386.1" y="313.4" width="4.5" height="4.5"/><rect x="390.0" y="314.5" width="4.5" height="4.5"/><rect x="394.0" y="312.9" width="4.5" height="4.5"/><rect x="398.0" y="308.9" width="4.5" height="4.5"/><rect x="401.9" y="315.6" width="4.5" height="4.5"/><rect x="405.9" y="310.0" width="4.5" height="4.5"/><rect x="409.8" y="310.0" width="4.5" height="4.5"/></g>
<polyline points="67.6,329.6 71.5,332.3 75.5,323.2 79.4,328.3 83.4,338.8 87.4,334.8 91.3,326.7 95.3,331.4 99.2,340.2 103.2,332.0 107.2,323.9 111.1,305.9 115.1,316.7 119.0,319.8 123.0,325.2 127.0,323.1 130.9,323.3 134.9,315.5 138.8,314.2 142.8,329.6 146.8,321.4 150.7,316.7 154.7,309.7 158.6,315.4 162.6,303.6 166.6,320.5 170.5,318.8 174.5,322.6 178.4,319.8 182.4,319.5 186.4,317.1 190.3,318.9 194.3,318.7 198.2,348.9 202.2,320.9 206.2,321.2 210.1,324.5 214.1,324.8 218.0,318.0 222.0,318.4 226.0,333.6 229.9,338.8 233.9,318.8 237.8,318.9 241.8,323.3 245.8,328.1 249.7,322.3 253.7,324.7 257.6,334.0 261.6,332.2 265.6,332.1 269.5,330.8 273.5,335.3 277.4,331.4 281.4,324.5 285.4,320.5 289.3,327.8 293.3,325.2 297.2,330.6 301.2,329.3 305.2,330.1 309.1,337.2 313.1,334.5 317.0,333.2 321.0,324.1 325.0,325.2 328.9,332.9 332.9,336.2 336.8,336.1 340.8,339.0 344.8,342.4 348.7,343.6 352.7,341.9 356.6,349.2 360.6,348.9 364.6,341.6 368.5,339.8 372.5,319.1 376.4,323.0 380.4,316.8 384.4,330.4 388.3,335.1 392.3,325.4 396.2,318.6 400.2,334.2 404.2,351.3 408.1,329.9 412.1,322.7" fill="none" stroke="#e0a880" stroke-width="0.8" stroke-linejoin="round"/>
<g fill="#d2691e"><rect x="65.3" y="327.4" width="4.5" height="4.5"/><rect x="69.3" y="330.0" width="4.5" height="4.5"/><rect x="73.2" y="321.0" width="4.5" height="4.5"/><rect x="77.2" y="326.0" width="4.5" height="4.5"/><rect x="81.2" y="336.5" width="4.5" height="4.5"/><rect x="85.1" y="332.5" width="4.5" height="4.5"/><rect x="89.1" y="324.5" width="4.5" height="4.5"/><rect x="93.0" y="329.1" width="4.5" height="4.5"/><rect x="97.0" y="337.9" width="4.5" height="4.5"/><rect x="101.0" y="329.8" width="4.5" height="4.5"/><rect x="104.9" y="321.7" width="4.5" height="4.5"/><rect x="108.9" y="303.6" width="4.5" height="4.5"/><rect x="112.8" y="314.5" width="4.5" height="4.5"/><rect x="116.8" y="317.5" width="4.5" height="4.5"/><rect x="120.8" y="323.0" width="4.5" height="4.5"/><rect x="124.7" y="320.8" width="4.5" height="4.5"/><rect x="128.7" y="321.0" width="4.5" height="4.5"/><rect x="132.6" y="313.2" width="4.5" height="4.5"/><rect x="136.6" y="312.0" width="4.5" height="4.5"/><rect x="140.6" y="327.3" width="4.5" height="4.5"/><rect x="144.5" y="319.1" width="4.5" height="4.5"/><rect x="148.5" y="314.4" width="4.5" height="4.5"/><rect x="152.4" y="307.5" width="4.5" height="4.5"/><rect x="156.4" y="313.2" width="4.5" height="4.5"/><rect x="160.3" y="301.4" width="4.5" height="4.5"/><rect x="164.3" y="318.3" width="4.5" height="4.5"/><rect x="168.3" y="316.5" width="4.5" height="4.5"/><rect x="172.2" y="320.3" width="4.5" height="4.5"/><rect x="176.2" y="317.6" width="4.5" height="4.5"/><rect x="180.2" y="317.2" width="4.5" height="4.5"/><rect x="184.1" y="314.9" width="4.5" height="4.5"/><rect x="188.1" y="316.6" width="4.5" height="4.5"/><rect x="192.0" y="316.4" width="4.5" height="4.5"/><rect x="196.0" y="346.6" width="4.5" height="4.5"/><rect x="199.9" y="318.6" width="4.5" height="4.5"/><rect x="203.9" y="318.9" width="4.5" height="4.5"/><rect x="207.9" y="322.2" width="4.5" height="4.5"/><rect x="211.8" y="322.6" width="4.5" height="4.5"/><rect x="215.8" y="315.7" width="4.5" height="4.5"/><rect x="219.8" y="316.1" width="4.5" height="4.5"/><rect x="223.7" y="331.3" width="4.5" height="4.5"/><rect x="227.7" y="336.5" width="4.5" height="4.5"/><rect x="231.6" y="316.5" width="4.5" height="4.5"/><rect x="235.6" y="316.6" width="4.5" height="4.5"/><rect x="239.5" y="321.0" width="4.5" height="4.5"/><rect x="243.5" y="325.9" width="4.5" height="4.5"/><rect x="247.5" y="320.0" width="4.5" height="4.5"/><rect x="251.4" y="322.5" width="4.5" height="4.5"/><rect x="255.4" y="331.7" width="4.5" height="4.5"/><rect x="259.4" y="330.0" width="4.5" height="4.5"/><rect x="263.3" y="329.8" width="4.5" height="4.5"/><rect x="267.3" y="328.5" width="4.5" height="4.5"/><rect x="271.2" y="333.1" width="4.5" height="4.5"/><rect x="275.2" y="329.2" width="4.5" height="4.5"/><rect x="279.2" y="322.3" width="4.5" height="4.5"/><rect x="283.1" y="318.2" width="4.5" height="4.5"/><rect x="287.1" y="325.5" width="4.5" height="4.5"/><rect x="291.0" y="323.0" width="4.5" height="4.5"/><rect x="295.0" y="328.4" width="4.5" height="4.5"/><rect x="298.9" y="327.1" width="4.5" height="4.5"/><rect x="302.9" y="327.9" width="4.5" height="4.5"/><rect x="306.9" y="335.0" width="4.5" height="4.5"/><rect x="310.8" y="332.3" width="4.5" height="4.5"/><rect x="314.8" y="330.9" width="4.5" height="4.5"/><rect x="318.8" y="321.9" width="4.5" height="4.5"/><rect x="322.7" y="323.0" width="4.5" height="4.5"/><rect x="326.7" y="330.6" width="4.5" height="4.5"/><rect x="330.6" y="333.9" width="4.5" height="4.5"/><rect x="334.6" y="333.8" width="4.5" height="4.5"/><rect x="338.6" y="336.7" width="4.5" height="4.5"/><rect x="342.5" y="340.2" width="4.5" height="4.5"/><rect x="346.5" y="341.3" width="4.5" height="4.5"/><rect x="350.4" y="339.7" width="4.5" height="4.5"/><rect x="354.4" y="346.9" width="4.5" height="4.5"/><rect x="358.4" y="346.6" width="4.5" height="4.5"/><rect x="362.3" y="339.4" width="4.5" height="4.5"/><rect x="366.3" y="337.6" width="4.5" height="4.5"/><rect x="370.2" y="316.9" width="4.5" height="4.5"/><rect x="374.2" y="320.7" width="4.5" height="4.5"/><rect x="378.2" y="314.5" width="4.5" height="4.5"/><rect x="382.1" y="328.2" width="4.5" height="4.5"/><rect x="386.1" y="332.8" width="4.5" height="4.5"/><rect x="390.0" y="323.1" width="4.5" height="4.5"/><rect x="394.0" y="316.3" width="4.5" height="4.5"/><rect x="398.0" y="331.9" width="4.5" height="4.5"/><rect x="401.9" y="349.1" width="4.5" height="4.5"/><rect x="405.9" y="327.6" width="4.5" height="4.5"/><rect x="409.8" y="320.4" width="4.5" height="4.5"/></g>
<polyline points="67.6,330.8 71.5,332.8 75.5,324.4 79.4,328.8 83.4,335.5 87.4,333.2 91.3,329.1 95.3,327.7 99.2,339.9 103.2,326.7 107.2,323.9 111.1,308.1 115.1,318.9 119.0,314.6 123.0,323.9 127.0,321.5 130.9,324.5 134.9,313.6 138.8,310.6 142.8,330.1 146.8,322.3 150.7,316.5 154.7,309.6 158.6,312.6 162.6,305.9 166.6,319.1 170.5,316.6 174.5,317.6 178.4,318.8 182.4,315.6 186.4,320.4 190.3,318.6 194.3,320.9 198.2,335.8 202.2,320.6 206.2,320.5 210.1,320.7 214.1,323.1 218.0,318.3 222.0,316.6 226.0,341.8 229.9,339.8 233.9,319.5 237.8,322.1 241.8,323.8 245.8,326.4 249.7,321.0 253.7,323.7 257.6,335.0 261.6,328.7 265.6,328.7 269.5,331.7 273.5,332.7 277.4,329.8 281.4,324.7 285.4,318.1 289.3,325.7 293.3,327.0 297.2,329.7 301.2,329.7 305.2,325.3 309.1,340.1 313.1,334.2 317.0,331.7 321.0,321.6 325.0,326.3 328.9,330.8 332.9,335.5 336.8,338.0 340.8,335.8 344.8,342.3 348.7,338.8 352.7,341.6 356.6,349.6 360.6,348.0 364.6,337.8 368.5,337.8 372.5,317.0 376.4,323.7 380.4,318.2 384.4,328.3 388.3,337.9 392.3,322.3 396.2,314.5 400.2,333.6 404.2,345.8 408.1,332.0 412.1,324.4" fill="none" stroke="#40bc5c" stroke-width="0.8" stroke-linejoin="round"/>
<g fill="#00a01e"><rect x="65.3" y="328.5" width="4.5" height="4.5"/><rect x="69.3" y="330.5" width="4.5" height="4.5"/><rect x="73.2" y="322.2" width="4.5" height="4.5"/><rect x="77.2" y="326.5" width="4.5" height="4.5"/><rect x="81.2" y="333.3" width="4.5" height="4.5"/><rect x="85.1" y="330.9" width="4.5" height="4.5"/><rect x="89.1" y="326.9" width="4.5" height="4.5"/><rect x="93.0" y="325.5" width="4.5" height="4.5"/><rect x="97.0" y="337.6" width="4.5" height="4.5"/><rect x="101.0" y="324.5" width="4.5" height="4.5"/><rect x="104.9" y="321.7" width="4.5" height="4.5"/><rect x="108.9" y="305.8" width="4.5" height="4.5"/><rect x="112.8" y="316.7" width="4.5" height="4.5"/><rect x="116.8" y="312.4" width="4.5" height="4.5"/><rect x="120.8" y="321.6" width="4.5" height="4.5"/><rect x="124.7" y="319.3" width="4.5" height="4.5"/><rect x="128.7" y="322.2" width="4.5" height="4.5"/><rect x="132.6" y="311.4" width="4.5" height="4.5"/><rect x="136.6" y="308.3" width="4.5" height="4.5"/><rect x="140.6" y="327.8" width="4.5" height="4.5"/><rect x="144.5" y="320.0" width="4.5" height="4.5"/><rect x="148.5" y="314.3" width="4.5" height="4.5"/><rect x="152.4" y="307.4" width="4.5" height="4.5"/><rect x="156.4" y="310.4" width="4.5" height="4.5"/><rect x="160.3" y="303.6" width="4.5" height="4.5"/><rect x="164.3" y="316.9" width="4.5" height="4.5"/><rect x="168.3" y="314.4" width="4.5" height="4.5"/><rect x="172.2" y="315.4" width="4.5" height="4.5"/><rect x="176.2" y="316.5" width="4.5" height="4.5"/><rect x="180.2" y="313.4" width="4.5" height="4.5"/><rect x="184.1" y="318.2" width="4.5" height="4.5"/><rect x="188.1" y="316.3" width="4.5" height="4.5"/><rect x="192.0" y="318.6" width="4.5" height="4.5"/><rect x="196.0" y="333.5" width="4.5" height="4.5"/><rect x="199.9" y="318.4" width="4.5" height="4.5"/><rect x="203.9" y="318.2" width="4.5" height="4.5"/><rect x="207.9" y="318.4" width="4.5" height="4.5"/><rect x="211.8" y="320.8" width="4.5" height="4.5"/><rect x="215.8" y="316.0" width="4.5" height="4.5"/><rect x="219.8" y="314.4" width="4.5" height="4.5"/><rect x="223.7" y="339.6" width="4.5" height="4.5"/><rect x="227.7" y="337.5" width="4.5" height="4.5"/><rect x="231.6" y="317.2" width="4.5" height="4.5"/><rect x="235.6" y="319.9" width="4.5" height="4.5"/><rect x="239.5" y="321.6" width="4.5" height="4.5"/><rect x="243.5" y="324.1" width="4.5" height="4.5"/><rect x="247.5" y="318.8" width="4.5" height="4.5"/><rect x="251.4" y="321.4" width="4.5" height="4.5"/><rect x="255.4" y="332.7" width="4.5" height="4.5"/><rect x="259.4" y="326.5" width="4.5" height="4.5"/><rect x="263.3" y="326.5" width="4.5" height="4.5"/><rect x="267.3" y="329.5" width="4.5" height="4.5"/><rect x="271.2" y="330.5" width="4.5" height="4.5"/><rect x="275.2" y="327.6" width="4.5" height="4.5"/><rect x="279.2" y="322.4" width="4.5" height="4.5"/><rect x="283.1" y="315.8" width="4.5" height="4.5"/><rect x="287.1" y="323.4" width="4.5" height="4.5"/><rect x="291.0" y="324.7" width="4.5" height="4.5"/><rect x="295.0" y="327.5" width="4.5" height="4.5"/><rect x="298.9" y="327.4" width="4.5" height="4.5"/><rect x="302.9" y="323.0" width="4.5" height="4.5"/><rect x="306.9" y="337.8" width="4.5" height="4.5"/><rect x="310.8" y="331.9" width="4.5" height="4.5"/><rect x="314.8" y="329.5" width="4.5" height="4.5"/><rect x="318.8" y="319.3" width="4.5" height="4.5"/><rect x="322.7" y="324.0" width="4.5" height="4.5"/><rect x="326.7" y="328.5" width="4.5" height="4.5"/><rect x="330.6" y="333.2" width="4.5" height="4.5"/><rect x="334.6" y="335.8" width="4.5" height="4.5"/><rect x="338.6" y="333.5" width="4.5" height="4.5"/><rect x="342.5" y="340.1" width="4.5" height="4.5"/><rect x="346.5" y="336.5" width="4.5" height="4.5"/><rect x="350.4" y="339.4" width="4.5" height="4.5"/><rect x="354.4" y="347.4" width="4.5" height="4.5"/><rect x="358.4" y="345.8" width="4.5" height="4.5"/><rect x="362.3" y="335.5" width="4.5" height="4.5"/><rect x="366.3" y="335.5" width="4.5" height="4.5"/><rect x="370.2" y="314.8" width="4.5" height="4.5"/><rect x="374.2" y="321.5" width="4.5" height="4.5"/><rect x="378.2" y="316.0" width="4.5" height="4.5"/><rect x="382.1" y="326.0" width="4.5" height="4.5"/><rect x="386.1" y="335.7" width="4.5" height="4.5"/><rect x="390.0" y="320.1" width="4.5" height="4.5"/><rect x="394.0" y="312.2" width="4.5" height="4.5"/><rect x="398.0" y="331.3" width="4.5" height="4.5"/><rect x="401.9" y="343.5" width="4.5" height="4.5"/><rect x="405.9" y="329.8" width="4.5" height="4.5"/><rect x="409.8" y="322.2" width="4.5" height="4.5"/></g>
<polyline points="67.6,330.1 71.5,334.5 75.5,323.2 79.4,328.1 83.4,337.0 87.4,333.7 91.3,330.5 95.3,331.2 99.2,341.1 103.2,330.4 107.2,321.6 111.1,306.7 115.1,317.9 119.0,319.1 123.0,326.1 127.0,322.6 130.9,323.6 134.9,317.4 138.8,313.4 142.8,330.3 146.8,323.4 150.7,315.8 154.7,310.5 158.6,315.2 162.6,308.2 166.6,320.1 170.5,321.0 174.5,320.8 178.4,318.7 182.4,318.5 186.4,318.4 190.3,317.5 194.3,320.3 198.2,332.7 202.2,319.7 206.2,318.9 210.1,322.3 214.1,324.4 218.0,316.6 222.0,318.5 226.0,333.4 229.9,341.8 233.9,317.6 237.8,319.7 241.8,320.7 245.8,325.3 249.7,322.6 253.7,326.9 257.6,336.1 261.6,332.2 265.6,331.4 269.5,333.8 273.5,335.4 277.4,329.6 281.4,325.8 285.4,317.9 289.3,328.6 293.3,326.8 297.2,332.7 301.2,328.7 305.2,329.1 309.1,340.1 313.1,333.2 317.0,335.4 321.0,322.3 325.0,325.3 328.9,331.4 332.9,332.7 336.8,338.3 340.8,338.9 344.8,340.6 348.7,342.4 352.7,344.3 356.6,347.7 360.6,348.1 364.6,341.5 368.5,341.1 372.5,318.2 376.4,319.7 380.4,317.5 384.4,329.7 388.3,335.4 392.3,327.0 396.2,320.5 400.2,334.6 404.2,340.2 408.1,329.2 412.1,323.8" fill="none" stroke="#e6969e" stroke-width="0.8" stroke-linejoin="round"/>
<g fill="#e8284b"><rect x="65.3" y="327.9" width="4.5" height="4.5"/><rect x="69.3" y="332.2" width="4.5" height="4.5"/><rect x="73.2" y="320.9" width="4.5" height="4.5"/><rect x="77.2" y="325.9" width="4.5" height="4.5"/><rect x="81.2" y="334.8" width="4.5" height="4.5"/><rect x="85.1" y="331.5" width="4.5" height="4.5"/><rect x="89.1" y="328.3" width="4.5" height="4.5"/><rect x="93.0" y="328.9" width="4.5" height="4.5"/><rect x="97.0" y="338.9" width="4.5" height="4.5"/><rect x="101.0" y="328.2" width="4.5" height="4.5"/><rect x="104.9" y="319.4" width="4.5" height="4.5"/><rect x="108.9" y="304.4" width="4.5" height="4.5"/><rect x="112.8" y="315.6" width="4.5" height="4.5"/><rect x="116.8" y="316.8" width="4.5" height="4.5"/><rect x="120.8" y="323.9" width="4.5" height="4.5"/><rect x="124.7" y="320.4" width="4.5" height="4.5"/><rect x="128.7" y="321.3" width="4.5" height="4.5"/><rect x="132.6" y="315.2" width="4.5" height="4.5"/><rect x="136.6" y="311.2" width="4.5" height="4.5"/><rect x="140.6" y="328.1" width="4.5" height="4.5"/><rect x="144.5" y="321.2" width="4.5" height="4.5"/><rect x="148.5" y="313.5" width="4.5" height="4.5"/><rect x="152.4" y="308.3" width="4.5" height="4.5"/><rect x="156.4" y="312.9" width="4.5" height="4.5"/><rect x="160.3" y="305.9" width="4.5" height="4.5"/><rect x="164.3" y="317.9" width="4.5" height="4.5"/><rect x="168.3" y="318.7" width="4.5" height="4.5"/><rect x="172.2" y="318.6" width="4.5" height="4.5"/><rect x="176.2" y="316.4" width="4.5" height="4.5"/><rect x="180.2" y="316.2" width="4.5" height="4.5"/><rect x="184.1" y="316.2" width="4.5" height="4.5"/><rect x="188.1" y="315.3" width="4.5" height="4.5"/><rect x="192.0" y="318.0" width="4.5" height="4.5"/><rect x="196.0" y="330.5" width="4.5" height="4.5"/><rect x="199.9" y="317.4" width="4.5" height="4.5"/><rect x="203.9" y="316.6" width="4.5" height="4.5"/><rect x="207.9" y="320.0" width="4.5" height="4.5"/><rect x="211.8" y="322.1" width="4.5" height="4.5"/><rect x="215.8" y="314.3" width="4.5" height="4.5"/><rect x="219.8" y="316.3" width="4.5" height="4.5"/><rect x="223.7" y="331.1" width="4.5" height="4.5"/><rect x="227.7" y="339.6" width="4.5" height="4.5"/><rect x="231.6" y="315.3" width="4.5" height="4.5"/><rect x="235.6" y="317.5" width="4.5" height="4.5"/><rect x="239.5" y="318.4" width="4.5" height="4.5"/><rect x="243.5" y="323.0" width="4.5" height="4.5"/><rect x="247.5" y="320.3" width="4.5" height="4.5"/><rect x="251.4" y="324.7" width="4.5" height="4.5"/><rect x="255.4" y="333.9" width="4.5" height="4.5"/><rect x="259.4" y="329.9" width="4.5" height="4.5"/><rect x="263.3" y="329.1" width="4.5" height="4.5"/><rect x="267.3" y="331.5" width="4.5" height="4.5"/><rect x="271.2" y="333.1" width="4.5" height="4.5"/><rect x="275.2" y="327.3" width="4.5" height="4.5"/><rect x="279.2" y="323.5" width="4.5" height="4.5"/><rect x="283.1" y="315.6" width="4.5" height="4.5"/><rect x="287.1" y="326.4" width="4.5" height="4.5"/><rect x="291.0" y="324.6" width="4.5" height="4.5"/><rect x="295.0" y="330.5" width="4.5" height="4.5"/><rect x="298.9" y="326.4" width="4.5" height="4.5"/><rect x="302.9" y="326.8" width="4.5" height="4.5"/><rect x="306.9" y="337.8" width="4.5" height="4.5"/><rect x="310.8" y="331.0" width="4.5" height="4.5"/><rect x="314.8" y="333.1" width="4.5" height="4.5"/><rect x="318.8" y="320.1" width="4.5" height="4.5"/><rect x="322.7" y="323.0" width="4.5" height="4.5"/><rect x="326.7" y="329.2" width="4.5" height="4.5"/><rect x="330.6" y="330.5" width="4.5" height="4.5"/><rect x="334.6" y="336.0" width="4.5" height="4.5"/><rect x="338.6" y="336.6" width="4.5" height="4.5"/><rect x="342.5" y="338.4" width="4.5" height="4.5"/><rect x="346.5" y="340.2" width="4.5" height="4.5"/><rect x="350.4" y="342.1" width="4.5" height="4.5"/><rect x="354.4" y="345.4" width="4.5" height="4.5"/><rect x="358.4" y="345.8" width="4.5" height="4.5"/><rect x="362.3" y="339.3" width="4.5" height="4.5"/><rect x="366.3" y="338.9" width="4.5" height="4.5"/><rect x="370.2" y="315.9" width="4.5" height="4.5"/><rect x="374.2" y="317.4" width="4.5" height="4.5"/><rect x="378.2" y="315.2" width="4.5" height="4.5"/><rect x="382.1" y="327.4" width="4.5" height="4.5"/><rect x="386.1" y="333.2" width="4.5" height="4.5"/><rect x="390.0" y="324.8" width="4.5" height="4.5"/><rect x="394.0" y="318.2" width="4.5" height="4.5"/><rect x="398.0" y="332.3" width="4.5" height="4.5"/><rect x="401.9" y="337.9" width="4.5" height="4.5"/><rect x="405.9" y="326.9" width="4.5" height="4.5"/><rect x="409.8" y="321.6" width="4.5" height="4.5"/></g>
<polyline points="67.6,327.3 71.5,329.7 75.5,320.7 79.4,324.7 83.4,331.7 87.4,331.3 91.3,330.1 95.3,330.3 99.2,337.8 103.2,330.3 107.2,318.7 111.1,303.6 115.1,314.6 119.0,318.1 123.0,321.7 127.0,318.7 130.9,320.7 134.9,316.7 138.8,314.0 142.8,326.7 146.8,318.7 150.7,313.6 154.7,306.6 158.6,313.4 162.6,304.6 166.6,316.6 170.5,320.0 174.5,320.7 178.4,316.6 182.4,318.9 186.4,313.6 190.3,314.6 194.3,316.6 198.2,330.7 202.2,317.6 206.2,317.6 210.1,324.4 214.1,319.7 218.0,314.6 222.0,320.0 226.0,338.8 229.9,351.9 233.9,315.6 237.8,315.6 241.8,324.1 245.8,321.7 249.7,318.7 253.7,327.0 257.6,331.7 261.6,329.5 265.6,330.5 269.5,351.5 273.5,336.4 277.4,327.7 281.4,321.7 285.4,314.6 289.3,329.3 293.3,323.7 297.2,333.4 301.2,326.7 305.2,327.5 309.1,340.8 313.1,331.7 317.0,335.4 321.0,318.7 325.0,321.7 328.9,327.7 332.9,336.1 336.8,334.8 340.8,339.1 344.8,338.8 348.7,341.1 352.7,340.8 356.6,350.9 360.6,350.9 364.6,340.1 368.5,341.7 372.5,315.6 376.4,323.3 380.4,313.6 384.4,326.7 388.3,336.0 392.3,325.9 396.2,317.8 400.2,337.9 404.2,371.4 408.1,332.4 412.1,319.0" fill="none" stroke="#9c92cc" stroke-width="0.8" stroke-linejoin="round"/>
<g fill="#6a5acd"><rect x="65.3" y="325.1" width="4.5" height="4.5"/><rect x="69.3" y="327.5" width="4.5" height="4.5"/><rect x="73.2" y="318.4" width="4.5" height="4.5"/><rect x="77.2" y="322.4" width="4.5" height="4.5"/><rect x="81.2" y="329.5" width="4.5" height="4.5"/><rect x="85.1" y="329.1" width="4.5" height="4.5"/><rect x="89.1" y="327.8" width="4.5" height="4.5"/><rect x="93.0" y="328.0" width="4.5" height="4.5"/><rect x="97.0" y="335.5" width="4.5" height="4.5"/><rect x="101.0" y="328.1" width="4.5" height="4.5"/><rect x="104.9" y="316.4" width="4.5" height="4.5"/><rect x="108.9" y="301.3" width="4.5" height="4.5"/><rect x="112.8" y="312.4" width="4.5" height="4.5"/><rect x="116.8" y="315.9" width="4.5" height="4.5"/><rect x="120.8" y="319.4" width="4.5" height="4.5"/><rect x="124.7" y="316.4" width="4.5" height="4.5"/><rect x="128.7" y="318.4" width="4.5" height="4.5"/><rect x="132.6" y="314.4" width="4.5" height="4.5"/><rect x="136.6" y="311.7" width="4.5" height="4.5"/><rect x="140.6" y="324.5" width="4.5" height="4.5"/><rect x="144.5" y="316.4" width="4.5" height="4.5"/><rect x="148.5" y="311.4" width="4.5" height="4.5"/><rect x="152.4" y="304.3" width="4.5" height="4.5"/><rect x="156.4" y="311.1" width="4.5" height="4.5"/><rect x="160.3" y="302.3" width="4.5" height="4.5"/><rect x="164.3" y="314.4" width="4.5" height="4.5"/><rect x="168.3" y="317.7" width="4.5" height="4.5"/><rect x="172.2" y="318.5" width="4.5" height="4.5"/><rect x="176.2" y="314.4" width="4.5" height="4.5"/><rect x="180.2" y="316.7" width="4.5" height="4.5"/><rect x="184.1" y="311.4" width="4.5" height="4.5"/><rect x="188.1" y="312.4" width="4.5" height="4.5"/><rect x="192.0" y="314.4" width="4.5" height="4.5"/><rect x="196.0" y="328.5" width="4.5" height="4.5"/><rect x="199.9" y="315.4" width="4.5" height="4.5"/><rect x="203.9" y="315.4" width="4.5" height="4.5"/><rect x="207.9" y="322.1" width="4.5" height="4.5"/><rect x="211.8" y="317.4" width="4.5" height="4.5"/><rect x="215.8" y="312.4" width="4.5" height="4.5"/><rect x="219.8" y="317.7" width="4.5" height="4.5"/><rect x="223.7" y="336.5" width="4.5" height="4.5"/><rect x="227.7" y="349.6" width="4.5" height="4.5"/><rect x="231.6" y="313.4" width="4.5" height="4.5"/><rect x="235.6" y="313.4" width="4.5" height="4.5"/><rect x="239.5" y="321.8" width="4.5" height="4.5"/><rect x="243.5" y="319.4" width="4.5" height="4.5"/><rect x="247.5" y="316.4" width="4.5" height="4.5"/><rect x="251.4" y="324.7" width="4.5" height="4.5"/><rect x="255.4" y="329.5" width="4.5" height="4.5"/><rect x="259.4" y="327.3" width="4.5" height="4.5"/><rect x="263.3" y="328.2" width="4.5" height="4.5"/><rect x="267.3" y="349.2" width="4.5" height="4.5"/><rect x="271.2" y="334.1" width="4.5" height="4.5"/><rect x="275.2" y="325.5" width="4.5" height="4.5"/><rect x="279.2" y="319.4" width="4.5" height="4.5"/><rect x="283.1" y="312.4" width="4.5" height="4.5"/><rect x="287.1" y="327.1" width="4.5" height="4.5"/><rect x="291.0" y="321.4" width="4.5" height="4.5"/><rect x="295.0" y="331.2" width="4.5" height="4.5"/><rect x="298.9" y="324.5" width="4.5" height="4.5"/><rect x="302.9" y="325.3" width="4.5" height="4.5"/><rect x="306.9" y="338.5" width="4.5" height="4.5"/><rect x="310.8" y="329.5" width="4.5" height="4.5"/><rect x="314.8" y="333.1" width="4.5" height="4.5"/><rect x="318.8" y="316.4" width="4.5" height="4.5"/><rect x="322.7" y="319.4" width="4.5" height="4.5"/><rect x="326.7" y="325.5" width="4.5" height="4.5"/><rect x="330.6" y="333.8" width="4.5" height="4.5"/><rect x="334.6" y="332.5" width="4.5" height="4.5"/><rect x="338.6" y="336.9" width="4.5" height="4.5"/><rect x="342.5" y="336.5" width="4.5" height="4.5"/><rect x="346.5" y="338.9" width="4.5" height="4.5"/><rect x="350.4" y="338.5" width="4.5" height="4.5"/><rect x="354.4" y="348.6" width="4.5" height="4.5"/><rect x="358.4" y="348.6" width="4.5" height="4.5"/><rect x="362.3" y="337.8" width="4.5" height="4.5"/><rect x="366.3" y="339.4" width="4.5" height="4.5"/><rect x="370.2" y="313.4" width="4.5" height="4.5"/><rect x="374.2" y="321.0" width="4.5" height="4.5"/><rect x="378.2" y="311.4" width="4.5" height="4.5"/><rect x="382.1" y="324.5" width="4.5" height="4.5"/><rect x="386.1" y="333.7" width="4.5" height="4.5"/><rect x="390.0" y="323.7" width="4.5" height="4.5"/><rect x="394.0" y="315.5" width="4.5" height="4.5"/><rect x="398.0" y="335.7" width="4.5" height="4.5"/><rect x="401.9" y="369.2" width="4.5" height="4.5"/><rect x="405.9" y="330.1" width="4.5" height="4.5"/><rect x="409.8" y="316.7" width="4.5" height="4.5"/></g>
<polyline points="67.6,332.7 71.5,336.8 75.5,325.7 79.4,332.7 83.4,342.8 87.4,335.8 91.3,331.7 95.3,332.7 99.2,340.8 103.2,333.8 107.2,328.7 111.1,309.6 115.1,320.7 119.0,321.7 123.0,326.7 127.0,326.7 130.9,325.7 134.9,317.6 138.8,314.6 142.8,332.7 146.8,325.7 150.7,317.6 154.7,312.6 158.6,314.6 162.6,304.6 166.6,321.7 170.5,321.7 174.5,325.7 178.4,319.7 182.4,320.7 186.4,323.7 190.3,322.7 194.3,321.7 198.2,327.7 202.2,321.7 206.2,321.7 210.1,324.7 214.1,328.7 218.0,319.7 222.0,318.7 226.0,329.7 229.9,332.7 233.9,320.7 237.8,325.7 241.8,325.7 245.8,330.7 249.7,324.7 253.7,327.7 257.6,336.8 261.6,331.7 265.6,333.8 269.5,331.7 273.5,336.8 277.4,329.7 281.4,326.7 285.4,322.7 289.3,329.7 293.3,327.7 297.2,332.7 301.2,331.7 305.2,331.7 309.1,338.8 313.1,334.8 317.0,335.8 321.0,325.7 325.0,328.7 328.9,334.8 332.9,338.8 336.8,338.8 340.8,340.8 344.8,343.8 348.7,344.8 352.7,341.8 356.6,346.8 360.6,343.8 364.6,341.8 368.5,341.8 372.5,319.7 376.4,324.7 380.4,319.7 384.4,331.7 388.3,330.7 392.3,327.9 396.2,323.4 400.2,329.0 404.2,336.8 408.1,329.0 412.1,327.9" fill="none" stroke="#40e4e4" stroke-width="0.8" stroke-linejoin="round"/>
<g fill="#14f0f0"><rect x="65.3" y="330.5" width="4.5" height="4.5"/><rect x="69.3" y="334.5" width="4.5" height="4.5"/><rect x="73.2" y="323.4" width="4.5" height="4.5"/><rect x="77.2" y="330.5" width="4.5" height="4.5"/><rect x="81.2" y="340.6" width="4.5" height="4.5"/><rect x="85.1" y="333.5" width="4.5" height="4.5"/><rect x="89.1" y="329.5" width="4.5" height="4.5"/><rect x="93.0" y="330.5" width="4.5" height="4.5"/><rect x="97.0" y="338.5" width="4.5" height="4.5"/><rect x="101.0" y="331.5" width="4.5" height="4.5"/><rect x="104.9" y="326.5" width="4.5" height="4.5"/><rect x="108.9" y="307.3" width="4.5" height="4.5"/><rect x="112.8" y="318.4" width="4.5" height="4.5"/><rect x="116.8" y="319.4" width="4.5" height="4.5"/><rect x="120.8" y="324.5" width="4.5" height="4.5"/><rect x="124.7" y="324.5" width="4.5" height="4.5"/><rect x="128.7" y="323.4" width="4.5" height="4.5"/><rect x="132.6" y="315.4" width="4.5" height="4.5"/><rect x="136.6" y="312.4" width="4.5" height="4.5"/><rect x="140.6" y="330.5" width="4.5" height="4.5"/><rect x="144.5" y="323.4" width="4.5" height="4.5"/><rect x="148.5" y="315.4" width="4.5" height="4.5"/><rect x="152.4" y="310.4" width="4.5" height="4.5"/><rect x="156.4" y="312.4" width="4.5" height="4.5"/><rect x="160.3" y="302.3" width="4.5" height="4.5"/><rect x="164.3" y="319.4" width="4.5" height="4.5"/><rect x="168.3" y="319.4" width="4.5" height="4.5"/><rect x="172.2" y="323.4" width="4.5" height="4.5"/><rect x="176.2" y="317.4" width="4.5" height="4.5"/><rect x="180.2" y="318.4" width="4.5" height="4.5"/><rect x="184.1" y="321.4" width="4.5" height="4.5"/><rect x="188.1" y="320.4" width="4.5" height="4.5"/><rect x="192.0" y="319.4" width="4.5" height="4.5"/><rect x="196.0" y="325.5" width="4.5" height="4.5"/><rect x="199.9" y="319.4" width="4.5" height="4.5"/><rect x="203.9" y="319.4" width="4.5" height="4.5"/><rect x="207.9" y="322.4" width="4.5" height="4.5"/><rect x="211.8" y="326.5" width="4.5" height="4.5"/><rect x="215.8" y="317.4" width="4.5" height="4.5"/><rect x="219.8" y="316.4" width="4.5" height="4.5"/><rect x="223.7" y="327.5" width="4.5" height="4.5"/><rect x="227.7" y="330.5" width="4.5" height="4.5"/><rect x="231.6" y="318.4" width="4.5" height="4.5"/><rect x="235.6" y="323.4" width="4.5" height="4.5"/><rect x="239.5" y="323.4" width="4.5" height="4.5"/><rect x="243.5" y="328.5" width="4.5" height="4.5"/><rect x="247.5" y="322.4" width="4.5" height="4.5"/><rect x="251.4" y="325.5" width="4.5" height="4.5"/><rect x="255.4" y="334.5" width="4.5" height="4.5"/><rect x="259.4" y="329.5" width="4.5" height="4.5"/><rect x="263.3" y="331.5" width="4.5" height="4.5"/><rect x="267.3" y="329.5" width="4.5" height="4.5"/><rect x="271.2" y="334.5" width="4.5" height="4.5"/><rect x="275.2" y="327.5" width="4.5" height="4.5"/><rect x="279.2" y="324.5" width="4.5" height="4.5"/><rect x="283.1" y="320.4" width="4.5" height="4.5"/><rect x="287.1" y="327.5" width="4.5" height="4.5"/><rect x="291.0" y="325.5" width="4.5" height="4.5"/><rect x="295.0" y="330.5" width="4.5" height="4.5"/><rect x="298.9" y="329.5" width="4.5" height="4.5"/><rect x="302.9" y="329.5" width="4.5" height="4.5"/><rect x="306.9" y="336.5" width="4.5" height="4.5"/><rect x="310.8" y="332.5" width="4.5" height="4.5"/><rect x="314.8" y="333.5" width="4.5" height="4.5"/><rect x="318.8" y="323.4" width="4.5" height="4.5"/><rect x="322.7" y="326.5" width="4.5" height="4.5"/><rect x="326.7" y="332.5" width="4.5" height="4.5"/><rect x="330.6" y="336.5" width="4.5" height="4.5"/><rect x="334.6" y="336.5" width="4.5" height="4.5"/><rect x="338.6" y="338.5" width="4.5" height="4.5"/><rect x="342.5" y="341.6" width="4.5" height="4.5"/><rect x="346.5" y="342.6" width="4.5" height="4.5"/><rect x="350.4" y="339.6" width="4.5" height="4.5"/><rect x="354.4" y="344.6" width="4.5" height="4.5"/><rect x="358.4" y="341.6" width="4.5" height="4.5"/><rect x="362.3" y="339.6" width="4.5" height="4.5"/><rect x="366.3" y="339.6" width="4.5" height="4.5"/><rect x="370.2" y="317.4" width="4.5" height="4.5"/><rect x="374.2" y="322.4" width="4.5" height="4.5"/><rect x="378.2" y="317.4" width="4.5" height="4.5"/><rect x="382.1" y="329.5" width="4.5" height="4.5"/><rect x="386.1" y="328.5" width="4.5" height="4.5"/><rect x="390.0" y="325.6" width="4.5" height="4.5"/><rect x="394.0" y="321.2" width="4.5" height="4.5"/><rect x="398.0" y="326.8" width="4.5" height="4.5"/><rect x="401.9" y="334.6" width="4.5" height="4.5"/><rect x="405.9" y="326.8" width="4.5" height="4.5"/><rect x="409.8" y="325.6" width="4.5" height="4.5"/></g>
<circle cx="198.2" cy="348.0" r="4.6" fill="none" stroke="#e01414" stroke-width="1.5"/>
<circle cx="229.9" cy="351.2" r="4.6" fill="none" stroke="#e01414" stroke-width="1.5"/>
<circle cx="269.5" cy="351.0" r="4.6" fill="none" stroke="#e01414" stroke-width="1.5"/>
<circle cx="404.2" cy="371.0" r="4.6" fill="none" stroke="#e01414" stroke-width="1.5"/>
</g>
<rect x="63.6" y="290.0" width="356.0" height="104.0" fill="none" stroke="#1e1e1e" stroke-width="1.5"/>
<line x1="63.6" y1="394.0" x2="63.6" y2="404.0" stroke="#1e1e1e" stroke-width="1.5"/>
<line x1="107.2" y1="394.0" x2="107.2" y2="404.0" stroke="#1e1e1e" stroke-width="1.5"/>
<line x1="150.7" y1="394.0" x2="150.7" y2="404.0" stroke="#1e1e1e" stroke-width="1.5"/>
<line x1="194.3" y1="394.0" x2="194.3" y2="404.0" stroke="#1e1e1e" stroke-width="1.5"/>
<line x1="237.8" y1="394.0" x2="237.8" y2="404.0" stroke="#1e1e1e" stroke-width="1.5"/>
<line x1="281.4" y1="394.0" x2="281.4" y2="404.0" stroke="#1e1e1e" stroke-width="1.5"/>
<line x1="325.0" y1="394.0" x2="325.0" y2="404.0" stroke="#1e1e1e" stroke-width="1.5"/>
<line x1="368.5" y1="394.0" x2="368.5" y2="404.0" stroke="#1e1e1e" stroke-width="1.5"/>
<line x1="412.1" y1="394.0" x2="412.1" y2="404.0" stroke="#1e1e1e" stroke-width="1.5"/>
<line x1="53.5" y1="290.0" x2="63.6" y2="290.0" stroke="#1e1e1e" stroke-width="1.5"/>
<text x="46.0" y="293.0" class="yt">160</text>
<line x1="53.5" y1="304.8" x2="63.6" y2="304.8" stroke="#1e1e1e" stroke-width="1.5"/>
<text x="46.0" y="307.8" class="yt">140</text>
<line x1="53.5" y1="319.7" x2="63.6" y2="319.7" stroke="#1e1e1e" stroke-width="1.5"/>
<text x="46.0" y="322.7" class="yt">120</text>
<line x1="53.5" y1="334.6" x2="63.6" y2="334.6" stroke="#1e1e1e" stroke-width="1.5"/>
<text x="46.0" y="337.6" class="yt">100</text>
<line x1="53.5" y1="349.4" x2="63.6" y2="349.4" stroke="#1e1e1e" stroke-width="1.5"/>
<text x="46.0" y="352.4" class="yt">80</text>
<line x1="53.5" y1="364.3" x2="63.6" y2="364.3" stroke="#1e1e1e" stroke-width="1.5"/>
<text x="46.0" y="367.3" class="yt">60</text>
<line x1="53.5" y1="379.1" x2="63.6" y2="379.1" stroke="#1e1e1e" stroke-width="1.5"/>
<text x="46.0" y="382.1" class="yt">40</text>
<line x1="53.5" y1="394.0" x2="63.6" y2="394.0" stroke="#1e1e1e" stroke-width="1.5"/>
<text x="46.0" y="397.0" class="yt">20</text>
<line x1="58.8" y1="297.4" x2="63.6" y2="297.4" stroke="#1e1e1e" stroke-width="1.5"/>
<line x1="58.8" y1="312.3" x2="63.6" y2="312.3" stroke="#1e1e1e" stroke-width="1.5"/>
<line x1="58.8" y1="327.1" x2="63.6" y2="327.1" stroke="#1e1e1e" stroke-width="1.5"/>
<line x1="58.8" y1="342.0" x2="63.6" y2="342.0" stroke="#1e1e1e" stroke-width="1.5"/>
<line x1="58.8" y1="356.9" x2="63.6" y2="356.9" stroke="#1e1e1e" stroke-width="1.5"/>
<line x1="58.8" y1="371.7" x2="63.6" y2="371.7" stroke="#1e1e1e" stroke-width="1.5"/>
<line x1="58.8" y1="386.6" x2="63.6" y2="386.6" stroke="#1e1e1e" stroke-width="1.5"/>
<text x="61.5" y="281.3" class="pl">c</text>
<text transform="translate(19.4,342) rotate(-90)" class="al">SOS</text>
<text x="63.6" y="419.6" class="xt">0</text>
<text x="107.2" y="419.6" class="xt">11</text>
<text x="150.7" y="419.6" class="xt">22</text>
<text x="194.3" y="419.6" class="xt">33</text>
<text x="237.8" y="419.6" class="xt">44</text>
<text x="281.4" y="419.6" class="xt">55</text>
<text x="325.0" y="419.6" class="xt">66</text>
<text x="368.5" y="419.6" class="xt">77</text>
<text x="412.1" y="419.6" class="xt">88</text>
<text x="242" y="439.8" class="xl">Site*Year</text>
<line x1="428" y1="111.8" x2="451" y2="111.8" stroke="#2a2aa0" stroke-width="0.9"/>
<circle cx="439.6" cy="111.8" r="2.2" fill="#0a0adc"/>
<text x="453.6" y="115.2" class="lg">Original NDVI max</text>
<line x1="428" y1="124.5" x2="451" y2="124.5" stroke="#e0a880" stroke-width="0.9"/>
<circle cx="439.6" cy="124.5" r="2.2" fill="#d2691e"/>
<text x="453.6" y="127.9" class="lg">CW NDVI max</text>
<line x1="428" y1="137.2" x2="451" y2="137.2" stroke="#40bc5c" stroke-width="0.9"/>
<circle cx="439.6" cy="137.2" r="2.2" fill="#00a01e"/>
<text x="453.6" y="140.6" class="lg">SG NDVI max</text>
<line x1="428" y1="150.0" x2="451" y2="150.0" stroke="#e6969e" stroke-width="0.9"/>
<circle cx="439.6" cy="150.0" r="2.2" fill="#f01e1e"/>
<text x="453.6" y="153.4" class="lg">AG NDVI max</text>
<line x1="428" y1="162.7" x2="451" y2="162.7" stroke="#9c92cc" stroke-width="0.9"/>
<circle cx="439.6" cy="162.7" r="2.2" fill="#6a5acd"/>
<text x="453.6" y="166.1" class="lg">DL NDVI max</text>
<line x1="428" y1="175.4" x2="451" y2="175.4" stroke="#f2be52" stroke-width="0.9"/>
<circle cx="439.6" cy="175.4" r="2.2" fill="#ffa514"/>
<text x="453.6" y="178.8" class="lg">WS NDVI max</text>
<line x1="428" y1="188.1" x2="451" y2="188.1" stroke="#40e4e4" stroke-width="0.9"/>
<circle cx="439.6" cy="188.1" r="2.2" fill="#14f0f0"/>
<text x="453.6" y="191.5" class="lg">HANTS NDVI max</text>
<line x1="428" y1="213.0" x2="451" y2="213.0" stroke="#2a2aa0" stroke-width="0.9"/>
<path d="M439.6,210.2L442.3,214.8L436.9,214.8Z" fill="#0a0adc"/>
<text x="453.6" y="216.4" class="lg">Original NDVI min</text>
<line x1="428" y1="225.7" x2="451" y2="225.7" stroke="#e0a880" stroke-width="0.9"/>
<path d="M439.6,222.9L442.3,227.5L436.9,227.5Z" fill="#d2691e"/>
<text x="453.6" y="229.1" class="lg">CW NDVI min</text>
<line x1="428" y1="238.4" x2="451" y2="238.4" stroke="#40bc5c" stroke-width="0.9"/>
<path d="M439.6,235.6L442.3,240.2L436.9,240.2Z" fill="#00a01e"/>
<text x="453.6" y="241.8" class="lg">SG NDVI min</text>
<line x1="428" y1="251.0" x2="451" y2="251.0" stroke="#e6969e" stroke-width="0.9"/>
<path d="M439.6,248.2L442.3,252.8L436.9,252.8Z" fill="#f01e1e"/>
<text x="453.6" y="254.4" class="lg">AG NDVI min</text>
<line x1="428" y1="263.7" x2="451" y2="263.7" stroke="#9c92cc" stroke-width="0.9"/>
<path d="M439.6,260.9L442.3,265.5L436.9,265.5Z" fill="#6a5acd"/>
<text x="453.6" y="267.1" class="lg">DL NDVI min</text>
<line x1="428" y1="276.4" x2="451" y2="276.4" stroke="#f2be52" stroke-width="0.9"/>
<path d="M439.6,273.6L442.3,278.2L436.9,278.2Z" fill="#ffa514"/>
<text x="453.6" y="279.8" class="lg">WS NDVI min</text>
<line x1="428" y1="289.1" x2="451" y2="289.1" stroke="#40e4e4" stroke-width="0.9"/>
<path d="M439.6,286.3L442.3,290.9L436.9,290.9Z" fill="#14f0f0"/>
<text x="453.6" y="292.5" class="lg">HANTS NDVI min</text>
<line x1="428" y1="314.7" x2="451" y2="314.7" stroke="#2a2aa0" stroke-width="0.9"/>
<rect x="437.3" y="312.4" width="4.6" height="4.6" fill="#0a0adc"/>
<text x="453.6" y="318.1" class="lg">SOS Observation</text>
<line x1="428" y1="327.2" x2="451" y2="327.2" stroke="#e0a880" stroke-width="0.9"/>
<rect x="437.3" y="324.9" width="4.6" height="4.6" fill="#d2691e"/>
<text x="453.6" y="330.6" class="lg">CW SOS</text>
<line x1="428" y1="339.7" x2="451" y2="339.7" stroke="#40bc5c" stroke-width="0.9"/>
<rect x="437.3" y="337.4" width="4.6" height="4.6" fill="#00a01e"/>
<text x="453.6" y="343.1" class="lg">SG SOS</text>
<line x1="428" y1="352.3" x2="451" y2="352.3" stroke="#e6969e" stroke-width="0.9"/>
<rect x="437.3" y="350.0" width="4.6" height="4.6" fill="#f01e1e"/>
<text x="453.6" y="355.7" class="lg">AG SOS</text>
<line x1="428" y1="364.8" x2="451" y2="364.8" stroke="#9c92cc" stroke-width="0.9"/>
<rect x="437.3" y="362.5" width="4.6" height="4.6" fill="#6a5acd"/>
<text x="453.6" y="368.2" class="lg">DL SOS</text>
<line x1="428" y1="377.3" x2="451" y2="377.3" stroke="#f2be52" stroke-width="0.9"/>
<rect x="437.3" y="375.0" width="4.6" height="4.6" fill="#ffa514"/>
<text x="453.6" y="380.7" class="lg">WS SOS</text>
<line x1="428" y1="389.8" x2="451" y2="389.8" stroke="#40e4e4" stroke-width="0.9"/>
<rect x="437.3" y="387.5" width="4.6" height="4.6" fill="#14f0f0"/>
<text x="453.6" y="393.2" class="lg">HANTS SOS</text>
</g>
</svg>
</body></html>
